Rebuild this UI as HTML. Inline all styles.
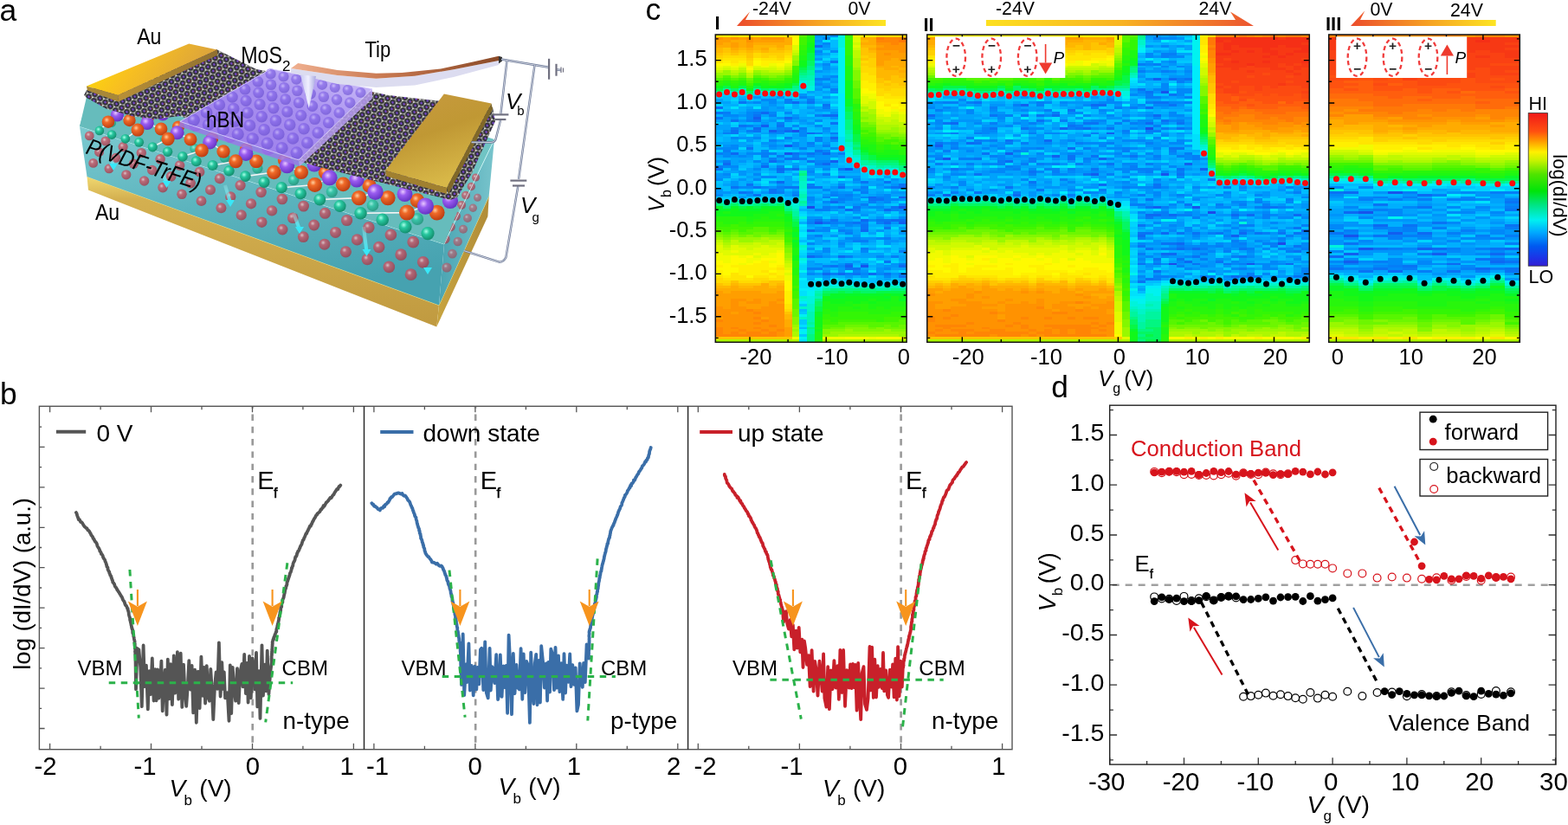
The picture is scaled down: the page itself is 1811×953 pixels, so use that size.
<!DOCTYPE html>
<html><head><meta charset="utf-8"><title>Figure</title>
<style>
html,body{margin:0;padding:0;background:#fff;overflow:hidden}
svg{display:block}
text{font-family:"Liberation Sans",Arial,sans-serif}
</style></head><body>
<svg width="1811" height="953" viewBox="0 0 1811 953">
<rect width="1811" height="953" fill="#fff"/>
<defs>
<radialGradient id="sRed" cx="0.38" cy="0.35" r="0.7"><stop offset="0" stop-color="#f8c8cc"/><stop offset="0.3" stop-color="#d05868"/><stop offset="1" stop-color="#a03848"/></radialGradient>
<radialGradient id="sOr" cx="0.38" cy="0.35" r="0.7"><stop offset="0" stop-color="#ffd0a0"/><stop offset="0.3" stop-color="#f06a28"/><stop offset="1" stop-color="#b83a10"/></radialGradient>
<radialGradient id="sGr" cx="0.38" cy="0.35" r="0.7"><stop offset="0" stop-color="#a8ffe8"/><stop offset="0.35" stop-color="#28c8a0"/><stop offset="1" stop-color="#108868"/></radialGradient>
<radialGradient id="sPu" cx="0.38" cy="0.35" r="0.7"><stop offset="0" stop-color="#e8c8ff"/><stop offset="0.35" stop-color="#9a5cf0"/><stop offset="1" stop-color="#6030c0"/></radialGradient>
<radialGradient id="sPu2" cx="0.38" cy="0.35" r="0.7"><stop offset="0" stop-color="#d8ccff"/><stop offset="0.35" stop-color="#7c5ce8"/><stop offset="1" stop-color="#5a40c8"/></radialGradient>
<linearGradient id="goldF" x1="0" y1="0" x2="0" y2="1"><stop offset="0" stop-color="#f0d870"/><stop offset="0.15" stop-color="#d4b050"/><stop offset="1" stop-color="#c09a40"/></linearGradient>
<linearGradient id="goldR" x1="0" y1="0" x2="1" y2="0"><stop offset="0" stop-color="#c8a440"/><stop offset="1" stop-color="#b08c38"/></linearGradient>
<linearGradient id="tealF" x1="0" y1="0" x2="0.3" y2="1"><stop offset="0" stop-color="#7ccad0"/><stop offset="0.5" stop-color="#5cb4be"/><stop offset="1" stop-color="#46a2b0"/></linearGradient>
<linearGradient id="tealR" x1="0" y1="0" x2="1" y2="0"><stop offset="0" stop-color="#4aa4b2"/><stop offset="1" stop-color="#78c4cc"/></linearGradient>
<linearGradient id="hbnG" x1="0" y1="1" x2="1" y2="0"><stop offset="0" stop-color="#9878e8"/><stop offset="0.6" stop-color="#a890f0"/><stop offset="1" stop-color="#d0c4f8"/></linearGradient>
<linearGradient id="auL" x1="0" y1="0" x2="1" y2="0.3"><stop offset="0" stop-color="#ffe200"/><stop offset="0.45" stop-color="#f8c020"/><stop offset="1" stop-color="#d8a040"/></linearGradient>
<linearGradient id="auLs" x1="0" y1="0" x2="1" y2="0"><stop offset="0" stop-color="#b89038"/><stop offset="1" stop-color="#907030"/></linearGradient>
<linearGradient id="auR" x1="0" y1="0" x2="0.4" y2="1"><stop offset="0" stop-color="#c89a40"/><stop offset="0.5" stop-color="#c09834"/><stop offset="1" stop-color="#d8b848"/></linearGradient>
<linearGradient id="cant" x1="0" y1="0" x2="1" y2="0"><stop offset="0" stop-color="#f0b090"/><stop offset="0.45" stop-color="#c87850"/><stop offset="1" stop-color="#8a4a28"/></linearGradient>
<linearGradient id="cone" x1="0" y1="0" x2="1" y2="0"><stop offset="0" stop-color="#c8c8f0"/><stop offset="0.5" stop-color="#f0f0ff"/><stop offset="1" stop-color="#a8a8e0"/></linearGradient>
<linearGradient id="cyA" x1="0" y1="0" x2="0" y2="1"><stop offset="0" stop-color="#c0ffff" stop-opacity="0.2"/><stop offset="1" stop-color="#30e8f8"/></linearGradient>
<pattern id="mos2" width="8" height="13.8" patternUnits="userSpaceOnUse" patternTransform="rotate(-22) scale(0.95)">
<rect width="8" height="13.8" fill="#303036"/>
<path d="M0 2.3L4 0L8 2.3M0 2.3V6.9L4 9.2L8 6.9V2.3M4 9.2V13.8M0 16.1" stroke="#9a9a94" stroke-width="1.2" fill="none"/>
<circle cx="4" cy="4.6" r="1.3" fill="#7a48d8"/><circle cx="0" cy="11.5" r="1.3" fill="#7a48d8"/><circle cx="8" cy="11.5" r="1.3" fill="#7a48d8"/>
<circle cx="4" cy="0" r="1" fill="#f0f0e8"/><circle cx="0" cy="6.9" r="1" fill="#f0f0e8"/><circle cx="8" cy="6.9" r="1" fill="#f0f0e8"/><circle cx="4" cy="13.8" r="1" fill="#f0f0e8"/>
<circle cx="0" cy="2.3" r="0.8" fill="#d8d8d0"/><circle cx="8" cy="2.3" r="0.8" fill="#d8d8d0"/><circle cx="4" cy="9.2" r="0.8" fill="#d8d8d0"/>
<circle cx="2" cy="12.5" r="0.6" fill="#c84020"/>
</pattern>
</defs>
<polygon points="100.5,204.0 507.0,352.6 504.3,377.5 102.0,219.6" fill="url(#goldF)"/>
<polygon points="507.0,352.6 564.7,226.6 563.4,250.0 504.3,377.5" fill="url(#goldR)"/>
<path d="M100.5 204L507 352.6L564.7 226.6" stroke="#f0e080" stroke-width="1" fill="none"/>
<polygon points="92.0,146.0 513.0,282.0 507.0,352.6 100.5,204.0" fill="url(#tealF)"/>
<polygon points="513.0,282.0 571.0,161.0 564.7,226.6 507.0,352.6" fill="url(#tealR)"/>
<polygon points="92.0,146.0 513.0,282.0 571.0,161.0 380.0,100.0 150.0,95.0 100.0,118.0" fill="#70c4c4"/>
<g fill="url(#sRed)" opacity="0.8"><circle cx="103.3" cy="156.9" r="5.4"/><circle cx="121.9" cy="163.0" r="5.5"/><circle cx="142.1" cy="169.6" r="5.6"/><circle cx="163.3" cy="176.6" r="5.7"/><circle cx="185.1" cy="183.8" r="5.8"/><circle cx="207.6" cy="191.1" r="5.8"/><circle cx="230.5" cy="198.7" r="5.9"/><circle cx="253.8" cy="206.3" r="6.0"/><circle cx="277.6" cy="214.1" r="6.1"/><circle cx="301.6" cy="222.0" r="6.2"/><circle cx="325.9" cy="230.0" r="6.3"/><circle cx="350.6" cy="238.1" r="6.4"/><circle cx="375.4" cy="246.3" r="6.5"/><circle cx="400.6" cy="254.5" r="6.6"/><circle cx="425.9" cy="262.8" r="6.7"/><circle cx="451.4" cy="271.2" r="6.8"/><circle cx="477.2" cy="279.7" r="6.9"/><circle cx="114.5" cy="175.7" r="5.5"/><circle cx="133.8" cy="182.3" r="5.5"/><circle cx="154.3" cy="189.2" r="5.6"/><circle cx="175.7" cy="196.5" r="5.7"/><circle cx="197.6" cy="203.9" r="5.8"/><circle cx="220.1" cy="211.6" r="5.9"/><circle cx="243.0" cy="219.3" r="6.0"/><circle cx="266.3" cy="227.3" r="6.1"/><circle cx="290.0" cy="235.3" r="6.1"/><circle cx="314.0" cy="243.4" r="6.2"/><circle cx="338.2" cy="251.7" r="6.3"/><circle cx="362.7" cy="260.0" r="6.4"/><circle cx="387.5" cy="268.4" r="6.5"/><circle cx="412.5" cy="276.9" r="6.6"/><circle cx="437.7" cy="285.5" r="6.7"/><circle cx="463.1" cy="294.1" r="6.8"/><circle cx="488.7" cy="302.8" r="6.9"/><circle cx="107.7" cy="188.4" r="5.4"/><circle cx="126.0" cy="194.8" r="5.5"/><circle cx="145.8" cy="201.8" r="5.6"/><circle cx="166.6" cy="209.0" r="5.7"/><circle cx="188.0" cy="216.6" r="5.8"/><circle cx="210.0" cy="224.3" r="5.8"/><circle cx="232.5" cy="232.2" r="5.9"/><circle cx="255.4" cy="240.3" r="6.0"/><circle cx="278.7" cy="248.4" r="6.1"/><circle cx="302.3" cy="256.7" r="6.2"/><circle cx="326.2" cy="265.1" r="6.3"/><circle cx="350.3" cy="273.6" r="6.4"/><circle cx="374.8" cy="282.2" r="6.5"/><circle cx="399.4" cy="290.8" r="6.6"/><circle cx="424.3" cy="299.6" r="6.7"/><circle cx="449.3" cy="308.4" r="6.8"/><circle cx="474.6" cy="317.2" r="6.9"/></g>
<g fill="url(#sRed)"><circle cx="514.0" cy="276.0" r="5.6" opacity="0.75"/><circle cx="520.4" cy="262.0" r="5.4" opacity="0.75"/><circle cx="526.7" cy="249.5" r="5.2" opacity="0.75"/><circle cx="533.0" cy="236.9" r="5.0" opacity="0.75"/><circle cx="538.0" cy="225.6" r="4.9" opacity="0.75"/><circle cx="544.3" cy="215.5" r="4.7" opacity="0.75"/><circle cx="549.5" cy="205.0" r="4.5" opacity="0.75"/><circle cx="516.0" cy="309.0" r="5.6" opacity="0.60"/><circle cx="522.4" cy="293.2" r="5.4" opacity="0.60"/><circle cx="528.7" cy="279.0" r="5.2" opacity="0.60"/><circle cx="535.0" cy="264.7" r="5.0" opacity="0.60"/><circle cx="540.0" cy="252.0" r="4.9" opacity="0.60"/><circle cx="546.3" cy="240.2" r="4.7" opacity="0.60"/><circle cx="551.5" cy="228.2" r="4.5" opacity="0.60"/></g>
<path d="M128.5 183.0L131.0 192.0" stroke="url(#cyA)" stroke-width="4"/>
<path d="M126.0 189.0L136.0 189.0L131.0 197.0Z" fill="#38e8f8"/>
<path d="M188.0 200.0L192.5 212.0" stroke="url(#cyA)" stroke-width="4"/>
<path d="M187.5 209.0L197.5 209.0L192.5 217.0Z" fill="#38e8f8"/>
<path d="M260.0 214.0L266.0 234.0" stroke="url(#cyA)" stroke-width="4"/>
<path d="M261.0 231.0L271.0 231.0L266.0 239.0Z" fill="#38e8f8"/>
<path d="M339.0 246.0L346.0 265.0" stroke="url(#cyA)" stroke-width="4"/>
<path d="M341.0 262.0L351.0 262.0L346.0 270.0Z" fill="#38e8f8"/>
<path d="M420.0 262.0L423.5 291.0" stroke="url(#cyA)" stroke-width="4"/>
<path d="M418.5 288.0L428.5 288.0L423.5 296.0Z" fill="#38e8f8"/>
<path d="M494.0 283.0L494.0 312.0" stroke="url(#cyA)" stroke-width="4"/>
<path d="M489.0 309.0L499.0 309.0L494.0 317.0Z" fill="#38e8f8"/>
<path d="M92 146L513 282L571 161" stroke="#e0ffff" stroke-width="0.9" fill="none" opacity="0.8"/>
<polygon points="92.0,146.0 513.0,282.0 530.0,240.0 520.0,228.0 363.0,188.0 208.0,136.0 180.0,133.0 123.0,122.0 100.0,112.0" fill="#66bcbc"/>
<g fill="url(#sGr)" opacity="0.7"><circle cx="128.9" cy="141.9" r="5.2"/><circle cx="158.8" cy="151.3" r="5.4"/><circle cx="190.3" cy="160.8" r="5.5"/><circle cx="224.9" cy="171.8" r="5.7"/><circle cx="259.6" cy="182.0" r="5.9"/><circle cx="297.4" cy="194.6" r="6.1"/><circle cx="339.2" cy="207.7" r="6.3"/><circle cx="383.3" cy="221.5" r="6.6"/><circle cx="430.5" cy="237.3" r="6.8"/><circle cx="482.1" cy="253.0" r="7.1"/></g>
<g fill="url(#sOr)"><circle cx="137.0" cy="126.7" r="6.8"/><circle cx="171.0" cy="136.1" r="6.9"/><circle cx="206.0" cy="146.5" r="7.1"/><circle cx="245.0" cy="159.7" r="7.3"/><circle cx="284.3" cy="172.3" r="7.4"/><circle cx="328.4" cy="185.0" r="7.6"/><circle cx="375.6" cy="199.5" r="7.8"/><circle cx="426.6" cy="214.6" r="8.1"/><circle cx="482.0" cy="231.6" r="8.3"/></g>
<g fill="url(#sPu)"><circle cx="150.0" cy="122.0" r="7.4"/><circle cx="188.0" cy="132.0" r="7.6"/><circle cx="226.0" cy="144.0" r="7.8"/><circle cx="266.0" cy="157.0" r="7.9"/><circle cx="310.0" cy="171.0" r="8.1"/><circle cx="363.0" cy="190.2" r="8.4"/><circle cx="412.0" cy="207.9" r="8.6"/><circle cx="467.5" cy="224.2" r="8.9"/><circle cx="520.0" cy="232.0" r="9.1"/></g>
<path d="M125.0 140.7L135.4 132.8M159.0 150.1L170.0 142.2M194.0 160.5L204.6 153.3M233.0 173.7L242.4 164.3M272.3 186.3L284.0 177.5M316.4 199.0L331.5 191.5M363.6 213.5L380.6 205.3M414.6 228.6L433.5 221.7M470.0 245.6L491.4 238.1M149.5 139.0L135.4 132.8M186.0 149.0L170.0 142.2M220.0 161.0L204.6 153.3M258.0 175.0L242.4 164.3M296.0 186.3L284.0 177.5M347.9 199.0L331.5 191.5M396.3 212.9L380.6 205.3M448.0 228.6L433.5 221.7M504.7 245.6L491.4 238.1M125.0 140.7L114.9 150.9M159.0 150.1L144.8 160.3M194.0 160.5L176.3 169.8M233.0 173.7L210.9 180.8M272.3 186.3L245.6 191.0M316.4 199.0L283.4 203.6M363.6 213.5L325.2 216.7M414.6 228.6L369.3 230.5M470.0 245.6L416.5 246.3" stroke="#f4f4f4" stroke-width="1.6"/>
<g fill="url(#sGr)"><circle cx="114.9" cy="150.9" r="5.3"/><circle cx="129.1" cy="155.6" r="5.3"/><circle cx="144.8" cy="160.3" r="5.4"/><circle cx="160.6" cy="164.3" r="5.5"/><circle cx="176.3" cy="169.8" r="5.6"/><circle cx="193.6" cy="175.3" r="5.7"/><circle cx="210.9" cy="180.8" r="5.9"/><circle cx="226.7" cy="186.3" r="6.0"/><circle cx="245.6" cy="191.0" r="6.1"/><circle cx="264.5" cy="197.3" r="6.2"/><circle cx="283.4" cy="203.6" r="6.3"/><circle cx="305.0" cy="210.4" r="6.5"/><circle cx="325.2" cy="216.7" r="6.6"/><circle cx="347.2" cy="223.6" r="6.7"/><circle cx="369.3" cy="230.5" r="6.9"/><circle cx="392.6" cy="238.1" r="7.0"/><circle cx="416.5" cy="246.3" r="7.2"/><circle cx="441.7" cy="253.8" r="7.3"/><circle cx="468.1" cy="262.0" r="7.5"/><circle cx="494.0" cy="269.6" r="7.6"/></g>
<g fill="url(#sOr)"><circle cx="149.5" cy="139.0" r="7.2"/><circle cx="186.0" cy="149.0" r="7.4"/><circle cx="220.0" cy="161.0" r="7.5"/><circle cx="258.0" cy="175.0" r="7.7"/><circle cx="296.0" cy="186.3" r="7.9"/><circle cx="347.9" cy="199.0" r="8.1"/><circle cx="396.3" cy="212.9" r="8.4"/><circle cx="448.0" cy="228.6" r="8.6"/><circle cx="504.7" cy="245.6" r="8.9"/></g>
<g fill="url(#sPu)"><circle cx="135.4" cy="132.8" r="7.6"/><circle cx="170.0" cy="142.2" r="7.8"/><circle cx="204.6" cy="153.3" r="8.0"/><circle cx="242.4" cy="164.3" r="8.2"/><circle cx="284.0" cy="177.5" r="8.4"/><circle cx="331.5" cy="191.5" r="8.7"/><circle cx="380.6" cy="205.3" r="9.0"/><circle cx="433.5" cy="221.7" r="9.2"/><circle cx="491.4" cy="238.1" r="9.6"/></g>
<g fill="url(#sOr)"><circle cx="125.0" cy="140.7" r="7.3"/><circle cx="159.0" cy="150.1" r="7.5"/><circle cx="194.0" cy="160.5" r="7.7"/><circle cx="233.0" cy="173.7" r="7.8"/><circle cx="272.3" cy="186.3" r="8.0"/><circle cx="316.4" cy="199.0" r="8.2"/><circle cx="363.6" cy="213.5" r="8.5"/><circle cx="414.6" cy="228.6" r="8.7"/><circle cx="470.0" cy="245.6" r="9.0"/></g>
<polygon points="97.0,110.0 100.0,104.0 250.0,57.0 296.0,80.0 340.0,88.0 449.0,110.0 569.0,124.0 572.0,140.0 545.0,200.0 528.0,228.0 520.0,231.0 363.0,191.5 345.0,186.0 208.0,134.0 180.0,137.5 154.0,134.4 123.0,125.7 100.0,113.0" fill="url(#mos2)"/>
<polygon points="207.8,140.4 345.0,185.0 346.0,192.0 207.0,146.0" fill="#9a78e8" opacity="0.85"/>
<polygon points="345.0,185.0 430.0,102.7 430.0,113.7 346.0,192.0" fill="#b8a0f0" opacity="0.85"/>
<polygon points="207.8,140.4 312.7,79.5 430.0,102.7 345.0,185.0" fill="url(#hbnG)"/>
<g fill="url(#sPu2)" opacity="0.85"><circle cx="312.6" cy="85.4" r="6.1"/><circle cx="327.5" cy="88.5" r="6.1"/><circle cx="342.3" cy="91.6" r="6.1"/><circle cx="357.1" cy="94.7" r="6.1"/><circle cx="372.0" cy="97.8" r="6.1"/><circle cx="386.8" cy="100.9" r="6.1"/><circle cx="401.7" cy="103.9" r="6.1"/><circle cx="416.5" cy="107.0" r="6.1"/><circle cx="297.8" cy="94.3" r="6.3"/><circle cx="313.0" cy="97.8" r="6.3"/><circle cx="328.2" cy="101.2" r="6.3"/><circle cx="343.4" cy="104.7" r="6.3"/><circle cx="358.6" cy="108.2" r="6.3"/><circle cx="373.8" cy="111.7" r="6.3"/><circle cx="389.0" cy="115.1" r="6.3"/><circle cx="404.2" cy="118.6" r="6.3"/><circle cx="283.0" cy="103.2" r="6.4"/><circle cx="298.6" cy="107.0" r="6.4"/><circle cx="314.1" cy="110.9" r="6.4"/><circle cx="329.7" cy="114.7" r="6.4"/><circle cx="345.2" cy="118.6" r="6.4"/><circle cx="360.8" cy="122.5" r="6.4"/><circle cx="376.3" cy="126.3" r="6.4"/><circle cx="391.9" cy="130.2" r="6.4"/><circle cx="268.2" cy="112.1" r="6.6"/><circle cx="284.1" cy="116.3" r="6.6"/><circle cx="300.0" cy="120.5" r="6.6"/><circle cx="315.9" cy="124.8" r="6.6"/><circle cx="331.8" cy="129.0" r="6.6"/><circle cx="347.7" cy="133.3" r="6.6"/><circle cx="363.6" cy="137.5" r="6.6"/><circle cx="379.5" cy="141.7" r="6.6"/><circle cx="253.4" cy="121.0" r="6.8"/><circle cx="269.7" cy="125.6" r="6.8"/><circle cx="285.9" cy="130.2" r="6.8"/><circle cx="302.2" cy="134.8" r="6.8"/><circle cx="318.4" cy="139.4" r="6.8"/><circle cx="334.7" cy="144.1" r="6.8"/><circle cx="351.0" cy="148.7" r="6.8"/><circle cx="367.2" cy="153.3" r="6.8"/><circle cx="238.6" cy="129.9" r="6.9"/><circle cx="255.2" cy="134.9" r="6.9"/><circle cx="271.8" cy="139.9" r="6.9"/><circle cx="288.4" cy="144.9" r="6.9"/><circle cx="305.1" cy="149.9" r="6.9"/><circle cx="321.7" cy="154.9" r="6.9"/><circle cx="338.3" cy="159.9" r="6.9"/><circle cx="354.9" cy="164.9" r="6.9"/><circle cx="223.8" cy="138.7" r="7.1"/><circle cx="240.8" cy="144.1" r="7.1"/><circle cx="257.7" cy="149.5" r="7.1"/><circle cx="274.7" cy="154.9" r="7.1"/><circle cx="291.7" cy="160.3" r="7.1"/><circle cx="308.6" cy="165.7" r="7.1"/><circle cx="325.6" cy="171.0" r="7.1"/><circle cx="342.6" cy="176.4" r="7.1"/></g>
<polygon points="207.8,140.4 312.7,79.5 430.0,102.7 345.0,185.0" fill="url(#hbnG)" opacity="0.35"/>
<path d="M207.8 140.4L312.7 79.5L430 102.7L345 185Z" stroke="#e0d8ff" stroke-width="1" fill="none" opacity="0.8"/>
<polygon points="99.9,99.6 218.2,50.4 251.0,57.4 136.2,110.1" fill="url(#auL)"/>
<polygon points="99.9,99.6 136.2,110.1 136.7,117.5 101.0,104.6" fill="#a88838"/>
<polygon points="136.2,110.1 251.0,57.4 251.5,63.4 136.7,117.5" fill="url(#auLs)"/>
<polygon points="512.8,108.6 567.5,119.5 516.0,217.0 445.2,197.0" fill="url(#auR)"/>
<polygon points="445.2,197.0 516.0,217.0 516.0,224.0 446.0,203.5" fill="#a08030"/>
<polygon points="567.5,119.5 569.0,126.0 518.0,224.0 516.0,217.0" fill="#806828"/>
<polygon points="336.0,78.9 389.6,87.1 434.4,90.8 479.1,87.8 523.8,80.3 576.0,69.9 576.0,75.0 523.8,89.0 479.1,98.5 434.4,101.0 389.6,97.0 336.0,84.0" fill="#dcdcf0"/>
<polygon points="344.2,72.9 389.6,81.1 434.4,84.8 464.2,84.1 508.9,79.6 546.2,71.4 576.0,64.7 576.0,69.9 523.8,80.3 479.1,87.8 434.4,90.8 389.6,87.1 336.0,78.9" fill="url(#cant)"/>
<path d="M576 64.7L580 66L580 70.5L576 73.6Z" fill="#333"/>
<polygon points="347.1,86.5 365.0,88.0 356.8,125.1" fill="url(#cone)"/>
<path d="M579 68.5L634 77.8" stroke="#6c7a98" stroke-width="2.4" fill="none" stroke-linejoin="round"/>
<path d="M579 68.5L634 77.8" stroke="#e8e8f0" stroke-width="0.8" fill="none" stroke-linejoin="round"/>
<path d="M643 80.5L648 81" stroke="#6c7a98" stroke-width="2.4" fill="none" stroke-linejoin="round"/>
<path d="M643 80.5L648 81" stroke="#e8e8f0" stroke-width="0.8" fill="none" stroke-linejoin="round"/>
<path d="M585.5 70L578.4 131.5M578 139L572.5 161Q571 164.5 567 164.5L544.6 164.3" stroke="#6c7a98" stroke-width="2.4" fill="none" stroke-linejoin="round"/>
<path d="M585.5 70L578.4 131.5M578 139L572.5 161Q571 164.5 567 164.5L544.6 164.3" stroke="#e8e8f0" stroke-width="0.8" fill="none" stroke-linejoin="round"/>
<path d="M617.5 75.3L599 207M598.3 215L584.4 297Q582 302.7 576.5 302.7L535.8 289.6" stroke="#6c7a98" stroke-width="2.4" fill="none" stroke-linejoin="round"/>
<path d="M617.5 75.3L599 207M598.3 215L584.4 297Q582 302.7 576.5 302.7L535.8 289.6" stroke="#e8e8f0" stroke-width="0.8" fill="none" stroke-linejoin="round"/>
<line x1="634.1" y1="67.8" x2="634.1" y2="91.7" stroke="#707080" stroke-width="2.20"/>
<line x1="642.5" y1="73.8" x2="642.5" y2="87.7" stroke="#707080" stroke-width="2.20"/>
<line x1="568.5" y1="132.4" x2="587.4" y2="132.4" stroke="#707080" stroke-width="2.20"/>
<line x1="571.5" y1="138.0" x2="584.4" y2="138.0" stroke="#707080" stroke-width="2.20"/>
<line x1="589.4" y1="208.6" x2="608.3" y2="208.6" stroke="#707080" stroke-width="2.20"/>
<line x1="592.0" y1="214.5" x2="606.0" y2="214.5" stroke="#707080" stroke-width="2.20"/>
<path d="M648 77.5v6.5M650.5 78.5v5" stroke="#707080" stroke-width="1.2"/>
<text x="158.2" y="51.1" font-size="26" textLength="28.3" lengthAdjust="spacingAndGlyphs">Au</text>
<text x="109.9" y="254.2" font-size="26" textLength="28.3" lengthAdjust="spacingAndGlyphs">Au</text>
<text x="278.3" y="72.6" font-size="28" textLength="47.7" lengthAdjust="spacingAndGlyphs">MoS</text><text x="326" y="81.5" font-size="17">2</text>
<text x="421.4" y="66" font-size="26" textLength="29.8" lengthAdjust="spacingAndGlyphs">Tip</text>
<text x="238" y="146.6" font-size="26" textLength="44" lengthAdjust="spacingAndGlyphs">hBN</text>
<text transform="translate(98 177) rotate(18)" font-size="26.5" font-style="italic" textLength="138" lengthAdjust="spacingAndGlyphs">P(VDF-TrFE)</text>
<text x="584" y="125.5" font-size="26" font-style="italic">V</text><text x="597.3" y="133.4" font-size="15">b</text>
<text x="601" y="246.3" font-size="26" font-style="italic">V</text><text x="614.5" y="255.5" font-size="15">g</text>
<g transform="translate(826.30 40.00) scale(8.8280 2.9608)" shape-rendering="crispEdges">
<path fill="#1d49ea" d="M12 67h1v1h-1"/>
<path fill="#1753ed" d="M9 43h1v1h-1M9 46h1v1h-1M10 37h1v1h-1M13 73h1v1h-1M17 52h1v1h-1M19 90h1v1h-1M24 67h1v1h-1"/>
<path fill="#125ef0" d="M5 32h1v1h-1M6 35h1v1h-1M7 37h1v1h-1M15 49h1v1h-1M17 90h1v1h-1M24 63h1v1h-1M24 73h1v1h-1"/>
<path fill="#0d69f3" d="M0 28h1v1h-1M0 52h1v1h-1M1 50h1v1h-1M2 46h1v1h-1M5 36h1v1h-1M6 30h1v1h-1M6 51h1v1h-1M7 49h1v1h-1M8 52h1v1h-1M8 57h1v1h-1M9 32h1v1h-1M9 37h1v1h-1M10 26h1v1h-1M10 52h1v1h-1M12 38h1v1h-1M12 76h1v1h-1M12 86h1v1h-1M13 4h1v1h-1M14 31h1v1h-1M14 46h1v1h-1M14 50h1v1h-1M14 93h1v1h-1M15 31h1v1h-1M15 40h1v1h-1M15 65h1v1h-1M16 55h1v1h-1M16 59h1v1h-1M16 86h1v1h-1M16 93h1v1h-1M17 68h1v1h-1M19 72h1v1h-1M19 76h1v1h-1M20 63h1v1h-1M20 93h1v1h-1M22 68h1v1h-1M22 73h1v1h-1M23 72h1v1h-1M24 59h1v1h-1M24 72h1v1h-1M24 90h1v1h-1"/>
<path fill="#0973f5" d="M0 30h1v1h-1M0 32h1v1h-1M2 33h1v1h-1M2 37h1v2h-1M2 59h1v1h-1M3 26h1v1h-1M3 35h1v1h-1M3 61h1v1h-1M4 44h1v1h-1M4 58h1v1h-1M5 31h1v1h-1M5 33h1v1h-1M5 37h1v1h-1M5 59h1v1h-1M5 62h1v1h-1M7 60h1v2h-1M8 35h1v1h-1M8 53h1v1h-1M9 48h1v1h-1M9 59h1v1h-1M10 46h1v1h-1M10 48h1v1h-1M10 59h1v1h-1M12 26h1v1h-1M12 46h1v1h-1M12 49h1v1h-1M12 59h1v1h-1M13 45h1v1h-1M13 59h1v1h-1M13 72h1v1h-1M14 27h1v1h-1M14 73h1v1h-1M15 10h1v1h-1M15 34h1v1h-1M15 72h1v1h-1M15 90h1v1h-1M16 52h1v1h-1M16 67h1v1h-1M17 89h1v1h-1M17 91h1v1h-1M18 67h1v1h-1M18 73h1v1h-1M18 91h1v1h-1M18 93h1v1h-1M19 57h1v1h-1M19 74h1v2h-1M20 64h1v1h-1M21 64h1v1h-1M21 72h1v1h-1M22 57h1v1h-1M22 72h1v1h-1M22 75h1v1h-1M22 88h1v1h-1M22 93h1v1h-1M23 59h1v1h-1M23 67h1v1h-1M24 58h1v1h-1M24 94h1v1h-1"/>
<path fill="#057ef7" d="M0 46h1v1h-1M0 51h1v1h-1M1 30h1v1h-1M1 38h1v1h-1M1 45h1v1h-1M1 49h1v1h-1M2 36h1v1h-1M4 33h1v1h-1M4 35h1v1h-1M4 37h1v1h-1M4 61h1v1h-1M5 30h1v1h-1M6 46h1v2h-1M7 31h1v1h-1M7 41h1v1h-1M7 46h1v1h-1M7 48h1v1h-1M8 34h1v1h-1M8 37h1v1h-1M8 47h1v1h-1M8 51h1v1h-1M8 59h1v1h-1M8 61h1v1h-1M9 25h1v2h-1M9 36h1v1h-1M9 40h1v1h-1M9 52h1v1h-1M10 47h1v1h-1M10 62h1v1h-1M11 24h1v1h-1M11 36h1v1h-1M11 44h1v1h-1M11 48h1v1h-1M12 25h1v1h-1M12 42h1v1h-1M12 58h1v1h-1M12 73h1v1h-1M12 91h1v1h-1M13 17h1v1h-1M13 31h1v1h-1M13 38h1v1h-1M13 40h1v2h-1M13 50h1v1h-1M13 68h1v1h-1M13 78h1v1h-1M13 86h1v1h-1M13 91h1v1h-1M14 17h1v1h-1M14 28h1v1h-1M14 43h1v1h-1M14 54h1v1h-1M14 63h1v1h-1M14 67h1v2h-1M14 90h1v1h-1M15 21h1v1h-1M15 38h1v1h-1M15 62h1v1h-1M15 73h1v1h-1M15 93h1v1h-1M16 46h1v1h-1M16 64h1v1h-1M16 76h1v1h-1M17 62h1v1h-1M17 73h1v1h-1M17 77h1v1h-1M17 86h1v1h-1M17 93h1v1h-1M18 60h1v1h-1M18 68h1v1h-1M18 80h1v1h-1M19 59h1v1h-1M19 61h1v1h-1M19 66h1v1h-1M19 73h1v1h-1M19 80h1v1h-1M19 83h1v1h-1M20 65h1v1h-1M21 63h1v1h-1M21 73h1v1h-1M22 79h1v1h-1M23 68h1v1h-1M23 86h1v1h-1M24 84h1v1h-1M24 89h1v1h-1M24 93h1v1h-1"/>
<path fill="#0188f9" d="M0 44h1v1h-1M0 56h1v1h-1M0 62h1v1h-1M1 31h1v1h-1M1 44h1v1h-1M1 46h1v2h-1M1 51h1v1h-1M1 54h1v1h-1M2 31h1v1h-1M2 40h1v1h-1M2 43h1v2h-1M2 51h1v1h-1M3 47h1v1h-1M3 59h1v1h-1M4 30h1v3h-1M4 46h1v1h-1M4 59h1v1h-1M5 26h1v1h-1M5 40h1v1h-1M5 46h1v1h-1M5 49h1v1h-1M5 52h1v1h-1M5 54h1v1h-1M5 56h1v1h-1M6 25h1v1h-1M6 45h1v1h-1M6 50h1v1h-1M6 55h1v1h-1M6 59h1v1h-1M7 25h1v2h-1M7 30h1v1h-1M7 38h1v1h-1M7 43h1v1h-1M7 55h1v1h-1M8 36h1v1h-1M8 38h1v1h-1M8 49h1v1h-1M8 60h1v1h-1M9 30h1v1h-1M9 33h1v1h-1M10 32h1v1h-1M10 35h1v1h-1M10 42h1v2h-1M10 61h1v1h-1M11 37h1v3h-1M11 46h1v1h-1M12 43h1v1h-1M12 47h1v1h-1M12 53h1v1h-1M12 63h1v2h-1M12 72h1v1h-1M12 81h1v1h-1M12 93h1v1h-1M13 6h1v1h-1M13 19h1v1h-1M13 33h1v1h-1M13 35h1v1h-1M13 46h1v1h-1M13 49h1v1h-1M13 76h1v1h-1M14 1h1v1h-1M14 3h1v1h-1M14 11h1v1h-1M14 20h1v1h-1M14 36h1v1h-1M14 45h1v1h-1M14 49h1v1h-1M14 52h1v1h-1M14 60h1v1h-1M14 65h1v1h-1M14 75h1v2h-1M14 83h1v2h-1M15 0h1v1h-1M15 6h1v1h-1M15 16h1v1h-1M15 22h1v1h-1M15 41h1v1h-1M15 44h1v1h-1M15 61h1v1h-1M15 64h1v1h-1M15 67h1v1h-1M16 58h1v1h-1M16 62h1v2h-1M16 65h1v1h-1M16 73h1v1h-1M16 81h1v1h-1M16 90h1v1h-1M17 63h1v2h-1M17 74h1v1h-1M17 76h1v1h-1M17 79h1v1h-1M18 56h1v1h-1M18 71h1v1h-1M18 79h1v1h-1M18 92h1v1h-1M19 60h1v1h-1M19 63h1v1h-1M19 84h1v1h-1M19 89h1v1h-1M19 93h1v1h-1M20 67h1v1h-1M20 72h1v1h-1M21 67h1v1h-1M21 79h1v1h-1M21 86h1v1h-1M21 93h1v1h-1M22 59h1v1h-1M22 62h1v4h-1M22 91h1v1h-1M22 94h1v1h-1M23 64h1v1h-1M24 66h1v1h-1M24 68h1v1h-1M24 71h1v1h-1"/>
<path fill="#0095fb" d="M0 49h1v1h-1M0 54h1v2h-1M0 60h1v2h-1M1 37h1v1h-1M1 43h1v1h-1M1 55h1v1h-1M1 61h1v1h-1M2 32h1v1h-1M2 47h1v1h-1M2 52h1v1h-1M2 57h1v2h-1M3 31h1v1h-1M3 33h1v1h-1M3 36h1v1h-1M3 40h1v1h-1M3 49h1v1h-1M3 53h1v2h-1M3 56h1v1h-1M3 63h1v1h-1M4 26h1v1h-1M4 29h1v1h-1M4 40h1v2h-1M4 43h1v1h-1M4 47h1v1h-1M4 62h1v1h-1M5 24h1v1h-1M5 29h1v1h-1M5 35h1v1h-1M6 28h1v2h-1M6 34h1v1h-1M6 42h1v1h-1M6 61h1v1h-1M7 27h1v1h-1M7 33h1v1h-1M7 42h1v1h-1M7 44h1v1h-1M7 52h1v1h-1M7 57h1v1h-1M7 59h1v1h-1M8 24h1v1h-1M8 28h1v1h-1M8 32h1v1h-1M8 41h1v1h-1M8 43h1v1h-1M8 58h1v1h-1M10 31h1v1h-1M10 51h1v1h-1M11 23h1v1h-1M11 26h1v1h-1M11 33h1v1h-1M12 24h1v1h-1M12 28h1v1h-1M12 34h1v1h-1M12 52h1v1h-1M12 54h1v1h-1M12 56h1v1h-1M12 65h1v1h-1M12 71h1v1h-1M12 78h1v2h-1M12 83h1v1h-1M12 85h1v1h-1M13 0h1v1h-1M13 2h1v1h-1M13 7h1v1h-1M13 9h1v1h-1M13 14h1v1h-1M13 18h1v1h-1M13 21h1v1h-1M13 29h1v1h-1M13 47h1v2h-1M13 51h1v1h-1M13 71h1v1h-1M13 75h1v1h-1M13 85h1v1h-1M13 89h1v1h-1M13 93h1v1h-1M14 4h1v1h-1M14 12h1v2h-1M14 16h1v1h-1M14 19h1v1h-1M14 24h1v1h-1M14 29h1v1h-1M14 37h1v1h-1M14 42h1v1h-1M14 47h1v2h-1M14 51h1v1h-1M14 62h1v1h-1M14 72h1v1h-1M14 80h1v1h-1M14 86h1v1h-1M14 92h1v1h-1M14 94h1v1h-1M15 18h1v1h-1M15 30h1v1h-1M15 32h1v1h-1M15 46h1v2h-1M15 59h1v1h-1M15 68h1v1h-1M15 74h1v1h-1M15 78h1v1h-1M16 61h1v1h-1M16 75h1v1h-1M16 80h1v1h-1M16 82h1v1h-1M16 89h1v1h-1M16 91h1v2h-1M17 55h1v1h-1M17 61h1v1h-1M17 80h1v1h-1M17 94h1v1h-1M18 55h1v1h-1M18 57h1v1h-1M18 62h1v1h-1M18 64h1v1h-1M18 66h1v1h-1M18 69h1v1h-1M18 74h1v1h-1M18 78h1v1h-1M19 67h1v1h-1M19 70h1v1h-1M19 79h1v1h-1M19 92h1v1h-1M19 94h1v1h-1M20 79h1v1h-1M21 56h1v1h-1M21 58h1v1h-1M21 62h1v1h-1M21 65h1v1h-1M21 68h1v1h-1M21 71h1v1h-1M21 76h1v1h-1M21 91h1v2h-1M22 74h1v1h-1M22 80h1v2h-1M22 90h1v1h-1M23 56h1v1h-1M23 58h1v1h-1M23 61h1v1h-1M23 73h1v1h-1M23 80h1v1h-1M23 89h1v2h-1M23 93h1v1h-1M24 61h1v1h-1M24 64h1v1h-1M24 69h1v1h-1M24 75h1v1h-1M24 77h1v1h-1M24 79h1v1h-1"/>
<path fill="#00a2fc" d="M0 25h1v2h-1M0 33h1v1h-1M0 35h1v2h-1M0 38h1v1h-1M0 42h1v1h-1M0 47h1v1h-1M1 26h1v1h-1M1 32h1v2h-1M1 35h1v2h-1M1 42h1v1h-1M1 53h1v1h-1M1 58h1v1h-1M2 41h1v2h-1M2 48h1v3h-1M2 53h1v1h-1M2 60h1v2h-1M3 25h1v1h-1M3 30h1v1h-1M3 37h1v1h-1M3 42h1v2h-1M3 46h1v1h-1M3 48h1v1h-1M4 28h1v1h-1M4 38h1v1h-1M4 45h1v1h-1M4 48h1v1h-1M4 52h1v2h-1M4 55h1v1h-1M4 57h1v1h-1M5 39h1v1h-1M5 51h1v1h-1M5 53h1v1h-1M5 55h1v1h-1M6 26h1v2h-1M6 31h1v1h-1M6 33h1v1h-1M6 36h1v1h-1M6 38h1v1h-1M6 43h1v1h-1M6 48h1v2h-1M7 28h1v2h-1M7 32h1v1h-1M7 36h1v1h-1M7 39h1v1h-1M8 26h1v1h-1M8 29h1v1h-1M8 44h1v1h-1M8 48h1v1h-1M9 41h1v1h-1M9 55h1v4h-1M9 61h1v2h-1M10 33h1v1h-1M10 39h1v2h-1M10 44h1v1h-1M10 50h1v1h-1M10 54h1v1h-1M10 57h1v1h-1M10 60h1v1h-1M11 32h1v1h-1M11 34h1v1h-1M11 40h1v4h-1M12 22h1v1h-1M12 30h1v1h-1M12 32h1v1h-1M12 51h1v1h-1M12 61h1v1h-1M12 66h1v1h-1M12 68h1v1h-1M12 74h1v1h-1M12 88h1v3h-1M12 92h1v1h-1M13 1h1v1h-1M13 3h1v1h-1M13 11h1v1h-1M13 20h1v1h-1M13 26h1v1h-1M13 28h1v1h-1M13 43h1v2h-1M13 54h1v2h-1M13 61h1v1h-1M13 64h1v1h-1M13 79h1v3h-1M13 84h1v1h-1M13 90h1v1h-1M14 0h1v1h-1M14 5h1v1h-1M14 7h1v1h-1M14 14h1v1h-1M14 22h1v1h-1M14 26h1v1h-1M14 38h1v1h-1M14 40h1v2h-1M14 55h1v1h-1M14 66h1v1h-1M14 85h1v1h-1M14 91h1v1h-1M14 95h1v1h-1M15 13h1v1h-1M15 17h1v1h-1M15 20h1v1h-1M15 29h1v1h-1M15 39h1v1h-1M15 50h1v2h-1M15 60h1v1h-1M15 71h1v1h-1M15 75h1v1h-1M15 86h1v1h-1M15 88h1v1h-1M16 47h1v1h-1M16 53h1v1h-1M16 57h1v1h-1M16 68h1v2h-1M16 72h1v1h-1M16 77h1v1h-1M17 53h1v1h-1M17 59h1v1h-1M17 65h1v2h-1M17 71h1v2h-1M17 75h1v1h-1M17 83h1v1h-1M18 52h1v2h-1M18 59h1v1h-1M18 63h1v1h-1M18 65h1v1h-1M18 76h1v2h-1M18 86h1v1h-1M18 88h1v1h-1M19 58h1v1h-1M19 65h1v1h-1M19 69h1v1h-1M19 81h1v1h-1M19 85h1v2h-1M19 91h1v1h-1M20 57h1v2h-1M20 62h1v1h-1M20 69h1v1h-1M20 77h1v1h-1M20 80h1v1h-1M20 83h1v1h-1M20 85h1v2h-1M21 57h1v1h-1M21 59h1v1h-1M21 61h1v1h-1M21 66h1v1h-1M21 85h1v1h-1M21 89h1v2h-1M22 55h1v1h-1M22 67h1v1h-1M22 69h1v1h-1M22 78h1v1h-1M22 83h1v1h-1M22 86h1v1h-1M22 95h1v1h-1M23 57h1v1h-1M23 62h1v1h-1M23 79h1v1h-1M23 91h1v1h-1M23 94h1v1h-1M24 62h1v1h-1M24 76h1v1h-1M24 80h1v1h-1M24 83h1v1h-1M24 86h1v2h-1M24 91h1v1h-1"/>
<path fill="#00affe" d="M0 31h1v1h-1M0 37h1v1h-1M0 39h1v1h-1M0 48h1v1h-1M1 27h1v1h-1M1 29h1v1h-1M1 34h1v1h-1M1 40h1v2h-1M1 48h1v1h-1M1 57h1v1h-1M1 62h1v1h-1M2 27h1v1h-1M2 29h1v2h-1M2 45h1v1h-1M2 56h1v1h-1M3 24h1v1h-1M3 28h1v2h-1M3 32h1v1h-1M3 34h1v1h-1M3 39h1v1h-1M3 45h1v1h-1M3 50h1v1h-1M3 57h1v2h-1M3 62h1v1h-1M4 36h1v1h-1M4 42h1v1h-1M4 49h1v1h-1M4 54h1v1h-1M4 56h1v1h-1M4 60h1v1h-1M5 34h1v1h-1M5 38h1v1h-1M5 41h1v1h-1M5 50h1v1h-1M5 58h1v1h-1M5 61h1v1h-1M6 37h1v1h-1M6 52h1v1h-1M6 60h1v1h-1M7 24h1v1h-1M7 34h1v2h-1M7 40h1v1h-1M7 51h1v1h-1M7 53h1v1h-1M8 27h1v1h-1M8 42h1v1h-1M8 46h1v1h-1M8 50h1v1h-1M8 55h1v1h-1M9 29h1v1h-1M9 31h1v1h-1M9 47h1v1h-1M9 49h1v2h-1M9 53h1v1h-1M10 25h1v1h-1M10 27h1v2h-1M10 38h1v1h-1M11 25h1v1h-1M11 29h1v3h-1M11 45h1v1h-1M11 47h1v1h-1M11 49h1v2h-1M11 52h1v1h-1M11 68h1v1h-1M11 73h1v1h-1M12 27h1v1h-1M12 29h1v1h-1M12 33h1v1h-1M12 35h1v1h-1M12 44h1v1h-1M12 60h1v1h-1M12 62h1v1h-1M12 69h1v1h-1M12 75h1v1h-1M12 94h1v2h-1M13 5h1v1h-1M13 8h1v1h-1M13 12h1v1h-1M13 15h1v2h-1M13 22h1v2h-1M13 25h1v1h-1M13 30h1v1h-1M13 32h1v1h-1M13 36h1v1h-1M13 60h1v1h-1M13 63h1v1h-1M13 66h1v2h-1M13 69h1v1h-1M13 74h1v1h-1M13 94h1v1h-1M14 10h1v1h-1M14 15h1v1h-1M14 18h1v1h-1M14 32h1v1h-1M14 44h1v1h-1M14 57h1v1h-1M14 59h1v1h-1M14 61h1v1h-1M14 77h1v2h-1M14 81h1v1h-1M14 89h1v1h-1M15 5h1v1h-1M15 9h1v1h-1M15 12h1v1h-1M15 14h1v1h-1M15 19h1v1h-1M15 24h1v1h-1M15 35h1v2h-1M15 55h1v1h-1M15 58h1v1h-1M15 70h1v1h-1M15 89h1v1h-1M15 91h1v1h-1M15 94h1v1h-1M16 48h1v2h-1M16 51h1v1h-1M16 54h1v1h-1M16 60h1v1h-1M16 66h1v1h-1M16 71h1v1h-1M16 74h1v1h-1M16 79h1v1h-1M16 83h1v1h-1M16 85h1v1h-1M16 87h1v2h-1M16 94h1v1h-1M17 54h1v1h-1M17 57h1v1h-1M17 70h1v1h-1M17 81h1v1h-1M17 85h1v1h-1M17 88h1v1h-1M17 95h1v1h-1M18 54h1v1h-1M18 72h1v1h-1M18 75h1v1h-1M18 85h1v1h-1M18 89h1v1h-1M18 94h1v1h-1M19 62h1v1h-1M19 68h1v1h-1M20 56h1v1h-1M20 60h1v2h-1M20 71h1v1h-1M20 74h1v1h-1M20 76h1v1h-1M20 81h1v1h-1M20 90h1v1h-1M21 60h1v1h-1M21 70h1v1h-1M21 74h1v1h-1M21 83h1v1h-1M21 87h1v1h-1M21 94h1v2h-1M22 58h1v1h-1M22 61h1v1h-1M22 76h1v2h-1M22 84h1v1h-1M22 87h1v1h-1M22 92h1v1h-1M23 60h1v1h-1M23 65h1v1h-1M23 71h1v1h-1M23 74h1v1h-1M23 81h1v1h-1M23 85h1v1h-1M24 56h1v2h-1M24 70h1v1h-1M24 85h1v1h-1M24 88h1v1h-1M24 95h1v1h-1"/>
<path fill="#00bcff" d="M0 40h1v2h-1M0 50h1v1h-1M0 53h1v1h-1M0 58h1v2h-1M1 24h1v2h-1M1 28h1v1h-1M1 39h1v1h-1M1 52h1v1h-1M1 59h1v2h-1M2 26h1v1h-1M2 62h1v1h-1M3 38h1v1h-1M3 51h1v1h-1M3 55h1v1h-1M3 60h1v1h-1M4 27h1v1h-1M4 34h1v1h-1M4 50h1v2h-1M4 63h1v1h-1M5 25h1v1h-1M5 27h1v1h-1M5 43h1v3h-1M6 24h1v1h-1M6 32h1v1h-1M6 40h1v1h-1M6 44h1v1h-1M6 53h1v1h-1M6 62h1v1h-1M7 47h1v1h-1M7 54h1v1h-1M7 58h1v1h-1M7 62h1v2h-1M8 25h1v1h-1M8 39h1v1h-1M8 54h1v1h-1M8 56h1v1h-1M8 62h1v1h-1M9 34h1v2h-1M9 38h1v2h-1M9 42h1v1h-1M9 44h1v1h-1M9 60h1v1h-1M9 63h1v2h-1M10 36h1v1h-1M10 41h1v1h-1M10 58h1v1h-1M10 63h1v1h-1M11 28h1v1h-1M11 35h1v1h-1M11 80h1v1h-1M11 107h1v1h-1M11 114h1v1h-1M12 23h1v1h-1M12 36h1v2h-1M12 40h1v2h-1M12 45h1v1h-1M12 48h1v1h-1M12 55h1v1h-1M12 70h1v1h-1M12 77h1v1h-1M12 82h1v1h-1M12 84h1v1h-1M12 87h1v1h-1M13 37h1v1h-1M13 42h1v1h-1M13 52h1v1h-1M13 56h1v3h-1M13 62h1v1h-1M13 65h1v1h-1M13 77h1v1h-1M13 87h1v2h-1M14 8h1v1h-1M14 21h1v1h-1M14 23h1v1h-1M14 25h1v1h-1M14 30h1v1h-1M14 33h1v3h-1M14 39h1v1h-1M14 53h1v1h-1M14 58h1v1h-1M14 64h1v1h-1M14 69h1v2h-1M14 74h1v1h-1M14 82h1v1h-1M14 87h1v2h-1M15 2h1v3h-1M15 15h1v1h-1M15 26h1v1h-1M15 28h1v1h-1M15 33h1v1h-1M15 37h1v1h-1M15 42h1v2h-1M15 66h1v1h-1M15 77h1v1h-1M15 80h1v2h-1M15 83h1v2h-1M16 45h1v1h-1M16 50h1v1h-1M16 70h1v1h-1M17 50h1v2h-1M17 60h1v1h-1M17 78h1v1h-1M17 82h1v1h-1M17 87h1v1h-1M18 58h1v1h-1M18 61h1v1h-1M18 84h1v1h-1M18 90h1v1h-1M19 56h1v1h-1M19 87h1v2h-1M20 66h1v1h-1M20 68h1v1h-1M20 70h1v1h-1M20 73h1v1h-1M20 75h1v1h-1M20 82h1v1h-1M20 88h1v1h-1M20 91h1v1h-1M20 95h1v2h-1M21 69h1v1h-1M22 66h1v1h-1M22 71h1v1h-1M23 76h1v1h-1M23 78h1v1h-1M23 82h1v2h-1M23 92h1v1h-1M23 95h1v1h-1M24 74h1v1h-1M24 78h1v1h-1M24 81h1v2h-1M24 96h1v1h-1"/>
<path fill="#00c8fe" d="M0 24h1v1h-1M0 34h1v1h-1M0 45h1v1h-1M0 57h1v1h-1M0 63h1v1h-1M1 23h1v1h-1M1 56h1v1h-1M1 63h1v1h-1M2 24h1v1h-1M2 35h1v1h-1M2 55h1v1h-1M3 52h1v1h-1M4 25h1v1h-1M5 23h1v1h-1M5 42h1v1h-1M5 47h1v2h-1M5 57h1v1h-1M6 39h1v1h-1M6 41h1v1h-1M7 50h1v1h-1M8 30h1v2h-1M8 33h1v1h-1M8 45h1v1h-1M9 24h1v1h-1M9 28h1v1h-1M9 45h1v1h-1M9 54h1v1h-1M10 29h1v2h-1M10 34h1v1h-1M10 45h1v1h-1M10 53h1v1h-1M10 56h1v1h-1M11 27h1v1h-1M11 51h1v1h-1M11 67h1v1h-1M11 86h1v1h-1M11 93h1v2h-1M11 105h1v1h-1M11 108h1v1h-1M11 111h1v2h-1M11 117h1v1h-1M12 31h1v1h-1M12 39h1v1h-1M12 50h1v1h-1M12 80h1v1h-1M13 13h1v1h-1M13 24h1v1h-1M13 70h1v1h-1M13 82h1v1h-1M13 92h1v1h-1M13 96h1v1h-1M14 6h1v1h-1M14 56h1v1h-1M14 71h1v1h-1M14 79h1v1h-1M14 96h1v1h-1M15 7h1v1h-1M15 11h1v1h-1M15 25h1v1h-1M15 52h1v1h-1M15 57h1v1h-1M15 63h1v1h-1M15 82h1v1h-1M15 85h1v1h-1M15 92h1v1h-1M16 44h1v1h-1M16 78h1v1h-1M16 84h1v1h-1M16 95h1v2h-1M17 58h1v1h-1M17 69h1v1h-1M18 70h1v1h-1M18 81h1v1h-1M18 87h1v1h-1M18 96h1v1h-1M19 54h1v2h-1M19 64h1v1h-1M19 77h1v1h-1M19 82h1v1h-1M19 95h1v2h-1M20 78h1v1h-1M20 89h1v1h-1M21 75h1v1h-1M21 80h1v2h-1M21 84h1v1h-1M22 54h1v1h-1M22 56h1v1h-1M22 85h1v1h-1M22 89h1v1h-1M23 63h1v1h-1M23 66h1v1h-1M23 69h1v2h-1M23 77h1v1h-1M23 84h1v1h-1M23 87h1v1h-1"/>
<path fill="#00d4fd" d="M0 27h1v1h-1M0 29h1v1h-1M0 43h1v1h-1M1 64h1v1h-1M2 25h1v1h-1M2 34h1v1h-1M2 39h1v1h-1M2 54h1v1h-1M2 63h1v1h-1M3 23h1v1h-1M3 27h1v1h-1M3 41h1v1h-1M3 44h1v1h-1M3 64h1v1h-1M4 39h1v1h-1M4 64h1v1h-1M5 60h1v1h-1M5 63h1v1h-1M6 23h1v1h-1M6 54h1v1h-1M6 56h1v1h-1M6 58h1v1h-1M6 63h1v1h-1M7 23h1v1h-1M7 45h1v1h-1M7 56h1v1h-1M8 23h1v1h-1M8 63h1v1h-1M9 23h1v1h-1M9 27h1v1h-1M10 24h1v1h-1M10 49h1v1h-1M10 55h1v1h-1M11 20h1v3h-1M11 69h1v1h-1M11 72h1v1h-1M11 76h1v1h-1M11 79h1v1h-1M11 85h1v1h-1M11 90h1v2h-1M12 96h1v1h-1M13 10h1v1h-1M13 27h1v1h-1M13 34h1v1h-1M13 39h1v1h-1M13 53h1v1h-1M13 83h1v1h-1M14 9h1v1h-1M15 8h1v1h-1M15 45h1v1h-1M15 48h1v1h-1M15 56h1v1h-1M15 69h1v1h-1M15 79h1v1h-1M15 87h1v1h-1M15 96h1v1h-1M17 56h1v1h-1M17 67h1v1h-1M17 96h1v1h-1M18 82h1v2h-1M18 95h1v1h-1M19 71h1v1h-1M19 78h1v1h-1M20 84h1v1h-1M20 94h1v1h-1M21 54h1v2h-1M21 96h1v1h-1M22 96h1v1h-1M23 75h1v1h-1M23 88h1v1h-1M23 96h1v1h-1M24 60h1v1h-1M24 65h1v1h-1M24 92h1v1h-1"/>
<path fill="#00e0fc" d="M0 23h1v1h-1M2 23h1v1h-1M2 28h1v1h-1M5 22h1v1h-1M5 28h1v1h-1M6 57h1v1h-1M7 64h1v1h-1M8 40h1v1h-1M9 51h1v1h-1M10 23h1v1h-1M10 64h1v1h-1M11 70h1v1h-1M11 75h1v1h-1M11 81h1v1h-1M11 84h1v1h-1M11 89h1v1h-1M11 96h1v3h-1M11 100h1v2h-1M11 113h1v1h-1M11 119h1v1h-1M12 57h1v1h-1M12 98h1v1h-1M14 2h1v1h-1M15 1h1v1h-1M15 27h1v1h-1M15 53h1v2h-1M15 76h1v1h-1M16 40h1v4h-1M17 49h1v1h-1M17 84h1v1h-1M17 92h1v1h-1M18 51h1v1h-1M19 52h1v2h-1M20 54h1v2h-1M20 59h1v1h-1M20 87h1v1h-1M20 92h1v1h-1M21 77h1v2h-1M21 82h1v1h-1M21 88h1v1h-1M22 60h1v1h-1M22 70h1v1h-1M22 82h1v1h-1M23 54h1v1h-1M24 55h1v1h-1"/>
<path fill="#00ecfb" d="M0 64h1v1h-1M1 22h1v1h-1M1 65h1v1h-1M2 64h1v1h-1M3 22h1v1h-1M4 24h1v1h-1M5 64h1v1h-1M6 64h1v1h-1M9 65h1v1h-1M10 65h1v1h-1M11 19h1v1h-1M11 74h1v1h-1M11 77h1v2h-1M11 95h1v1h-1M11 99h1v1h-1M11 104h1v1h-1M11 115h1v1h-1M12 97h1v1h-1M12 99h1v1h-1M13 95h1v1h-1M13 97h1v1h-1M14 97h1v1h-1M15 23h1v1h-1M15 95h1v1h-1M15 97h1v1h-1M16 23h1v17h-1M16 56h1v1h-1M17 48h1v1h-1M18 50h1v1h-1M18 97h1v1h-1M19 97h1v1h-1M20 53h1v1h-1M20 97h1v1h-1M21 53h1v1h-1M21 97h1v1h-1M22 53h1v1h-1M22 97h1v1h-1M23 53h1v1h-1M23 55h1v1h-1M23 97h1v1h-1M24 54h1v1h-1"/>
<path fill="#00f2f0" d="M4 65h1v1h-1M8 64h1v1h-1M11 88h1v1h-1M11 92h1v1h-1M11 109h1v1h-1M11 116h1v1h-1M11 118h1v1h-1M12 100h1v2h-1M13 98h1v1h-1M16 5h1v18h-1M16 97h1v1h-1M17 46h1v2h-1M17 97h1v1h-1M24 97h1v1h-1"/>
<path fill="#00f3dc" d="M3 65h1v1h-1M6 22h1v1h-1M8 22h1v1h-1M9 22h1v1h-1M10 22h1v1h-1M10 66h1v1h-1M11 18h1v1h-1M11 60h1v1h-1M11 71h1v1h-1M11 83h1v1h-1M11 87h1v1h-1M11 103h1v1h-1M12 20h1v2h-1M12 102h1v3h-1M13 99h1v1h-1M16 0h1v5h-1M17 44h1v2h-1M18 48h1v2h-1M19 51h1v1h-1M22 52h1v1h-1M23 52h1v1h-1"/>
<path fill="#00f4c8" d="M5 65h1v1h-1M7 22h1v1h-1M7 65h1v1h-1M9 66h1v1h-1M10 67h1v1h-1M11 57h1v3h-1M11 61h1v1h-1M11 64h1v1h-1M11 82h1v1h-1M11 102h1v1h-1M11 106h1v1h-1M11 110h1v1h-1M12 18h1v2h-1M12 105h1v3h-1M14 98h1v1h-1M15 98h1v1h-1M16 98h1v1h-1M17 42h1v2h-1M18 47h1v1h-1M18 98h1v1h-1M20 51h1v2h-1M20 98h1v1h-1M21 52h1v1h-1M21 98h1v1h-1M24 53h1v1h-1M24 98h1v1h-1"/>
<path fill="#00f4b3" d="M0 65h1v1h-1M2 22h1v1h-1M3 21h1v1h-1M6 65h1v1h-1M8 65h1v1h-1M10 68h1v1h-1M11 17h1v1h-1M11 55h1v2h-1M11 62h1v2h-1M11 66h1v1h-1M12 16h1v2h-1M12 108h1v4h-1M12 113h1v1h-1M13 100h1v1h-1M13 102h1v1h-1M17 39h1v2h-1M17 98h1v1h-1M19 98h1v1h-1M22 51h1v1h-1M22 98h1v1h-1M23 98h1v1h-1"/>
<path fill="#00f59e" d="M0 22h1v1h-1M1 21h1v1h-1M1 66h1v1h-1M2 65h1v1h-1M3 66h1v1h-1M4 23h1v1h-1M4 66h1v1h-1M5 21h1v1h-1M9 67h1v1h-1M10 21h1v1h-1M10 69h1v2h-1M11 16h1v1h-1M11 53h1v1h-1M11 65h1v1h-1M12 14h1v2h-1M12 112h1v1h-1M12 115h1v2h-1M13 101h1v1h-1M14 99h1v1h-1M17 37h1v2h-1M17 41h1v1h-1M18 45h1v2h-1M19 49h1v2h-1M20 50h1v1h-1M21 51h1v1h-1M21 99h1v1h-1M22 99h1v1h-1M23 51h1v1h-1"/>
<path fill="#02f681" d="M0 66h1v1h-1M5 66h1v1h-1M7 21h1v1h-1M7 66h1v1h-1M9 21h1v1h-1M9 68h1v1h-1M10 20h1v1h-1M10 71h1v1h-1M11 15h1v1h-1M11 54h1v1h-1M12 12h1v2h-1M12 114h1v1h-1M12 117h1v3h-1M13 103h1v1h-1M15 99h1v1h-1M16 99h1v1h-1M17 33h1v4h-1M17 99h1v1h-1M18 43h1v1h-1M18 99h1v1h-1M19 99h1v1h-1M20 49h1v1h-1M20 99h1v1h-1M21 50h1v1h-1M22 50h1v1h-1M23 50h1v1h-1M23 99h1v1h-1M24 51h1v2h-1M24 99h1v1h-1"/>
<path fill="#05f663" d="M1 67h1v1h-1M2 21h1v1h-1M2 66h1v1h-1M4 22h1v1h-1M6 21h1v1h-1M6 66h1v1h-1M8 21h1v1h-1M8 66h1v1h-1M10 72h1v1h-1M11 14h1v1h-1M12 10h1v2h-1M13 104h1v2h-1M14 100h1v1h-1M15 100h1v1h-1M17 30h1v3h-1M17 100h1v1h-1M18 42h1v1h-1M18 44h1v1h-1M19 47h1v2h-1M19 100h1v1h-1M20 100h1v1h-1M21 49h1v1h-1M22 49h1v1h-1M23 49h1v1h-1"/>
<path fill="#07f746" d="M0 21h1v1h-1M1 20h1v1h-1M3 20h1v1h-1M3 67h1v1h-1M5 20h1v1h-1M5 67h1v1h-1M9 69h1v1h-1M10 19h1v1h-1M10 73h1v2h-1M11 13h1v1h-1M12 7h1v3h-1M13 106h1v2h-1M14 101h1v1h-1M16 100h1v1h-1M17 28h1v2h-1M18 39h1v3h-1M18 100h1v1h-1M19 46h1v1h-1M20 47h1v2h-1M21 100h1v1h-1M22 100h1v1h-1M23 100h1v1h-1M24 50h1v1h-1M24 100h1v1h-1"/>
<path fill="#09f828" d="M0 67h1v2h-1M1 68h1v1h-1M2 67h1v1h-1M3 68h1v1h-1M4 67h1v2h-1M5 68h1v1h-1M6 67h1v1h-1M7 67h1v1h-1M8 67h1v1h-1M9 20h1v1h-1M9 70h1v1h-1M10 75h1v1h-1M10 77h1v2h-1M10 80h1v1h-1M11 12h1v1h-1M12 5h1v2h-1M13 108h1v2h-1M15 101h1v2h-1M16 101h1v2h-1M17 25h1v3h-1M17 101h1v1h-1M18 37h1v2h-1M18 101h1v1h-1M19 45h1v1h-1M19 101h1v1h-1M20 101h1v1h-1M21 48h1v1h-1M21 101h1v1h-1M22 48h1v1h-1M22 102h1v1h-1M23 48h1v1h-1M23 101h1v1h-1M24 49h1v1h-1M24 101h1v1h-1M24 103h1v1h-1"/>
<path fill="#11f81a" d="M0 20h1v1h-1M0 69h1v2h-1M1 70h1v1h-1M2 68h1v3h-1M3 69h1v2h-1M4 21h1v1h-1M4 69h1v2h-1M5 19h1v1h-1M5 69h1v1h-1M6 20h1v1h-1M6 68h1v2h-1M7 20h1v1h-1M7 68h1v1h-1M8 20h1v1h-1M8 68h1v1h-1M9 19h1v1h-1M9 71h1v2h-1M10 18h1v1h-1M10 76h1v1h-1M10 81h1v2h-1M10 86h1v2h-1M11 10h1v2h-1M12 3h1v2h-1M13 110h1v4h-1M13 115h1v1h-1M14 102h1v2h-1M15 103h1v2h-1M16 103h1v2h-1M17 18h1v7h-1M17 102h1v2h-1M18 35h1v2h-1M18 102h1v3h-1M19 44h1v1h-1M19 102h1v2h-1M20 46h1v1h-1M20 102h1v1h-1M20 104h1v1h-1M21 47h1v1h-1M21 102h1v2h-1M22 47h1v1h-1M22 101h1v1h-1M22 103h1v1h-1M23 47h1v1h-1M24 47h1v2h-1M24 102h1v1h-1"/>
<path fill="#1df713" d="M1 19h1v1h-1M1 69h1v1h-1M2 20h1v1h-1M3 19h1v1h-1M4 71h1v2h-1M5 70h1v2h-1M6 19h1v1h-1M6 70h1v1h-1M7 69h1v3h-1M8 19h1v1h-1M8 69h1v1h-1M8 71h1v1h-1M9 73h1v2h-1M10 16h1v2h-1M10 79h1v1h-1M10 83h1v3h-1M10 91h1v1h-1M11 8h1v2h-1M12 1h1v2h-1M13 114h1v1h-1M13 116h1v3h-1M14 104h1v3h-1M15 105h1v3h-1M16 105h1v1h-1M17 12h1v6h-1M17 104h1v2h-1M18 33h1v2h-1M18 106h1v1h-1M19 43h1v1h-1M19 104h1v1h-1M20 43h1v3h-1M20 103h1v1h-1M20 105h1v2h-1M21 46h1v1h-1M21 104h1v2h-1M22 45h1v2h-1M22 104h1v3h-1M23 45h1v2h-1M23 102h1v4h-1M24 104h1v2h-1"/>
<path fill="#28f60c" d="M0 19h1v1h-1M0 71h1v2h-1M1 18h1v1h-1M1 71h1v3h-1M2 19h1v1h-1M2 71h1v3h-1M3 18h1v1h-1M3 71h1v2h-1M4 20h1v1h-1M4 73h1v1h-1M5 72h1v1h-1M6 18h1v1h-1M6 71h1v2h-1M7 19h1v1h-1M7 72h1v1h-1M8 70h1v1h-1M8 72h1v1h-1M9 18h1v1h-1M9 75h1v1h-1M9 77h1v1h-1M10 15h1v1h-1M10 88h1v3h-1M10 92h1v2h-1M11 6h1v2h-1M12 0h1v1h-1M13 119h1v1h-1M14 107h1v2h-1M15 108h1v2h-1M16 106h1v2h-1M17 8h1v4h-1M17 106h1v2h-1M18 27h1v2h-1M18 30h1v3h-1M18 105h1v1h-1M18 107h1v1h-1M19 41h1v2h-1M19 105h1v3h-1M20 42h1v1h-1M20 107h1v2h-1M21 45h1v1h-1M21 106h1v3h-1M22 43h1v2h-1M22 107h1v2h-1M23 106h1v2h-1M24 45h1v2h-1M24 106h1v2h-1"/>
<path fill="#33f605" d="M0 18h1v1h-1M0 73h1v2h-1M1 74h1v1h-1M2 18h1v1h-1M3 73h1v2h-1M4 74h1v1h-1M5 17h1v2h-1M5 73h1v2h-1M6 73h1v2h-1M7 18h1v1h-1M7 73h1v2h-1M8 18h1v1h-1M8 73h1v2h-1M9 17h1v1h-1M9 76h1v1h-1M9 78h1v1h-1M10 14h1v1h-1M10 94h1v4h-1M10 99h1v1h-1M11 4h1v2h-1M14 109h1v2h-1M15 110h1v2h-1M16 108h1v3h-1M17 0h1v1h-1M17 2h1v6h-1M17 108h1v3h-1M18 29h1v1h-1M18 108h1v3h-1M19 40h1v1h-1M19 108h1v3h-1M20 40h1v2h-1M20 109h1v2h-1M21 43h1v2h-1M21 109h1v3h-1M22 109h1v1h-1M23 43h1v2h-1M23 108h1v2h-1M24 44h1v1h-1M24 108h1v2h-1"/>
<path fill="#41f500" d="M0 75h1v1h-1M1 17h1v1h-1M1 75h1v2h-1M2 74h1v2h-1M3 17h1v1h-1M3 75h1v2h-1M4 19h1v1h-1M4 75h1v1h-1M6 17h1v1h-1M7 75h1v2h-1M8 75h1v1h-1M9 79h1v2h-1M10 12h1v2h-1M10 98h1v1h-1M10 100h1v3h-1M11 1h1v3h-1M14 111h1v2h-1M15 112h1v1h-1M16 111h1v1h-1M17 1h1v1h-1M17 111h1v1h-1M18 25h1v2h-1M18 111h1v1h-1M19 37h1v1h-1M19 39h1v1h-1M19 111h1v1h-1M20 38h1v2h-1M20 111h1v1h-1M21 42h1v1h-1M22 41h1v2h-1M22 110h1v2h-1M23 41h1v1h-1M23 110h1v2h-1M24 42h1v2h-1M24 110h1v1h-1"/>
<path fill="#57f600" d="M0 17h1v1h-1M0 76h1v1h-1M1 16h1v1h-1M1 77h1v1h-1M2 17h1v1h-1M2 76h1v1h-1M3 77h1v1h-1M4 18h1v1h-1M4 76h1v2h-1M5 16h1v1h-1M5 75h1v2h-1M6 75h1v2h-1M7 17h1v1h-1M7 77h1v1h-1M8 17h1v1h-1M8 76h1v1h-1M9 16h1v1h-1M9 81h1v1h-1M10 103h1v4h-1M11 0h1v1h-1M14 113h1v2h-1M15 113h1v1h-1M16 112h1v2h-1M17 112h1v1h-1M18 21h1v4h-1M18 112h1v1h-1M19 36h1v1h-1M19 38h1v1h-1M19 112h1v1h-1M20 36h1v2h-1M20 112h1v2h-1M21 40h1v2h-1M21 112h1v2h-1M22 112h1v1h-1M23 40h1v1h-1M23 42h1v1h-1M23 112h1v2h-1M24 41h1v1h-1M24 111h1v2h-1"/>
<path fill="#6df600" d="M0 77h1v1h-1M1 78h1v1h-1M2 77h1v1h-1M3 16h1v1h-1M3 78h1v1h-1M4 17h1v1h-1M5 77h1v2h-1M6 16h1v1h-1M6 77h1v1h-1M8 16h1v1h-1M8 77h1v1h-1M9 82h1v1h-1M10 107h1v3h-1M15 114h1v1h-1M16 114h1v1h-1M17 113h1v1h-1M18 18h1v3h-1M18 113h1v1h-1M19 34h1v2h-1M19 113h1v1h-1M20 35h1v1h-1M20 114h1v1h-1M21 39h1v1h-1M22 39h1v2h-1M22 113h1v2h-1M23 114h1v1h-1M24 40h1v1h-1M24 113h1v2h-1"/>
<path fill="#83f700" d="M0 16h1v1h-1M0 78h1v1h-1M1 79h1v1h-1M2 16h1v1h-1M2 78h1v1h-1M3 15h1v1h-1M4 78h1v1h-1M5 15h1v1h-1M6 78h1v1h-1M7 16h1v1h-1M7 78h1v1h-1M8 78h1v1h-1M9 15h1v1h-1M9 83h1v2h-1M10 10h1v2h-1M10 110h1v3h-1M14 115h1v2h-1M15 115h1v1h-1M16 115h1v1h-1M17 114h1v1h-1M18 14h1v4h-1M18 114h1v2h-1M19 32h1v1h-1M19 114h1v2h-1M20 34h1v1h-1M20 115h1v1h-1M21 38h1v1h-1M21 114h1v2h-1M22 38h1v1h-1M23 38h1v2h-1M23 115h1v1h-1M24 39h1v1h-1M24 115h1v1h-1"/>
<path fill="#99f800" d="M0 15h1v1h-1M0 79h1v1h-1M1 14h1v2h-1M1 80h1v1h-1M2 79h1v1h-1M3 79h1v2h-1M4 79h1v2h-1M5 14h1v1h-1M5 79h1v1h-1M6 15h1v1h-1M7 15h1v1h-1M7 79h1v1h-1M8 15h1v1h-1M8 79h1v1h-1M9 14h1v1h-1M9 85h1v2h-1M10 8h1v2h-1M10 113h1v1h-1M10 115h1v1h-1M14 117h1v1h-1M15 116h1v2h-1M16 116h1v1h-1M17 115h1v2h-1M18 13h1v1h-1M18 116h1v1h-1M19 30h1v2h-1M19 33h1v1h-1M19 116h1v1h-1M20 31h1v3h-1M20 116h1v1h-1M21 37h1v1h-1M21 116h1v1h-1M22 37h1v1h-1M22 115h1v2h-1M23 36h1v2h-1M23 116h1v1h-1M24 38h1v1h-1M24 116h1v2h-1"/>
<path fill="#adf800" d="M0 119h1v1h-1M1 81h1v1h-1M1 119h1v1h-1M2 15h1v1h-1M2 119h1v1h-1M3 14h1v1h-1M3 119h1v1h-1M4 16h1v1h-1M4 119h1v1h-1M5 80h1v1h-1M5 119h1v1h-1M6 14h1v1h-1M6 79h1v2h-1M6 119h1v1h-1M7 119h1v1h-1M8 119h1v1h-1M9 87h1v1h-1M9 119h1v1h-1M10 114h1v1h-1M10 116h1v2h-1M10 119h1v1h-1M14 119h1v1h-1M15 119h1v1h-1M16 117h1v1h-1M16 119h1v1h-1M17 117h1v1h-1M17 119h1v1h-1M18 9h1v4h-1M18 117h1v1h-1M18 119h1v1h-1M19 28h1v1h-1M19 117h1v1h-1M19 119h1v1h-1M20 29h1v2h-1M20 117h1v1h-1M20 119h1v1h-1M21 35h1v2h-1M21 117h1v1h-1M21 119h1v1h-1M22 35h1v2h-1M22 117h1v1h-1M22 119h1v1h-1M23 35h1v1h-1M23 117h1v1h-1M23 119h1v1h-1M24 36h1v2h-1M24 119h1v1h-1"/>
<path fill="#bef900" d="M0 14h1v1h-1M0 80h1v1h-1M1 82h1v1h-1M2 14h1v1h-1M2 80h1v2h-1M3 13h1v1h-1M3 81h1v1h-1M4 15h1v1h-1M4 81h1v1h-1M6 81h1v1h-1M7 14h1v1h-1M7 80h1v2h-1M8 14h1v1h-1M8 80h1v1h-1M9 13h1v1h-1M9 88h1v1h-1M10 7h1v1h-1M18 6h1v3h-1M19 29h1v1h-1M21 33h1v2h-1M22 34h1v1h-1M23 33h1v2h-1M24 34h1v2h-1"/>
<path fill="#cffa00" d="M0 81h1v1h-1M1 13h1v1h-1M1 83h1v1h-1M3 82h1v1h-1M4 82h1v2h-1M5 13h1v1h-1M5 81h1v2h-1M6 13h1v1h-1M7 13h1v1h-1M7 82h1v1h-1M8 81h1v2h-1M9 12h1v1h-1M9 89h1v2h-1M10 6h1v1h-1M18 3h1v1h-1M18 5h1v1h-1M19 27h1v1h-1M20 26h1v3h-1M21 32h1v1h-1M22 32h1v2h-1M23 31h1v2h-1"/>
<path fill="#e0fb00" d="M0 13h1v1h-1M0 82h1v3h-1M1 12h1v1h-1M1 84h1v2h-1M2 13h1v1h-1M2 82h1v2h-1M2 85h1v1h-1M3 12h1v1h-1M3 83h1v3h-1M4 14h1v1h-1M4 84h1v2h-1M5 12h1v1h-1M5 83h1v2h-1M5 86h1v1h-1M6 82h1v4h-1M7 12h1v1h-1M7 83h1v2h-1M8 13h1v1h-1M8 83h1v1h-1M9 11h1v1h-1M9 91h1v1h-1M9 93h1v1h-1M10 4h1v2h-1M18 1h1v2h-1M18 4h1v1h-1M19 24h1v3h-1M20 25h1v1h-1M21 31h1v1h-1M23 30h1v1h-1M24 31h1v3h-1"/>
<path fill="#f1fb00" d="M0 12h1v1h-1M0 85h1v3h-1M1 86h1v3h-1M2 12h1v1h-1M2 84h1v1h-1M3 11h1v1h-1M3 86h1v1h-1M3 89h1v1h-1M4 87h1v2h-1M5 85h1v1h-1M5 87h1v1h-1M6 12h1v1h-1M6 86h1v1h-1M7 11h1v1h-1M7 85h1v2h-1M7 88h1v1h-1M8 12h1v1h-1M8 84h1v1h-1M9 92h1v1h-1M9 94h1v2h-1M10 118h1v1h-1M14 118h1v1h-1M15 118h1v1h-1M16 118h1v1h-1M19 23h1v1h-1M20 23h1v2h-1M20 118h1v1h-1M21 29h1v2h-1M22 30h1v2h-1M23 29h1v1h-1M24 30h1v1h-1"/>
<path fill="#fffa00" d="M0 11h1v1h-1M0 88h1v2h-1M0 91h1v1h-1M1 11h1v1h-1M1 89h1v5h-1M2 86h1v4h-1M2 91h1v2h-1M3 87h1v2h-1M4 13h1v1h-1M4 86h1v1h-1M4 89h1v1h-1M4 94h1v1h-1M5 10h1v2h-1M5 88h1v1h-1M6 87h1v1h-1M7 87h1v1h-1M7 89h1v2h-1M7 92h1v1h-1M8 11h1v1h-1M8 85h1v5h-1M9 10h1v1h-1M9 96h1v4h-1M10 0h1v4h-1M17 118h1v1h-1M18 0h1v1h-1M18 118h1v1h-1M19 0h1v1h-1M19 21h1v2h-1M19 118h1v1h-1M20 0h1v1h-1M20 22h1v1h-1M21 26h1v3h-1M21 118h1v1h-1M22 28h1v2h-1M22 118h1v1h-1M23 27h1v1h-1M23 118h1v1h-1M24 28h1v1h-1M24 118h1v1h-1"/>
<path fill="#fff000" d="M0 90h1v1h-1M0 92h1v2h-1M1 0h1v1h-1M1 10h1v1h-1M1 94h1v1h-1M2 11h1v1h-1M2 90h1v1h-1M3 0h1v1h-1M3 10h1v1h-1M3 90h1v4h-1M4 12h1v1h-1M4 90h1v4h-1M5 9h1v1h-1M5 89h1v5h-1M6 10h1v2h-1M6 88h1v4h-1M6 93h1v1h-1M7 0h1v1h-1M7 10h1v1h-1M7 91h1v1h-1M7 94h1v1h-1M8 0h1v1h-1M8 10h1v1h-1M8 90h1v1h-1M8 92h1v2h-1M9 0h1v1h-1M9 9h1v1h-1M9 100h1v5h-1M19 18h1v3h-1M20 19h1v3h-1M21 24h1v2h-1M22 25h1v2h-1M23 25h1v2h-1M23 28h1v1h-1M24 25h1v1h-1M24 27h1v1h-1M24 29h1v1h-1"/>
<path fill="#ffe500" d="M0 0h1v1h-1M0 10h1v1h-1M0 94h1v1h-1M1 9h1v1h-1M1 95h1v1h-1M2 0h1v1h-1M2 9h1v2h-1M2 93h1v3h-1M3 9h1v1h-1M3 94h1v2h-1M4 0h1v1h-1M4 95h1v1h-1M5 0h1v1h-1M5 94h1v1h-1M6 0h1v1h-1M6 9h1v1h-1M6 92h1v1h-1M6 94h1v1h-1M7 9h1v1h-1M7 93h1v1h-1M7 95h1v1h-1M8 91h1v1h-1M8 94h1v2h-1M9 8h1v1h-1M9 105h1v2h-1M19 15h1v3h-1M20 16h1v3h-1M22 23h1v2h-1M22 27h1v1h-1M23 24h1v1h-1M24 24h1v1h-1M24 26h1v1h-1"/>
<path fill="#ffda00" d="M0 9h1v1h-1M0 95h1v2h-1M1 8h1v1h-1M1 96h1v1h-1M2 8h1v1h-1M3 8h1v1h-1M3 96h1v1h-1M4 10h1v2h-1M4 96h1v1h-1M5 7h1v2h-1M5 95h1v2h-1M6 95h1v1h-1M7 8h1v1h-1M8 9h1v1h-1M9 7h1v1h-1M9 107h1v1h-1M19 10h1v1h-1M19 12h1v3h-1M20 13h1v3h-1M21 0h1v1h-1M21 21h1v3h-1M22 0h1v1h-1M22 22h1v1h-1M23 0h1v1h-1M23 21h1v3h-1M24 0h1v1h-1M24 21h1v3h-1"/>
<path fill="#ffd000" d="M0 8h1v1h-1M1 7h1v1h-1M1 97h1v1h-1M3 7h1v1h-1M4 9h1v1h-1M6 7h1v2h-1M6 96h1v1h-1M7 7h1v1h-1M8 7h1v2h-1M9 6h1v1h-1M19 8h1v1h-1M19 11h1v1h-1M20 9h1v4h-1M21 19h1v2h-1M22 18h1v1h-1M22 20h1v2h-1M23 19h1v2h-1M24 20h1v1h-1"/>
<path fill="#ffc400" d="M0 7h1v1h-1M0 97h1v1h-1M0 118h1v1h-1M1 5h1v2h-1M1 118h1v1h-1M2 7h1v1h-1M2 96h1v1h-1M2 118h1v1h-1M3 6h1v1h-1M3 97h1v1h-1M3 118h1v1h-1M4 7h1v2h-1M4 97h1v1h-1M4 118h1v1h-1M5 6h1v1h-1M5 97h1v1h-1M5 118h1v1h-1M6 118h1v1h-1M7 5h1v2h-1M7 96h1v2h-1M7 118h1v1h-1M8 6h1v1h-1M8 96h1v1h-1M8 118h1v1h-1M9 4h1v2h-1M9 108h1v1h-1M9 118h1v1h-1M19 5h1v3h-1M19 9h1v1h-1M20 7h1v2h-1M21 17h1v2h-1M22 19h1v1h-1M23 16h1v3h-1M24 17h1v3h-1"/>
<path fill="#ffb700" d="M0 5h1v2h-1M0 98h1v1h-1M1 98h1v1h-1M2 6h1v1h-1M2 97h1v1h-1M3 5h1v1h-1M3 98h1v1h-1M4 6h1v1h-1M4 98h1v1h-1M5 4h1v2h-1M6 4h1v1h-1M6 6h1v1h-1M7 4h1v1h-1M7 98h1v1h-1M8 5h1v1h-1M8 97h1v1h-1M9 109h1v2h-1M19 2h1v1h-1M19 4h1v1h-1M20 4h1v1h-1M20 6h1v1h-1M21 13h1v4h-1M22 14h1v4h-1M23 12h1v1h-1M23 14h1v2h-1M24 13h1v1h-1M24 15h1v2h-1"/>
<path fill="#ffab00" d="M0 4h1v1h-1M0 99h1v1h-1M1 3h1v2h-1M1 99h1v2h-1M2 2h1v1h-1M2 5h1v1h-1M2 98h1v2h-1M3 2h1v3h-1M3 99h1v1h-1M4 5h1v1h-1M4 99h1v1h-1M5 3h1v1h-1M5 98h1v2h-1M6 3h1v1h-1M6 5h1v1h-1M6 97h1v4h-1M7 3h1v1h-1M7 99h1v2h-1M8 3h1v2h-1M8 98h1v2h-1M9 1h1v3h-1M9 111h1v3h-1M19 1h1v1h-1M19 3h1v1h-1M20 1h1v3h-1M20 5h1v1h-1M21 12h1v1h-1M22 10h1v4h-1M23 9h1v3h-1M23 13h1v1h-1M24 10h1v3h-1M24 14h1v1h-1"/>
<path fill="#ff9e00" d="M0 2h1v2h-1M0 100h1v6h-1M0 110h1v1h-1M1 1h1v2h-1M1 101h1v6h-1M2 3h1v2h-1M2 100h1v3h-1M2 108h1v1h-1M3 1h1v1h-1M3 100h1v3h-1M3 104h1v2h-1M4 3h1v2h-1M4 100h1v4h-1M4 105h1v2h-1M5 1h1v2h-1M5 100h1v3h-1M5 105h1v2h-1M6 2h1v1h-1M6 101h1v5h-1M6 110h1v1h-1M7 2h1v1h-1M7 101h1v3h-1M8 2h1v1h-1M8 100h1v3h-1M8 104h1v1h-1M9 114h1v4h-1M21 4h1v1h-1M21 6h1v6h-1M22 6h1v1h-1M22 8h1v2h-1M23 6h1v3h-1M24 7h1v3h-1"/>
<path fill="#ff9201" d="M0 1h1v1h-1M0 106h1v4h-1M0 112h1v2h-1M1 107h1v10h-1M2 1h1v1h-1M2 103h1v5h-1M2 109h1v5h-1M2 115h1v1h-1M3 103h1v1h-1M3 106h1v9h-1M3 116h1v1h-1M4 1h1v2h-1M4 104h1v1h-1M4 108h1v8h-1M5 103h1v2h-1M5 107h1v1h-1M5 109h1v1h-1M5 111h1v1h-1M5 113h1v1h-1M5 115h1v1h-1M6 1h1v1h-1M6 106h1v4h-1M6 112h1v3h-1M6 116h1v1h-1M7 1h1v1h-1M7 104h1v9h-1M7 114h1v2h-1M8 1h1v1h-1M8 103h1v1h-1M8 105h1v10h-1M8 116h1v2h-1M21 3h1v1h-1M21 5h1v1h-1M22 3h1v3h-1M22 7h1v1h-1M23 4h1v2h-1M24 3h1v4h-1"/>
<path fill="#ff8504" d="M0 111h1v1h-1M0 114h1v4h-1M1 117h1v1h-1M2 114h1v1h-1M2 116h1v2h-1M3 115h1v1h-1M3 117h1v1h-1M4 107h1v1h-1M4 116h1v2h-1M5 108h1v1h-1M5 110h1v1h-1M5 112h1v1h-1M5 114h1v1h-1M5 116h1v2h-1M6 111h1v1h-1M6 115h1v1h-1M6 117h1v1h-1M7 113h1v1h-1M7 116h1v2h-1M8 115h1v1h-1M21 2h1v1h-1M22 1h1v2h-1M23 1h1v3h-1M24 1h1v1h-1"/>
<path fill="#ff7807" d="M21 1h1v1h-1M24 2h1v1h-1"/>
</g>
<g fill="#ff0a0a"><circle cx="830.7" cy="109.1" r="3.5"/><circle cx="839.5" cy="106.6" r="3.5"/><circle cx="848.4" cy="109.1" r="3.5"/><circle cx="857.2" cy="106.6" r="3.5"/><circle cx="866.0" cy="112.0" r="3.5"/><circle cx="874.9" cy="106.6" r="3.5"/><circle cx="883.7" cy="108.1" r="3.5"/><circle cx="892.5" cy="108.1" r="3.5"/><circle cx="901.3" cy="108.1" r="3.5"/><circle cx="910.2" cy="108.1" r="3.5"/><circle cx="919.0" cy="109.1" r="3.5"/><circle cx="927.8" cy="99.2" r="3.5"/><circle cx="972.0" cy="171.3" r="3.5"/><circle cx="980.8" cy="185.1" r="3.5"/><circle cx="989.6" cy="191.0" r="3.5"/><circle cx="998.4" cy="195.9" r="3.5"/><circle cx="1007.3" cy="198.9" r="3.5"/><circle cx="1016.1" cy="198.9" r="3.5"/><circle cx="1024.9" cy="198.9" r="3.5"/><circle cx="1033.8" cy="198.9" r="3.5"/><circle cx="1042.6" cy="201.9" r="3.5"/></g>
<g fill="#000"><circle cx="830.7" cy="231.5" r="3.5"/><circle cx="839.5" cy="233.4" r="3.5"/><circle cx="848.4" cy="230.5" r="3.5"/><circle cx="857.2" cy="232.5" r="3.5"/><circle cx="866.0" cy="232.5" r="3.5"/><circle cx="874.9" cy="231.5" r="3.5"/><circle cx="883.7" cy="230.5" r="3.5"/><circle cx="892.5" cy="231.5" r="3.5"/><circle cx="901.3" cy="230.5" r="3.5"/><circle cx="910.2" cy="234.4" r="3.5"/><circle cx="919.0" cy="231.5" r="3.5"/><circle cx="936.6" cy="328.2" r="3.5"/><circle cx="945.5" cy="328.2" r="3.5"/><circle cx="954.3" cy="327.2" r="3.5"/><circle cx="963.1" cy="325.2" r="3.5"/><circle cx="972.0" cy="327.7" r="3.5"/><circle cx="980.8" cy="326.2" r="3.5"/><circle cx="989.6" cy="328.2" r="3.5"/><circle cx="998.4" cy="328.7" r="3.5"/><circle cx="1007.3" cy="330.2" r="3.5"/><circle cx="1016.1" cy="327.2" r="3.5"/><circle cx="1024.9" cy="328.7" r="3.5"/><circle cx="1033.8" cy="326.2" r="3.5"/><circle cx="1042.6" cy="328.2" r="3.5"/></g>
<g transform="translate(1070.80 40.00) scale(9.0050 2.9608)" shape-rendering="crispEdges">
<path fill="#1d49ea" d="M28 36h1v1h-1M31 89h1v1h-1M36 69h1v1h-1M45 81h1v1h-1"/>
<path fill="#1753ed" d="M2 48h1v1h-1M30 22h1v1h-1M30 54h1v1h-1M34 67h1v1h-1M41 89h1v1h-1"/>
<path fill="#125ef0" d="M1 43h1v1h-1M2 62h1v1h-1M10 46h1v1h-1M12 27h1v1h-1M16 47h1v1h-1M17 36h1v1h-1M21 54h1v1h-1M22 48h1v1h-1M23 38h1v1h-1M29 17h1v1h-1M29 67h1v1h-1M33 50h1v1h-1M35 52h1v1h-1M39 78h1v1h-1"/>
<path fill="#0d69f3" d="M0 31h1v1h-1M3 34h1v1h-1M5 42h1v1h-1M10 49h1v1h-1M11 62h1v1h-1M15 41h1v1h-1M16 31h1v1h-1M18 44h1v1h-1M20 36h1v1h-1M21 27h1v1h-1M22 27h1v1h-1M22 58h1v1h-1M27 78h1v1h-1M28 28h1v1h-1M28 34h1v1h-1M28 70h1v1h-1M29 31h1v1h-1M29 70h1v1h-1M30 77h1v1h-1M30 85h1v1h-1M31 17h1v1h-1M31 70h1v1h-1M31 85h1v1h-1M32 81h1v1h-1M32 83h1v1h-1M33 88h1v1h-1M34 83h1v1h-1M39 70h1v1h-1M39 94h1v1h-1M40 77h1v1h-1M41 70h1v1h-1M46 89h1v1h-1M47 70h1v1h-1M48 76h1v1h-1"/>
<path fill="#0973f5" d="M1 42h1v1h-1M2 34h1v1h-1M3 52h1v1h-1M6 26h1v1h-1M6 42h1v1h-1M6 48h1v1h-1M6 54h1v1h-1M6 61h1v1h-1M7 46h1v1h-1M8 31h1v1h-1M8 36h1v1h-1M10 41h1v1h-1M10 59h1v1h-1M12 31h1v1h-1M12 36h1v1h-1M13 53h1v1h-1M13 57h1v1h-1M14 31h1v1h-1M14 33h1v1h-1M14 60h1v1h-1M18 29h1v1h-1M18 35h1v1h-1M18 47h1v2h-1M19 36h1v1h-1M20 34h1v1h-1M20 54h1v1h-1M21 34h1v1h-1M21 47h1v1h-1M21 52h1v1h-1M23 36h1v1h-1M23 50h1v1h-1M26 47h1v1h-1M27 21h1v1h-1M27 74h1v1h-1M27 77h1v1h-1M27 82h1v1h-1M27 89h1v1h-1M27 96h1v1h-1M28 22h1v1h-1M28 64h1v1h-1M28 67h1v1h-1M28 71h1v1h-1M28 77h1v1h-1M28 83h1v1h-1M28 95h1v1h-1M29 26h1v1h-1M29 58h1v2h-1M29 87h1v1h-1M29 89h1v1h-1M29 92h1v1h-1M30 26h1v1h-1M30 33h1v1h-1M30 81h1v1h-1M31 23h1v1h-1M31 27h1v1h-1M31 44h1v1h-1M31 81h1v1h-1M32 34h1v1h-1M32 36h1v1h-1M32 44h1v1h-1M32 52h1v1h-1M32 54h1v1h-1M32 77h1v1h-1M32 87h1v1h-1M33 17h1v1h-1M33 66h1v1h-1M34 77h1v1h-1M34 86h1v1h-1M34 89h1v1h-1M36 56h1v1h-1M37 77h1v1h-1M37 88h1v1h-1M38 59h1v1h-1M38 89h1v1h-1M40 83h1v1h-1M40 86h1v1h-1M41 94h1v1h-1M42 77h1v1h-1M43 67h1v1h-1M44 67h1v1h-1M45 77h1v1h-1M47 75h1v1h-1M47 77h1v1h-1M47 82h1v1h-1M47 84h1v1h-1M47 94h1v1h-1"/>
<path fill="#057ef7" d="M0 52h1v1h-1M0 59h1v1h-1M0 62h1v1h-1M1 29h1v1h-1M1 48h1v1h-1M1 50h1v1h-1M2 26h1v1h-1M2 45h1v1h-1M3 26h1v1h-1M3 38h1v1h-1M3 42h1v1h-1M3 44h1v1h-1M3 59h1v1h-1M3 61h1v1h-1M4 48h1v1h-1M5 26h1v1h-1M5 40h1v1h-1M5 48h1v1h-1M5 50h1v1h-1M6 38h1v1h-1M6 41h1v1h-1M8 28h1v1h-1M8 34h1v1h-1M8 41h1v1h-1M8 47h1v1h-1M9 49h1v2h-1M10 31h1v1h-1M10 42h1v1h-1M10 51h1v1h-1M11 27h1v1h-1M11 45h1v1h-1M11 52h1v1h-1M11 61h1v1h-1M12 42h1v1h-1M12 50h1v1h-1M13 34h1v1h-1M13 38h1v1h-1M13 48h1v2h-1M13 54h1v1h-1M14 26h1v2h-1M14 44h1v1h-1M14 50h1v1h-1M15 29h1v1h-1M15 52h1v1h-1M16 30h1v1h-1M16 50h1v1h-1M16 52h1v2h-1M17 33h1v1h-1M17 56h1v1h-1M18 36h1v1h-1M18 52h1v1h-1M18 62h1v1h-1M19 35h1v1h-1M19 42h1v1h-1M19 50h1v1h-1M20 39h1v1h-1M20 44h1v1h-1M20 48h1v1h-1M20 61h1v1h-1M21 38h1v1h-1M22 60h1v1h-1M23 42h1v1h-1M23 54h1v1h-1M24 28h1v1h-1M24 34h1v1h-1M25 33h1v1h-1M25 37h1v1h-1M25 44h1v2h-1M25 59h1v1h-1M26 28h1v1h-1M26 34h1v1h-1M26 51h1v2h-1M26 66h1v1h-1M27 11h1v1h-1M27 14h1v1h-1M27 52h1v1h-1M27 62h1v1h-1M27 66h1v1h-1M27 79h1v1h-1M27 85h1v1h-1M28 23h1v2h-1M28 26h1v1h-1M28 37h1v1h-1M28 42h1v1h-1M28 50h1v1h-1M28 52h1v2h-1M29 1h1v1h-1M29 11h1v1h-1M29 24h1v1h-1M29 35h1v1h-1M29 37h1v1h-1M29 47h1v1h-1M29 94h1v2h-1M30 7h1v2h-1M30 14h1v1h-1M30 36h1v1h-1M30 67h1v1h-1M30 69h1v2h-1M30 83h1v1h-1M30 94h1v1h-1M31 7h1v1h-1M31 45h1v1h-1M31 83h1v1h-1M32 17h1v2h-1M32 33h1v1h-1M32 47h1v1h-1M32 53h1v1h-1M32 62h1v1h-1M32 70h1v1h-1M32 82h1v1h-1M32 90h1v1h-1M33 24h1v1h-1M33 26h1v1h-1M33 46h1v1h-1M33 70h1v1h-1M33 83h1v1h-1M34 47h1v2h-1M34 71h1v1h-1M35 83h1v1h-1M35 85h1v1h-1M35 87h1v1h-1M35 94h1v1h-1M36 77h1v1h-1M36 94h1v1h-1M37 66h1v1h-1M37 82h1v1h-1M38 84h1v1h-1M39 80h1v1h-1M39 86h1v1h-1M40 66h1v1h-1M40 74h1v1h-1M40 76h1v1h-1M40 81h1v1h-1M40 89h1v1h-1M40 91h1v1h-1M40 94h1v1h-1M41 74h1v1h-1M41 83h1v1h-1M41 93h1v1h-1M42 65h1v1h-1M42 67h1v1h-1M42 94h1v1h-1M43 66h1v1h-1M43 70h1v2h-1M43 77h1v1h-1M43 81h1v1h-1M44 81h1v2h-1M45 67h1v1h-1M45 79h1v1h-1M45 83h1v1h-1M46 59h1v1h-1M46 64h1v1h-1M46 78h1v1h-1M46 84h1v1h-1M47 61h1v1h-1M48 74h1v1h-1M48 83h1v1h-1M48 92h1v1h-1"/>
<path fill="#0188f9" d="M0 28h1v1h-1M0 32h1v1h-1M0 47h1v1h-1M0 53h1v1h-1M1 26h1v1h-1M1 33h1v2h-1M1 36h1v1h-1M1 44h1v1h-1M1 47h1v1h-1M1 61h1v1h-1M2 28h1v1h-1M2 42h1v1h-1M2 55h1v1h-1M3 43h1v1h-1M3 50h1v1h-1M3 54h1v1h-1M4 25h1v1h-1M4 52h1v1h-1M4 54h1v1h-1M4 57h1v2h-1M5 29h1v2h-1M5 45h1v1h-1M5 52h1v1h-1M5 60h1v1h-1M6 34h1v1h-1M7 36h1v3h-1M7 41h1v1h-1M7 44h1v1h-1M7 50h1v1h-1M8 29h1v1h-1M8 37h1v1h-1M8 43h1v1h-1M8 50h1v1h-1M8 53h1v1h-1M8 60h1v1h-1M9 31h1v2h-1M9 44h1v1h-1M9 47h1v2h-1M9 52h1v2h-1M10 35h1v1h-1M10 52h1v1h-1M11 34h1v1h-1M11 47h1v1h-1M11 51h1v1h-1M12 29h1v1h-1M12 44h1v2h-1M12 56h1v1h-1M13 36h1v1h-1M13 44h1v1h-1M13 52h1v1h-1M13 58h1v1h-1M14 36h1v1h-1M14 46h1v1h-1M14 53h1v1h-1M15 26h1v1h-1M15 31h1v1h-1M15 38h1v1h-1M15 42h1v1h-1M15 50h1v1h-1M16 38h1v1h-1M16 54h1v1h-1M16 62h1v1h-1M17 26h1v1h-1M17 54h1v1h-1M18 30h1v1h-1M18 34h1v1h-1M18 41h1v1h-1M18 46h1v1h-1M18 53h1v1h-1M18 57h1v1h-1M18 60h1v1h-1M19 30h1v1h-1M19 46h1v1h-1M20 27h1v1h-1M20 31h1v1h-1M20 42h1v1h-1M20 49h1v1h-1M21 28h1v1h-1M21 33h1v1h-1M21 36h1v1h-1M21 42h1v1h-1M21 53h1v1h-1M21 61h1v1h-1M22 26h1v1h-1M22 29h1v1h-1M22 33h1v1h-1M22 40h1v1h-1M22 42h1v2h-1M22 50h1v1h-1M23 25h1v2h-1M23 31h1v1h-1M23 44h1v1h-1M23 48h1v1h-1M24 26h1v1h-1M24 44h1v1h-1M24 46h1v1h-1M24 52h1v1h-1M24 61h1v1h-1M25 31h1v1h-1M25 38h1v1h-1M25 41h1v1h-1M25 47h1v1h-1M25 50h1v1h-1M25 52h1v2h-1M25 55h1v1h-1M25 57h1v1h-1M26 23h1v1h-1M26 36h1v1h-1M26 41h1v1h-1M26 44h1v1h-1M26 50h1v1h-1M26 59h1v1h-1M26 64h1v1h-1M27 22h1v1h-1M27 27h1v1h-1M27 33h1v2h-1M27 41h1v1h-1M27 53h1v1h-1M27 59h1v1h-1M27 69h1v1h-1M27 81h1v1h-1M27 87h1v1h-1M27 94h1v1h-1M28 7h1v2h-1M28 11h1v1h-1M28 17h1v1h-1M28 31h1v1h-1M28 33h1v1h-1M28 38h1v1h-1M28 46h1v1h-1M28 59h1v1h-1M28 86h1v1h-1M29 21h1v1h-1M29 27h1v1h-1M29 32h1v1h-1M29 40h1v1h-1M29 44h1v1h-1M29 48h1v1h-1M29 52h1v1h-1M29 56h1v1h-1M29 61h1v2h-1M29 69h1v1h-1M29 73h1v1h-1M29 88h1v1h-1M30 1h1v1h-1M30 4h1v1h-1M30 12h1v1h-1M30 19h1v3h-1M30 27h1v1h-1M30 34h1v1h-1M30 39h1v1h-1M30 53h1v1h-1M30 59h1v1h-1M30 71h1v1h-1M30 86h1v1h-1M30 89h1v1h-1M31 1h1v1h-1M31 8h1v1h-1M31 10h1v1h-1M31 14h1v1h-1M31 26h1v1h-1M31 30h1v2h-1M31 33h1v1h-1M31 42h1v1h-1M31 46h1v1h-1M31 51h1v1h-1M31 66h1v1h-1M31 71h1v1h-1M31 74h1v1h-1M31 76h1v1h-1M31 94h1v1h-1M32 8h1v1h-1M32 12h1v1h-1M32 21h1v3h-1M32 26h1v1h-1M32 31h1v1h-1M32 41h1v2h-1M32 55h1v1h-1M32 65h1v1h-1M32 88h1v1h-1M33 14h1v1h-1M33 21h1v2h-1M33 36h1v1h-1M33 47h1v2h-1M33 69h1v1h-1M33 75h1v2h-1M33 82h1v1h-1M33 86h1v1h-1M33 91h1v1h-1M34 59h1v1h-1M34 64h1v1h-1M34 78h1v1h-1M34 82h1v1h-1M35 70h1v1h-1M35 81h1v2h-1M35 90h1v1h-1M36 82h1v1h-1M36 84h1v1h-1M36 92h1v1h-1M37 62h1v1h-1M37 67h1v1h-1M37 81h1v1h-1M37 87h1v1h-1M38 61h1v1h-1M38 67h1v1h-1M38 74h1v1h-1M38 76h1v1h-1M38 78h1v1h-1M38 83h1v1h-1M38 94h1v1h-1M39 65h1v1h-1M39 69h1v1h-1M39 71h1v1h-1M39 75h1v1h-1M39 81h1v2h-1M39 88h1v2h-1M39 91h1v1h-1M40 59h1v1h-1M40 65h1v1h-1M40 70h1v1h-1M40 82h1v1h-1M41 76h1v1h-1M41 84h1v1h-1M41 86h1v1h-1M42 62h1v1h-1M42 64h1v1h-1M42 80h1v1h-1M42 89h1v1h-1M43 69h1v1h-1M43 83h1v1h-1M43 89h1v3h-1M43 93h1v1h-1M44 70h1v1h-1M44 73h1v1h-1M44 88h1v2h-1M44 91h1v1h-1M45 71h1v1h-1M45 76h1v1h-1M45 80h1v1h-1M45 89h1v1h-1M46 65h1v1h-1M46 67h1v1h-1M46 71h1v1h-1M46 83h1v1h-1M47 87h1v1h-1M48 63h1v1h-1M48 71h1v1h-1M48 77h1v1h-1M48 79h1v1h-1M48 81h1v2h-1M48 91h1v1h-1M48 93h1v2h-1"/>
<path fill="#0095fb" d="M0 26h1v2h-1M0 34h1v1h-1M0 36h1v1h-1M0 43h1v3h-1M0 49h1v1h-1M0 61h1v1h-1M1 31h1v1h-1M1 35h1v1h-1M1 38h1v1h-1M1 46h1v1h-1M1 58h1v1h-1M2 29h1v1h-1M2 38h1v1h-1M2 52h1v1h-1M2 56h1v1h-1M2 59h1v1h-1M3 28h1v2h-1M3 31h1v1h-1M3 33h1v1h-1M3 36h1v1h-1M3 53h1v1h-1M4 27h1v1h-1M4 33h1v1h-1M4 36h1v1h-1M4 41h1v1h-1M4 44h1v1h-1M5 33h1v1h-1M5 44h1v1h-1M6 27h1v1h-1M6 33h1v1h-1M6 37h1v1h-1M7 35h1v1h-1M7 53h1v2h-1M8 27h1v1h-1M8 30h1v1h-1M8 35h1v1h-1M8 38h1v1h-1M8 52h1v1h-1M9 27h1v1h-1M9 30h1v1h-1M9 33h1v1h-1M9 35h1v1h-1M9 42h1v2h-1M9 58h1v1h-1M10 48h1v1h-1M10 54h1v1h-1M11 28h1v2h-1M11 39h1v1h-1M11 41h1v1h-1M12 24h1v1h-1M12 33h1v3h-1M12 47h1v1h-1M12 49h1v1h-1M12 53h1v2h-1M13 26h1v1h-1M13 37h1v1h-1M13 40h1v1h-1M13 59h1v1h-1M13 61h1v2h-1M14 29h1v1h-1M14 34h1v1h-1M14 39h1v4h-1M14 47h1v2h-1M15 33h1v1h-1M15 47h1v1h-1M15 57h1v1h-1M15 59h1v1h-1M16 36h1v1h-1M16 45h1v1h-1M16 48h1v1h-1M16 59h1v1h-1M17 27h1v1h-1M17 38h1v1h-1M17 41h1v2h-1M17 46h1v1h-1M17 50h1v1h-1M17 58h1v1h-1M18 26h1v1h-1M18 49h1v1h-1M18 54h1v1h-1M18 59h1v1h-1M19 26h1v1h-1M19 28h1v1h-1M19 32h1v1h-1M19 52h1v2h-1M19 60h1v1h-1M20 26h1v1h-1M20 33h1v1h-1M20 50h1v1h-1M20 53h1v1h-1M20 59h1v1h-1M21 24h1v1h-1M21 26h1v1h-1M21 44h1v2h-1M21 48h1v1h-1M21 58h1v2h-1M22 30h1v1h-1M22 34h1v1h-1M22 36h1v1h-1M22 46h1v1h-1M22 53h1v1h-1M22 55h1v1h-1M22 61h1v1h-1M23 24h1v1h-1M23 29h1v1h-1M23 32h1v1h-1M23 35h1v1h-1M23 46h1v1h-1M23 51h1v1h-1M24 27h1v1h-1M24 32h1v1h-1M24 40h1v1h-1M24 43h1v1h-1M24 47h1v1h-1M24 57h1v1h-1M24 59h1v1h-1M24 62h1v2h-1M25 28h1v1h-1M25 51h1v1h-1M25 58h1v1h-1M25 63h1v1h-1M26 21h1v1h-1M26 27h1v1h-1M26 46h1v1h-1M26 48h1v1h-1M26 54h1v1h-1M26 56h1v1h-1M26 58h1v1h-1M26 62h1v1h-1M26 65h1v1h-1M27 13h1v1h-1M27 16h1v1h-1M27 23h1v1h-1M27 28h1v1h-1M27 31h1v1h-1M27 35h1v2h-1M27 38h1v1h-1M27 44h1v1h-1M27 47h1v1h-1M27 67h1v1h-1M27 71h1v1h-1M27 86h1v1h-1M27 88h1v1h-1M27 92h1v1h-1M27 95h1v1h-1M28 0h1v1h-1M28 4h1v1h-1M28 10h1v1h-1M28 14h1v1h-1M28 30h1v1h-1M28 41h1v1h-1M28 43h1v1h-1M28 48h1v1h-1M28 54h1v1h-1M28 60h1v2h-1M28 66h1v1h-1M28 74h1v1h-1M28 79h1v1h-1M28 81h1v1h-1M28 89h1v2h-1M29 0h1v1h-1M29 6h1v1h-1M29 8h1v1h-1M29 13h1v2h-1M29 22h1v1h-1M29 42h1v2h-1M29 50h1v2h-1M29 57h1v1h-1M29 63h1v1h-1M29 71h1v1h-1M29 75h1v3h-1M29 80h1v2h-1M29 83h1v1h-1M29 85h1v1h-1M29 93h1v1h-1M30 10h1v1h-1M30 17h1v1h-1M30 24h1v1h-1M30 28h1v1h-1M30 38h1v1h-1M30 41h1v1h-1M30 43h1v1h-1M30 50h1v1h-1M30 68h1v1h-1M30 75h1v1h-1M31 0h1v1h-1M31 6h1v1h-1M31 11h1v1h-1M31 16h1v1h-1M31 36h1v1h-1M31 56h1v1h-1M31 62h1v1h-1M31 67h1v1h-1M31 75h1v1h-1M31 82h1v1h-1M31 86h1v1h-1M32 1h1v1h-1M32 4h1v1h-1M32 16h1v1h-1M32 24h1v1h-1M32 27h1v1h-1M32 32h1v1h-1M32 38h1v1h-1M32 59h1v1h-1M32 63h1v1h-1M32 73h1v2h-1M32 79h1v2h-1M32 86h1v1h-1M32 89h1v1h-1M32 94h1v1h-1M33 12h1v2h-1M33 15h1v2h-1M33 18h1v1h-1M33 29h1v1h-1M33 32h1v1h-1M33 34h1v1h-1M33 41h1v1h-1M33 43h1v1h-1M33 52h1v1h-1M33 62h1v1h-1M33 67h1v1h-1M33 77h1v1h-1M33 81h1v1h-1M33 93h1v1h-1M34 54h1v1h-1M34 63h1v1h-1M34 69h1v2h-1M34 74h1v1h-1M34 79h1v1h-1M34 84h1v2h-1M34 91h1v1h-1M35 48h1v1h-1M35 63h1v1h-1M35 75h1v1h-1M35 77h1v1h-1M35 84h1v1h-1M35 89h1v1h-1M36 59h1v1h-1M36 83h1v1h-1M36 88h1v3h-1M37 70h1v1h-1M37 72h1v1h-1M37 74h1v1h-1M38 62h1v2h-1M38 70h1v1h-1M38 77h1v1h-1M38 79h1v1h-1M38 81h1v2h-1M38 87h1v1h-1M38 90h1v1h-1M38 92h1v1h-1M38 95h1v1h-1M39 66h1v1h-1M39 73h1v1h-1M39 83h1v1h-1M39 95h1v1h-1M40 60h1v1h-1M40 67h1v1h-1M40 69h1v1h-1M40 72h1v1h-1M40 78h1v1h-1M40 80h1v1h-1M40 87h1v2h-1M41 69h1v1h-1M41 77h1v1h-1M41 85h1v1h-1M41 88h1v1h-1M41 91h1v1h-1M42 69h1v1h-1M42 71h1v1h-1M42 82h1v1h-1M43 61h1v2h-1M43 65h1v1h-1M43 80h1v1h-1M44 75h1v1h-1M44 77h1v1h-1M44 79h1v1h-1M45 60h1v1h-1M45 66h1v1h-1M45 70h1v1h-1M45 88h1v1h-1M45 92h1v1h-1M45 94h1v1h-1M46 61h1v1h-1M46 69h1v2h-1M46 75h1v1h-1M46 86h1v1h-1M46 94h1v1h-1M47 59h1v2h-1M47 83h1v1h-1M47 86h1v1h-1M47 90h1v1h-1M47 93h1v1h-1M48 59h1v1h-1M48 66h1v2h-1M48 70h1v1h-1M48 78h1v1h-1M48 88h1v1h-1"/>
<path fill="#00a2fc" d="M0 38h1v1h-1M0 41h1v1h-1M0 54h1v2h-1M1 27h1v2h-1M1 30h1v1h-1M1 32h1v1h-1M1 41h1v1h-1M1 59h1v1h-1M2 24h1v1h-1M2 31h1v2h-1M2 43h1v2h-1M2 46h1v1h-1M2 50h1v1h-1M2 54h1v1h-1M3 24h1v1h-1M3 30h1v1h-1M3 35h1v1h-1M3 41h1v1h-1M3 57h1v1h-1M3 60h1v1h-1M4 26h1v1h-1M4 29h1v1h-1M4 31h1v2h-1M4 42h1v1h-1M4 45h1v3h-1M4 50h1v1h-1M4 53h1v1h-1M4 56h1v1h-1M4 61h1v2h-1M5 27h1v1h-1M5 31h1v2h-1M5 34h1v3h-1M5 46h1v1h-1M5 51h1v1h-1M5 54h1v1h-1M5 59h1v1h-1M6 31h1v1h-1M6 36h1v1h-1M6 44h1v4h-1M6 50h1v1h-1M6 53h1v1h-1M6 57h1v1h-1M7 32h1v1h-1M7 34h1v1h-1M7 39h1v1h-1M7 43h1v1h-1M7 52h1v1h-1M7 56h1v1h-1M7 60h1v2h-1M8 26h1v1h-1M8 39h1v1h-1M8 42h1v1h-1M8 44h1v2h-1M8 48h1v1h-1M8 54h1v3h-1M8 61h1v1h-1M9 26h1v1h-1M9 34h1v1h-1M9 46h1v1h-1M9 54h1v1h-1M9 56h1v1h-1M9 60h1v2h-1M10 28h1v1h-1M10 44h1v2h-1M10 47h1v1h-1M10 53h1v1h-1M10 56h1v3h-1M10 60h1v1h-1M11 26h1v1h-1M11 32h1v2h-1M11 44h1v1h-1M11 46h1v1h-1M11 48h1v1h-1M11 50h1v1h-1M11 53h1v2h-1M11 59h1v1h-1M12 28h1v1h-1M12 38h1v1h-1M12 43h1v1h-1M12 48h1v1h-1M12 51h1v1h-1M12 58h1v1h-1M13 28h1v2h-1M13 35h1v1h-1M13 41h1v3h-1M13 47h1v1h-1M13 51h1v1h-1M13 55h1v1h-1M14 28h1v1h-1M14 43h1v1h-1M14 51h1v1h-1M14 56h1v1h-1M14 58h1v1h-1M15 30h1v1h-1M15 37h1v1h-1M15 43h1v3h-1M15 54h1v1h-1M15 56h1v1h-1M15 58h1v1h-1M15 62h1v1h-1M16 34h1v2h-1M16 42h1v1h-1M16 44h1v1h-1M17 31h1v2h-1M17 43h1v1h-1M17 45h1v1h-1M17 47h1v2h-1M17 53h1v1h-1M17 57h1v1h-1M17 59h1v1h-1M18 28h1v1h-1M18 31h1v1h-1M18 39h1v2h-1M18 56h1v1h-1M18 58h1v1h-1M18 63h1v1h-1M19 24h1v1h-1M19 27h1v1h-1M19 34h1v1h-1M19 38h1v2h-1M19 41h1v1h-1M19 43h1v1h-1M19 45h1v1h-1M19 47h1v1h-1M19 54h1v1h-1M19 58h1v1h-1M20 35h1v1h-1M20 46h1v2h-1M20 52h1v1h-1M20 58h1v1h-1M21 31h1v1h-1M21 46h1v1h-1M21 50h1v2h-1M21 55h1v1h-1M21 62h1v1h-1M22 31h1v1h-1M22 39h1v1h-1M22 44h1v1h-1M22 52h1v1h-1M22 54h1v1h-1M22 56h1v1h-1M23 41h1v1h-1M23 52h1v2h-1M23 56h1v3h-1M23 63h1v1h-1M24 37h1v1h-1M24 41h1v2h-1M24 45h1v1h-1M24 49h1v1h-1M24 55h1v1h-1M24 58h1v1h-1M25 26h1v1h-1M25 29h1v2h-1M25 35h1v2h-1M25 39h1v1h-1M25 42h1v1h-1M25 60h1v2h-1M26 22h1v1h-1M26 25h1v2h-1M26 31h1v1h-1M26 33h1v1h-1M26 35h1v1h-1M26 82h1v1h-1M27 15h1v1h-1M27 18h1v1h-1M27 30h1v1h-1M27 40h1v1h-1M27 42h1v1h-1M27 54h1v1h-1M27 60h1v1h-1M27 70h1v1h-1M27 75h1v1h-1M27 84h1v1h-1M27 99h1v1h-1M28 1h1v1h-1M28 12h1v1h-1M28 21h1v1h-1M28 25h1v1h-1M28 32h1v1h-1M28 35h1v1h-1M28 44h1v1h-1M28 47h1v1h-1M28 58h1v1h-1M28 65h1v1h-1M28 69h1v1h-1M28 76h1v1h-1M28 82h1v1h-1M28 91h1v1h-1M29 2h1v1h-1M29 4h1v1h-1M29 25h1v1h-1M29 28h1v1h-1M29 34h1v1h-1M29 36h1v1h-1M29 41h1v1h-1M29 45h1v2h-1M29 54h1v1h-1M29 64h1v1h-1M29 82h1v1h-1M29 86h1v1h-1M29 90h1v1h-1M30 0h1v1h-1M30 6h1v1h-1M30 11h1v1h-1M30 13h1v1h-1M30 15h1v1h-1M30 18h1v1h-1M30 31h1v1h-1M30 42h1v1h-1M30 57h1v2h-1M30 60h1v1h-1M30 73h1v2h-1M30 80h1v1h-1M30 92h1v1h-1M30 95h1v1h-1M31 4h1v2h-1M31 15h1v1h-1M31 21h1v1h-1M31 24h1v1h-1M31 28h1v1h-1M31 32h1v1h-1M31 34h1v1h-1M31 43h1v1h-1M31 48h1v1h-1M31 53h1v1h-1M31 57h1v1h-1M31 59h1v1h-1M31 61h1v1h-1M31 64h1v1h-1M31 73h1v1h-1M31 77h1v1h-1M31 79h1v2h-1M31 88h1v1h-1M32 7h1v1h-1M32 14h1v1h-1M32 20h1v1h-1M32 28h1v1h-1M32 39h1v1h-1M32 43h1v1h-1M32 46h1v1h-1M32 51h1v1h-1M32 57h1v1h-1M32 69h1v1h-1M32 72h1v1h-1M32 75h1v1h-1M32 85h1v1h-1M32 93h1v1h-1M33 2h1v1h-1M33 4h1v2h-1M33 7h1v1h-1M33 11h1v1h-1M33 33h1v1h-1M33 35h1v1h-1M33 38h1v1h-1M33 51h1v1h-1M33 54h1v1h-1M33 78h1v2h-1M33 84h1v1h-1M33 89h1v2h-1M34 49h1v2h-1M34 52h1v1h-1M34 60h1v2h-1M34 68h1v1h-1M34 76h1v1h-1M34 87h1v2h-1M34 90h1v1h-1M35 50h1v1h-1M35 53h1v2h-1M35 59h1v1h-1M35 66h1v1h-1M35 72h1v1h-1M35 78h1v1h-1M35 86h1v1h-1M35 88h1v1h-1M35 91h1v1h-1M36 63h1v1h-1M36 67h1v1h-1M36 71h1v1h-1M36 73h1v1h-1M36 76h1v1h-1M36 85h1v3h-1M36 91h1v1h-1M36 95h1v1h-1M37 69h1v1h-1M37 76h1v1h-1M37 83h1v1h-1M37 91h1v3h-1M38 66h1v1h-1M38 86h1v1h-1M39 68h1v1h-1M39 74h1v1h-1M39 79h1v1h-1M39 85h1v1h-1M40 58h1v1h-1M40 63h1v1h-1M40 75h1v1h-1M40 84h1v1h-1M40 90h1v1h-1M40 92h1v2h-1M41 65h1v1h-1M41 67h1v1h-1M41 72h1v2h-1M41 79h1v1h-1M41 81h1v2h-1M41 87h1v1h-1M41 92h1v1h-1M42 59h1v1h-1M42 61h1v1h-1M42 70h1v1h-1M42 79h1v1h-1M42 84h1v1h-1M42 86h1v2h-1M42 91h1v1h-1M43 63h1v1h-1M43 68h1v1h-1M43 73h1v2h-1M43 79h1v1h-1M43 87h1v1h-1M44 66h1v1h-1M44 78h1v1h-1M44 84h1v1h-1M44 86h1v1h-1M44 90h1v1h-1M44 94h1v1h-1M45 59h1v1h-1M45 69h1v1h-1M45 73h1v1h-1M45 93h1v1h-1M46 79h1v1h-1M46 82h1v1h-1M46 88h1v1h-1M46 95h1v1h-1M47 66h1v2h-1M47 69h1v1h-1M47 72h1v2h-1M47 78h1v1h-1M47 88h1v1h-1M47 91h1v2h-1M48 62h1v1h-1M48 65h1v1h-1M48 69h1v1h-1M48 84h1v1h-1M48 90h1v1h-1"/>
<path fill="#00affe" d="M0 29h1v2h-1M0 35h1v1h-1M0 37h1v1h-1M0 40h1v1h-1M0 42h1v1h-1M0 46h1v1h-1M0 51h1v1h-1M1 52h1v2h-1M1 55h1v1h-1M1 60h1v1h-1M1 62h1v1h-1M2 40h1v1h-1M2 57h1v2h-1M3 46h1v2h-1M3 49h1v1h-1M3 55h1v2h-1M3 62h1v1h-1M4 24h1v1h-1M4 30h1v1h-1M4 38h1v1h-1M4 40h1v1h-1M4 43h1v1h-1M4 49h1v1h-1M4 59h1v1h-1M5 39h1v1h-1M5 47h1v1h-1M5 49h1v1h-1M5 56h1v1h-1M5 58h1v1h-1M5 62h1v1h-1M6 25h1v1h-1M6 30h1v1h-1M6 32h1v1h-1M6 39h1v1h-1M6 43h1v1h-1M6 49h1v1h-1M6 52h1v1h-1M7 26h1v1h-1M7 28h1v2h-1M7 31h1v1h-1M7 42h1v1h-1M7 47h1v1h-1M7 49h1v1h-1M7 58h1v2h-1M8 32h1v1h-1M8 40h1v1h-1M8 57h1v2h-1M9 24h1v1h-1M9 28h1v1h-1M9 38h1v2h-1M9 41h1v1h-1M9 62h1v1h-1M10 27h1v1h-1M10 34h1v1h-1M10 37h1v2h-1M10 62h1v1h-1M11 24h1v1h-1M11 30h1v1h-1M11 49h1v1h-1M11 55h1v3h-1M11 63h1v1h-1M12 30h1v1h-1M12 37h1v1h-1M12 52h1v1h-1M12 59h1v3h-1M13 24h1v1h-1M13 27h1v1h-1M13 39h1v1h-1M13 46h1v1h-1M13 60h1v1h-1M13 63h1v1h-1M14 32h1v1h-1M14 38h1v1h-1M14 54h1v2h-1M14 57h1v1h-1M14 59h1v1h-1M14 61h1v1h-1M15 24h1v2h-1M15 35h1v2h-1M15 51h1v1h-1M16 27h1v1h-1M16 39h1v3h-1M16 49h1v1h-1M16 60h1v2h-1M17 24h1v1h-1M17 28h1v1h-1M17 44h1v1h-1M17 52h1v1h-1M17 60h1v1h-1M18 24h1v1h-1M18 27h1v1h-1M18 42h1v1h-1M18 61h1v1h-1M19 25h1v1h-1M19 40h1v1h-1M19 57h1v1h-1M20 38h1v1h-1M20 41h1v1h-1M20 43h1v1h-1M20 45h1v1h-1M20 51h1v1h-1M20 56h1v1h-1M21 25h1v1h-1M21 35h1v1h-1M21 49h1v1h-1M22 24h1v2h-1M22 35h1v1h-1M22 38h1v1h-1M23 39h1v1h-1M23 49h1v1h-1M23 59h1v1h-1M23 62h1v1h-1M24 30h1v2h-1M24 35h1v2h-1M24 38h1v2h-1M24 48h1v1h-1M24 50h1v2h-1M25 32h1v1h-1M25 34h1v1h-1M25 40h1v1h-1M25 43h1v1h-1M25 48h1v1h-1M25 54h1v1h-1M25 62h1v1h-1M26 30h1v1h-1M26 38h1v1h-1M26 42h1v1h-1M26 57h1v1h-1M26 61h1v1h-1M26 63h1v1h-1M26 81h1v1h-1M26 96h1v1h-1M27 8h1v1h-1M27 10h1v1h-1M27 12h1v1h-1M27 17h1v1h-1M27 24h1v1h-1M27 45h1v1h-1M27 49h1v2h-1M27 57h1v1h-1M27 64h1v1h-1M27 73h1v1h-1M27 76h1v1h-1M27 83h1v1h-1M27 90h1v2h-1M27 93h1v1h-1M27 98h1v1h-1M28 2h1v1h-1M28 13h1v1h-1M28 18h1v3h-1M28 51h1v1h-1M28 62h1v2h-1M28 72h1v1h-1M28 78h1v1h-1M28 85h1v1h-1M29 7h1v1h-1M29 18h1v1h-1M29 20h1v1h-1M29 29h1v2h-1M29 60h1v1h-1M29 66h1v1h-1M29 72h1v1h-1M29 79h1v1h-1M30 3h1v1h-1M30 16h1v1h-1M30 30h1v1h-1M30 47h1v2h-1M30 52h1v1h-1M30 56h1v1h-1M30 61h1v2h-1M30 64h1v1h-1M30 66h1v1h-1M30 76h1v1h-1M30 79h1v1h-1M30 82h1v1h-1M31 9h1v1h-1M31 12h1v2h-1M31 25h1v1h-1M31 29h1v1h-1M31 38h1v2h-1M31 47h1v1h-1M31 49h1v2h-1M31 54h1v1h-1M31 60h1v1h-1M31 63h1v1h-1M31 84h1v1h-1M31 87h1v1h-1M31 90h1v4h-1M32 0h1v1h-1M32 11h1v1h-1M32 15h1v1h-1M32 19h1v1h-1M32 29h1v1h-1M32 35h1v1h-1M32 40h1v1h-1M32 45h1v1h-1M32 48h1v1h-1M32 50h1v1h-1M32 58h1v1h-1M32 64h1v1h-1M32 66h1v2h-1M32 71h1v1h-1M32 84h1v1h-1M32 92h1v1h-1M33 20h1v1h-1M33 28h1v1h-1M33 31h1v1h-1M33 45h1v1h-1M33 53h1v1h-1M33 56h1v2h-1M33 61h1v1h-1M33 80h1v1h-1M33 85h1v1h-1M33 87h1v1h-1M33 95h1v1h-1M34 45h1v1h-1M34 51h1v1h-1M34 53h1v1h-1M34 57h1v2h-1M34 81h1v1h-1M34 94h1v1h-1M35 49h1v1h-1M35 51h1v1h-1M35 61h1v1h-1M35 64h1v2h-1M35 67h1v1h-1M35 69h1v1h-1M35 71h1v1h-1M35 73h1v2h-1M35 76h1v1h-1M35 79h1v1h-1M35 92h1v2h-1M35 95h1v1h-1M36 62h1v1h-1M36 65h1v1h-1M36 68h1v1h-1M36 70h1v1h-1M36 78h1v1h-1M36 81h1v1h-1M37 59h1v1h-1M37 65h1v1h-1M37 71h1v1h-1M37 84h1v1h-1M37 89h1v1h-1M38 64h1v1h-1M38 75h1v1h-1M38 88h1v1h-1M39 63h1v2h-1M39 72h1v1h-1M39 76h1v2h-1M39 90h1v1h-1M39 92h1v1h-1M40 62h1v1h-1M41 59h1v1h-1M41 61h1v1h-1M41 66h1v1h-1M41 71h1v1h-1M41 75h1v1h-1M41 78h1v1h-1M41 80h1v1h-1M41 95h1v1h-1M42 66h1v1h-1M42 68h1v1h-1M42 74h1v1h-1M42 76h1v1h-1M42 78h1v1h-1M42 81h1v1h-1M42 83h1v1h-1M42 88h1v1h-1M43 59h1v1h-1M43 72h1v1h-1M43 75h1v1h-1M43 78h1v1h-1M43 88h1v1h-1M43 94h1v1h-1M44 60h1v3h-1M44 71h1v1h-1M44 74h1v1h-1M44 80h1v1h-1M44 87h1v1h-1M45 58h1v1h-1M45 61h1v3h-1M45 68h1v1h-1M45 74h1v2h-1M45 85h1v1h-1M45 91h1v1h-1M46 63h1v1h-1M46 73h1v2h-1M46 77h1v1h-1M46 87h1v1h-1M47 58h1v1h-1M47 62h1v1h-1M47 68h1v1h-1M47 74h1v1h-1M47 81h1v1h-1M48 68h1v1h-1M48 72h1v2h-1M48 85h1v1h-1M48 89h1v1h-1M48 95h1v1h-1"/>
<path fill="#00bcff" d="M0 48h1v1h-1M0 50h1v1h-1M0 58h1v1h-1M0 60h1v1h-1M1 37h1v1h-1M1 40h1v1h-1M1 45h1v1h-1M1 51h1v1h-1M1 63h1v1h-1M2 27h1v1h-1M2 33h1v1h-1M2 41h1v1h-1M2 49h1v1h-1M2 60h1v1h-1M3 27h1v1h-1M4 34h1v2h-1M4 39h1v1h-1M4 51h1v1h-1M4 60h1v1h-1M5 24h1v1h-1M5 38h1v1h-1M5 41h1v1h-1M5 43h1v1h-1M5 53h1v1h-1M5 55h1v1h-1M5 57h1v1h-1M6 28h1v2h-1M6 35h1v1h-1M6 56h1v1h-1M6 59h1v2h-1M6 62h1v1h-1M7 27h1v1h-1M7 30h1v1h-1M7 45h1v1h-1M7 51h1v1h-1M7 57h1v1h-1M7 62h1v1h-1M8 46h1v1h-1M8 49h1v1h-1M9 25h1v1h-1M9 29h1v1h-1M9 36h1v1h-1M9 51h1v1h-1M9 57h1v1h-1M9 59h1v1h-1M10 26h1v1h-1M10 29h1v2h-1M10 36h1v1h-1M11 35h1v1h-1M11 38h1v1h-1M11 42h1v2h-1M11 60h1v1h-1M12 26h1v1h-1M12 40h1v1h-1M12 55h1v1h-1M12 57h1v1h-1M12 62h1v1h-1M13 31h1v1h-1M13 33h1v1h-1M13 45h1v1h-1M14 35h1v1h-1M14 37h1v1h-1M14 49h1v1h-1M14 62h1v1h-1M15 48h1v2h-1M15 53h1v1h-1M15 60h1v1h-1M16 24h1v1h-1M16 26h1v1h-1M16 28h1v1h-1M16 37h1v1h-1M16 43h1v1h-1M16 56h1v3h-1M17 34h1v1h-1M17 40h1v1h-1M17 49h1v1h-1M18 33h1v1h-1M18 38h1v1h-1M18 43h1v1h-1M19 37h1v1h-1M19 48h1v1h-1M19 51h1v1h-1M19 56h1v1h-1M20 24h1v1h-1M20 29h1v1h-1M20 40h1v1h-1M21 29h1v2h-1M21 37h1v1h-1M21 40h1v2h-1M21 43h1v1h-1M21 57h1v1h-1M21 63h1v1h-1M22 32h1v1h-1M22 45h1v1h-1M22 51h1v1h-1M23 27h1v2h-1M23 33h1v2h-1M23 37h1v1h-1M23 43h1v1h-1M24 33h1v1h-1M24 53h1v2h-1M24 56h1v1h-1M24 64h1v1h-1M25 46h1v1h-1M25 64h1v1h-1M26 24h1v1h-1M26 29h1v1h-1M26 43h1v1h-1M26 45h1v1h-1M26 49h1v1h-1M26 53h1v1h-1M26 67h1v1h-1M26 69h1v1h-1M26 78h1v1h-1M27 7h1v1h-1M27 20h1v1h-1M27 39h1v1h-1M27 48h1v1h-1M27 51h1v1h-1M27 63h1v1h-1M27 65h1v1h-1M27 100h1v1h-1M28 3h1v1h-1M28 6h1v1h-1M28 15h1v2h-1M28 27h1v1h-1M28 29h1v1h-1M28 57h1v1h-1M28 68h1v1h-1M28 73h1v1h-1M28 84h1v1h-1M28 87h1v1h-1M28 93h1v2h-1M28 96h1v1h-1M29 3h1v1h-1M29 5h1v1h-1M29 12h1v1h-1M29 15h1v2h-1M29 23h1v1h-1M29 33h1v1h-1M29 39h1v1h-1M29 49h1v1h-1M29 65h1v1h-1M29 84h1v1h-1M29 96h1v1h-1M30 5h1v1h-1M30 23h1v1h-1M30 25h1v1h-1M30 29h1v1h-1M30 32h1v1h-1M30 37h1v1h-1M30 44h1v1h-1M30 51h1v1h-1M30 63h1v1h-1M30 65h1v1h-1M30 78h1v1h-1M30 91h1v1h-1M30 93h1v1h-1M31 3h1v1h-1M31 18h1v1h-1M31 20h1v1h-1M31 41h1v1h-1M31 52h1v1h-1M31 58h1v1h-1M31 68h1v2h-1M31 95h1v1h-1M32 2h1v1h-1M32 9h1v1h-1M32 13h1v1h-1M32 25h1v1h-1M32 30h1v1h-1M32 49h1v1h-1M32 60h1v1h-1M32 76h1v1h-1M32 78h1v1h-1M32 91h1v1h-1M32 95h1v1h-1M33 0h1v1h-1M33 8h1v2h-1M33 23h1v1h-1M33 37h1v1h-1M33 44h1v1h-1M33 64h1v2h-1M33 71h1v2h-1M34 46h1v1h-1M34 62h1v1h-1M34 65h1v1h-1M34 75h1v1h-1M34 95h1v1h-1M35 56h1v2h-1M35 62h1v1h-1M35 68h1v1h-1M35 80h1v1h-1M36 61h1v1h-1M36 64h1v1h-1M36 72h1v1h-1M36 80h1v1h-1M37 58h1v1h-1M37 64h1v1h-1M37 68h1v1h-1M37 75h1v1h-1M37 79h1v1h-1M37 90h1v1h-1M38 65h1v1h-1M38 69h1v1h-1M38 71h1v3h-1M39 58h1v1h-1M39 61h1v2h-1M39 67h1v1h-1M40 64h1v1h-1M40 85h1v1h-1M41 60h1v1h-1M41 62h1v1h-1M42 60h1v1h-1M42 63h1v1h-1M42 72h1v2h-1M42 75h1v1h-1M42 85h1v1h-1M42 90h1v1h-1M43 60h1v1h-1M43 82h1v1h-1M43 85h1v1h-1M43 92h1v1h-1M43 95h1v1h-1M44 58h1v2h-1M44 65h1v1h-1M44 69h1v1h-1M44 72h1v1h-1M44 83h1v1h-1M44 95h1v1h-1M45 65h1v1h-1M45 72h1v1h-1M45 78h1v1h-1M45 82h1v1h-1M45 84h1v1h-1M45 86h1v2h-1M46 62h1v1h-1M46 66h1v1h-1M46 76h1v1h-1M46 80h1v2h-1M46 85h1v1h-1M46 91h1v2h-1M47 63h1v2h-1M47 79h1v2h-1M47 89h1v1h-1M47 95h1v1h-1M48 60h1v2h-1M48 64h1v1h-1M48 75h1v1h-1M48 86h1v2h-1"/>
<path fill="#00c8fe" d="M0 39h1v1h-1M1 25h1v1h-1M1 39h1v1h-1M1 49h1v1h-1M1 56h1v2h-1M2 23h1v1h-1M2 25h1v1h-1M2 30h1v1h-1M2 36h1v1h-1M2 47h1v1h-1M2 51h1v1h-1M2 53h1v1h-1M3 23h1v1h-1M3 25h1v1h-1M3 32h1v1h-1M3 40h1v1h-1M3 45h1v1h-1M3 48h1v1h-1M3 58h1v1h-1M4 28h1v1h-1M4 37h1v1h-1M5 25h1v1h-1M5 37h1v1h-1M5 61h1v1h-1M5 63h1v1h-1M6 24h1v1h-1M6 58h1v1h-1M7 48h1v1h-1M7 55h1v1h-1M8 24h1v2h-1M8 33h1v1h-1M9 37h1v1h-1M9 40h1v1h-1M9 55h1v1h-1M9 63h1v1h-1M10 25h1v1h-1M10 32h1v2h-1M10 43h1v1h-1M10 55h1v1h-1M11 23h1v1h-1M11 25h1v1h-1M11 31h1v1h-1M11 58h1v1h-1M12 25h1v1h-1M12 41h1v1h-1M13 25h1v1h-1M13 32h1v1h-1M13 50h1v1h-1M13 56h1v1h-1M14 30h1v1h-1M14 45h1v1h-1M14 52h1v1h-1M15 27h1v2h-1M15 34h1v1h-1M15 39h1v2h-1M15 61h1v1h-1M15 63h1v1h-1M16 46h1v1h-1M16 55h1v1h-1M16 63h1v1h-1M17 39h1v1h-1M17 55h1v1h-1M17 62h1v1h-1M18 32h1v1h-1M18 37h1v1h-1M18 45h1v1h-1M18 50h1v1h-1M18 55h1v1h-1M19 29h1v1h-1M19 44h1v1h-1M19 49h1v1h-1M19 62h1v1h-1M20 28h1v1h-1M20 55h1v1h-1M20 57h1v1h-1M21 23h1v1h-1M21 32h1v1h-1M21 39h1v1h-1M22 23h1v1h-1M22 28h1v1h-1M22 37h1v1h-1M22 49h1v1h-1M22 59h1v1h-1M22 62h1v1h-1M23 23h1v1h-1M23 47h1v1h-1M23 55h1v1h-1M23 60h1v2h-1M23 64h1v1h-1M24 24h1v2h-1M24 29h1v1h-1M24 60h1v1h-1M24 65h1v1h-1M25 49h1v1h-1M25 56h1v1h-1M26 20h1v1h-1M26 40h1v1h-1M26 60h1v1h-1M26 75h1v1h-1M26 77h1v1h-1M26 83h1v1h-1M26 86h1v1h-1M26 89h1v1h-1M26 94h1v2h-1M27 9h1v1h-1M27 37h1v1h-1M27 46h1v1h-1M27 61h1v1h-1M27 72h1v1h-1M28 5h1v1h-1M28 39h1v1h-1M28 45h1v1h-1M28 49h1v1h-1M28 55h1v2h-1M28 75h1v1h-1M28 80h1v1h-1M28 92h1v1h-1M28 97h1v1h-1M29 9h1v1h-1M29 19h1v1h-1M29 53h1v1h-1M29 74h1v1h-1M29 78h1v1h-1M30 35h1v1h-1M30 45h1v2h-1M30 55h1v1h-1M30 84h1v1h-1M30 88h1v1h-1M30 90h1v1h-1M31 40h1v1h-1M31 78h1v1h-1M32 3h1v1h-1M32 5h1v1h-1M32 10h1v1h-1M33 10h1v1h-1M33 19h1v1h-1M33 27h1v1h-1M33 30h1v1h-1M33 39h1v1h-1M33 49h1v1h-1M33 58h1v1h-1M33 60h1v1h-1M33 73h1v2h-1M33 92h1v1h-1M33 94h1v1h-1M34 55h1v1h-1M34 72h1v1h-1M34 93h1v1h-1M35 47h1v1h-1M35 55h1v1h-1M35 58h1v1h-1M36 54h1v2h-1M36 57h1v1h-1M36 66h1v1h-1M36 75h1v1h-1M36 79h1v1h-1M37 60h1v2h-1M37 63h1v1h-1M37 80h1v1h-1M37 86h1v1h-1M37 94h1v2h-1M38 58h1v1h-1M38 60h1v1h-1M38 68h1v1h-1M38 85h1v1h-1M38 91h1v1h-1M38 96h1v1h-1M39 59h1v2h-1M39 84h1v1h-1M39 87h1v1h-1M40 71h1v1h-1M40 95h1v1h-1M41 58h1v1h-1M41 63h1v1h-1M41 68h1v1h-1M41 90h1v1h-1M42 92h1v2h-1M43 64h1v1h-1M43 76h1v1h-1M44 63h1v2h-1M44 93h1v1h-1M45 90h1v1h-1M46 60h1v1h-1M46 72h1v1h-1M46 90h1v1h-1M46 93h1v1h-1M47 71h1v1h-1M47 76h1v1h-1M47 85h1v1h-1M48 58h1v1h-1M48 80h1v1h-1"/>
<path fill="#00d4fd" d="M0 24h1v1h-1M0 33h1v1h-1M0 57h1v1h-1M0 63h1v1h-1M1 24h1v1h-1M1 54h1v1h-1M2 35h1v1h-1M2 61h1v1h-1M2 63h1v1h-1M3 39h1v1h-1M4 23h1v1h-1M4 55h1v1h-1M4 63h1v1h-1M6 51h1v1h-1M6 55h1v1h-1M6 63h1v1h-1M7 24h1v1h-1M7 33h1v1h-1M8 59h1v1h-1M8 62h1v2h-1M9 23h1v1h-1M10 24h1v1h-1M10 39h1v1h-1M10 50h1v1h-1M10 63h1v1h-1M11 36h1v2h-1M11 40h1v1h-1M12 23h1v1h-1M14 24h1v1h-1M14 63h1v1h-1M15 23h1v1h-1M15 32h1v1h-1M15 46h1v1h-1M15 55h1v1h-1M16 25h1v1h-1M16 29h1v1h-1M17 23h1v1h-1M17 25h1v1h-1M17 29h1v2h-1M17 35h1v1h-1M17 37h1v1h-1M18 25h1v1h-1M19 33h1v1h-1M19 55h1v1h-1M19 59h1v1h-1M20 25h1v1h-1M20 30h1v1h-1M20 32h1v1h-1M20 37h1v1h-1M22 41h1v1h-1M22 47h1v1h-1M22 63h1v1h-1M23 45h1v1h-1M26 19h1v1h-1M26 32h1v1h-1M26 39h1v1h-1M26 55h1v1h-1M26 68h1v1h-1M26 73h1v2h-1M26 76h1v1h-1M26 84h1v2h-1M26 88h1v1h-1M26 98h1v1h-1M27 26h1v1h-1M27 32h1v1h-1M27 43h1v1h-1M27 68h1v1h-1M27 80h1v1h-1M27 97h1v1h-1M28 88h1v1h-1M29 10h1v1h-1M29 38h1v1h-1M29 91h1v1h-1M29 97h1v1h-1M30 9h1v1h-1M30 49h1v1h-1M30 87h1v1h-1M31 2h1v1h-1M31 22h1v1h-1M31 35h1v1h-1M31 37h1v1h-1M31 65h1v1h-1M32 56h1v1h-1M32 61h1v1h-1M32 68h1v1h-1M33 1h1v1h-1M33 3h1v1h-1M33 40h1v1h-1M33 55h1v1h-1M33 59h1v1h-1M34 56h1v1h-1M34 73h1v1h-1M34 80h1v1h-1M34 92h1v1h-1M35 46h1v1h-1M36 60h1v1h-1M36 74h1v1h-1M37 73h1v1h-1M37 85h1v1h-1M38 80h1v1h-1M38 93h1v1h-1M39 57h1v1h-1M39 93h1v1h-1M40 57h1v1h-1M40 61h1v1h-1M42 95h1v1h-1M43 84h1v1h-1M43 86h1v1h-1M44 76h1v1h-1M44 85h1v1h-1M44 92h1v1h-1M45 64h1v1h-1M45 95h1v1h-1M47 57h1v1h-1"/>
<path fill="#00e0fc" d="M0 25h1v1h-1M0 56h1v1h-1M2 39h1v1h-1M2 64h1v1h-1M3 37h1v1h-1M3 63h1v1h-1M5 23h1v1h-1M7 25h1v1h-1M7 63h1v1h-1M8 51h1v1h-1M9 45h1v1h-1M9 64h1v1h-1M10 61h1v1h-1M11 64h1v1h-1M12 39h1v1h-1M12 63h1v1h-1M13 23h1v1h-1M13 64h1v1h-1M16 32h1v2h-1M16 64h1v1h-1M17 51h1v1h-1M17 63h1v1h-1M18 23h1v1h-1M18 64h1v1h-1M19 23h1v1h-1M19 31h1v1h-1M19 61h1v1h-1M19 63h1v1h-1M20 60h1v1h-1M20 62h1v2h-1M21 64h1v1h-1M22 57h1v1h-1M23 30h1v1h-1M23 40h1v1h-1M24 23h1v1h-1M25 25h1v1h-1M25 65h1v2h-1M26 18h1v1h-1M26 37h1v1h-1M26 70h1v2h-1M26 79h1v2h-1M26 87h1v1h-1M26 91h1v2h-1M26 97h1v1h-1M26 100h1v2h-1M27 19h1v1h-1M27 25h1v1h-1M27 29h1v1h-1M27 56h1v1h-1M27 101h1v1h-1M28 40h1v1h-1M29 55h1v1h-1M29 68h1v1h-1M30 96h1v1h-1M31 55h1v1h-1M31 96h1v1h-1M32 6h1v1h-1M32 37h1v1h-1M32 96h1v1h-1M33 6h1v1h-1M33 25h1v1h-1M33 42h1v1h-1M33 63h1v1h-1M34 39h1v6h-1M34 66h1v1h-1M34 96h1v1h-1M35 60h1v1h-1M35 96h1v1h-1M36 58h1v1h-1M36 96h1v1h-1M37 57h1v1h-1M37 78h1v1h-1M38 57h1v1h-1M39 96h1v1h-1M40 79h1v1h-1M41 57h1v1h-1M41 64h1v1h-1M42 57h1v2h-1M43 58h1v1h-1M44 68h1v1h-1M45 57h1v1h-1M46 57h1v2h-1M46 68h1v1h-1M46 96h1v1h-1M47 65h1v1h-1M47 96h1v1h-1M48 57h1v1h-1"/>
<path fill="#00ecfb" d="M0 23h1v1h-1M0 64h1v1h-1M1 23h1v1h-1M1 64h1v1h-1M2 37h1v1h-1M3 51h1v1h-1M6 40h1v1h-1M7 40h1v1h-1M8 23h1v1h-1M10 40h1v1h-1M12 32h1v1h-1M13 30h1v1h-1M14 25h1v1h-1M15 64h1v1h-1M16 23h1v1h-1M16 51h1v1h-1M17 61h1v1h-1M20 23h1v1h-1M21 56h1v1h-1M21 60h1v1h-1M23 65h1v1h-1M25 27h1v1h-1M26 17h1v1h-1M26 90h1v1h-1M26 102h1v1h-1M27 6h1v1h-1M27 55h1v1h-1M27 58h1v1h-1M27 102h1v1h-1M28 9h1v1h-1M28 98h1v1h-1M29 98h1v1h-1M30 2h1v1h-1M30 40h1v1h-1M31 19h1v1h-1M31 72h1v1h-1M33 96h1v1h-1M34 12h1v27h-1M35 45h1v1h-1M36 53h1v1h-1M36 93h1v1h-1M40 56h1v1h-1M40 68h1v1h-1M40 96h1v1h-1M41 96h1v1h-1M42 96h1v1h-1M43 96h1v1h-1M44 57h1v1h-1M44 96h1v1h-1M45 96h1v1h-1M48 96h1v1h-1"/>
<path fill="#00f2f0" d="M2 22h1v1h-1M3 22h1v1h-1M4 64h1v1h-1M5 28h1v1h-1M5 64h1v1h-1M6 64h1v1h-1M7 23h1v1h-1M8 64h1v1h-1M12 64h1v1h-1M18 51h1v1h-1M20 64h1v1h-1M21 22h1v1h-1M21 65h1v1h-1M22 22h1v1h-1M22 64h1v1h-1M23 22h1v1h-1M24 22h1v1h-1M24 66h1v2h-1M25 24h1v1h-1M25 67h1v1h-1M26 72h1v1h-1M26 93h1v1h-1M26 99h1v1h-1M26 103h1v1h-1M27 5h1v1h-1M27 103h1v2h-1M28 99h1v2h-1M29 99h1v3h-1M30 72h1v1h-1M30 97h1v1h-1M33 68h1v1h-1M34 0h1v12h-1M37 96h1v1h-1M38 97h1v1h-1M41 56h1v1h-1M43 57h1v1h-1"/>
<path fill="#00f3dc" d="M3 64h1v1h-1M4 22h1v1h-1M6 23h1v1h-1M7 64h1v1h-1M9 22h1v1h-1M10 23h1v1h-1M10 64h1v1h-1M11 22h1v1h-1M12 22h1v1h-1M12 46h1v1h-1M13 65h1v1h-1M15 22h1v1h-1M16 65h1v1h-1M17 64h1v1h-1M18 65h1v1h-1M25 22h1v2h-1M25 68h1v1h-1M26 104h1v2h-1M27 4h1v1h-1M27 105h1v2h-1M28 101h1v3h-1M29 102h1v2h-1M31 97h1v1h-1M34 97h1v1h-1M35 44h1v1h-1M36 97h1v1h-1M37 56h1v1h-1M39 56h1v1h-1M39 97h1v1h-1M40 73h1v1h-1M40 97h1v1h-1M41 97h1v1h-1M45 56h1v1h-1M46 97h1v1h-1M47 56h1v1h-1M47 97h1v1h-1"/>
<path fill="#00f4c8" d="M0 65h1v1h-1M1 65h1v1h-1M2 65h1v1h-1M5 22h1v1h-1M9 65h1v1h-1M11 65h1v1h-1M14 23h1v1h-1M14 64h1v1h-1M17 22h1v1h-1M18 22h1v1h-1M19 22h1v1h-1M19 64h1v1h-1M23 66h1v1h-1M24 68h1v1h-1M26 16h1v1h-1M26 106h1v1h-1M27 2h1v2h-1M27 107h1v2h-1M28 104h1v1h-1M28 106h1v1h-1M29 104h1v3h-1M30 98h1v1h-1M32 97h1v1h-1M33 97h1v1h-1M35 43h1v1h-1M35 97h1v1h-1M36 52h1v1h-1M38 56h1v1h-1M38 98h1v1h-1M42 97h1v1h-1M43 97h1v1h-1M44 97h1v1h-1M46 56h1v1h-1M48 97h1v1h-1"/>
<path fill="#00f4b3" d="M8 22h1v1h-1M12 65h1v1h-1M13 22h1v1h-1M15 65h1v1h-1M24 21h1v1h-1M25 21h1v1h-1M25 69h1v2h-1M26 15h1v1h-1M26 107h1v1h-1M27 109h1v3h-1M28 105h1v1h-1M28 107h1v1h-1M29 107h1v1h-1M30 99h1v1h-1M37 97h1v1h-1M42 56h1v1h-1M44 56h1v1h-1M45 97h1v1h-1M48 56h1v1h-1"/>
<path fill="#00f59e" d="M0 22h1v1h-1M1 22h1v1h-1M4 21h1v1h-1M4 65h1v1h-1M5 65h1v1h-1M6 65h1v1h-1M8 65h1v1h-1M10 65h1v1h-1M14 65h1v1h-1M15 21h1v1h-1M16 22h1v1h-1M18 66h1v1h-1M20 22h1v1h-1M20 65h1v1h-1M22 65h1v1h-1M25 71h1v1h-1M26 108h1v2h-1M27 1h1v1h-1M27 112h1v3h-1M28 108h1v3h-1M29 108h1v3h-1M30 100h1v1h-1M31 98h1v1h-1M32 98h1v1h-1M34 98h1v1h-1M35 42h1v1h-1M35 98h1v1h-1M39 98h1v1h-1M40 55h1v1h-1M40 98h1v1h-1M42 98h1v1h-1M43 98h1v1h-1M44 98h1v1h-1M46 98h1v1h-1M47 98h1v1h-1"/>
<path fill="#02f681" d="M0 66h1v1h-1M1 66h1v1h-1M2 21h1v1h-1M2 66h1v1h-1M3 21h1v1h-1M3 65h1v1h-1M6 22h1v1h-1M7 22h1v1h-1M7 65h1v1h-1M9 21h1v1h-1M9 66h1v1h-1M10 22h1v1h-1M11 66h1v1h-1M12 21h1v1h-1M13 66h1v1h-1M14 22h1v1h-1M15 66h1v1h-1M16 66h1v1h-1M17 65h1v1h-1M19 21h1v1h-1M19 65h1v1h-1M21 21h1v1h-1M21 66h1v1h-1M22 21h1v1h-1M23 21h1v1h-1M23 67h1v1h-1M24 20h1v1h-1M24 69h1v2h-1M25 20h1v1h-1M25 72h1v1h-1M26 13h1v2h-1M26 110h1v1h-1M27 0h1v1h-1M27 115h1v1h-1M27 117h1v1h-1M27 119h1v1h-1M28 111h1v3h-1M28 115h1v1h-1M29 111h1v3h-1M30 101h1v2h-1M33 98h1v2h-1M35 41h1v1h-1M36 51h1v1h-1M36 98h1v1h-1M37 55h1v1h-1M37 98h1v1h-1M38 99h1v1h-1M39 55h1v1h-1M39 99h1v1h-1M41 55h1v1h-1M41 98h1v1h-1M43 56h1v1h-1M45 55h1v1h-1M45 98h1v1h-1M47 55h1v1h-1M48 98h1v1h-1"/>
<path fill="#05f663" d="M0 21h1v1h-1M4 66h1v1h-1M5 21h1v1h-1M5 66h1v1h-1M6 66h1v1h-1M7 66h1v1h-1M8 66h1v1h-1M10 66h1v1h-1M11 20h1v2h-1M12 66h1v1h-1M13 21h1v1h-1M13 67h1v1h-1M14 66h1v1h-1M17 21h1v1h-1M18 21h1v1h-1M18 67h1v1h-1M19 66h1v1h-1M20 66h1v1h-1M21 20h1v1h-1M21 67h1v1h-1M22 66h1v1h-1M24 71h1v1h-1M25 19h1v1h-1M25 73h1v3h-1M26 12h1v1h-1M26 111h1v2h-1M27 116h1v1h-1M27 118h1v1h-1M28 114h1v1h-1M28 116h1v1h-1M28 118h1v1h-1M29 114h1v5h-1M30 103h1v1h-1M31 99h1v1h-1M32 99h1v1h-1M34 99h1v1h-1M35 40h1v1h-1M35 99h1v1h-1M36 50h1v1h-1M36 99h1v1h-1M38 55h1v1h-1M38 100h1v1h-1M40 99h1v1h-1M41 99h1v1h-1M42 99h1v1h-1M43 99h1v1h-1M44 99h1v1h-1M46 55h1v1h-1M46 99h1v1h-1M47 99h1v1h-1M48 55h1v1h-1M48 99h1v1h-1"/>
<path fill="#07f746" d="M0 67h1v1h-1M1 21h1v1h-1M1 67h1v1h-1M2 20h1v1h-1M2 67h1v1h-1M3 20h1v1h-1M3 66h1v1h-1M4 20h1v1h-1M6 21h1v1h-1M7 21h1v1h-1M8 21h1v1h-1M9 20h1v1h-1M9 67h1v1h-1M11 67h1v1h-1M15 67h1v1h-1M16 21h1v1h-1M16 67h1v1h-1M17 66h1v1h-1M20 21h1v1h-1M23 20h1v1h-1M24 18h1v2h-1M24 72h1v1h-1M25 16h1v3h-1M25 76h1v1h-1M26 113h1v2h-1M28 117h1v1h-1M28 119h1v1h-1M29 119h1v1h-1M30 104h1v1h-1M35 39h1v1h-1M36 49h1v1h-1M36 100h1v1h-1M37 99h1v1h-1M39 100h1v1h-1M40 54h1v1h-1M41 100h1v1h-1M42 55h1v1h-1M44 55h1v1h-1M45 99h1v1h-1M46 100h1v1h-1M47 100h1v1h-1"/>
<path fill="#09f828" d="M0 68h1v1h-1M1 68h1v1h-1M2 68h1v1h-1M4 67h1v1h-1M5 67h1v1h-1M6 67h1v1h-1M8 67h1v1h-1M10 21h1v1h-1M10 67h1v1h-1M12 20h1v1h-1M12 67h1v1h-1M13 68h1v1h-1M14 21h1v1h-1M14 67h1v1h-1M15 20h1v1h-1M16 20h1v1h-1M16 68h1v1h-1M17 20h1v1h-1M17 67h1v1h-1M18 20h1v1h-1M18 69h1v1h-1M19 20h1v1h-1M19 67h1v1h-1M20 67h1v1h-1M22 20h1v1h-1M23 68h1v1h-1M24 73h1v1h-1M25 15h1v1h-1M25 77h1v3h-1M26 10h1v2h-1M26 115h1v1h-1M30 105h1v1h-1M31 100h1v1h-1M32 100h1v1h-1M33 100h1v1h-1M34 100h1v1h-1M35 38h1v1h-1M35 100h1v1h-1M36 103h1v1h-1M37 100h1v1h-1M39 54h1v1h-1M39 101h1v1h-1M40 100h1v1h-1M41 54h1v1h-1M41 101h1v1h-1M42 101h1v1h-1M43 55h1v1h-1M43 100h1v1h-1M44 100h1v1h-1M45 54h1v1h-1M45 100h1v1h-1M46 101h1v1h-1M47 54h1v1h-1"/>
<path fill="#11f81a" d="M0 20h1v1h-1M0 69h1v2h-1M1 20h1v1h-1M2 19h1v1h-1M2 69h1v1h-1M3 67h1v2h-1M4 69h1v1h-1M5 20h1v1h-1M5 68h1v1h-1M6 20h1v1h-1M6 68h1v2h-1M7 20h1v1h-1M7 67h1v1h-1M8 20h1v1h-1M8 68h1v1h-1M9 68h1v1h-1M10 68h1v1h-1M11 19h1v1h-1M11 68h1v2h-1M12 68h1v1h-1M13 20h1v1h-1M13 69h1v1h-1M14 68h1v2h-1M15 68h1v2h-1M16 69h1v1h-1M17 19h1v1h-1M17 68h1v1h-1M18 68h1v1h-1M19 68h1v1h-1M20 20h1v1h-1M20 68h1v1h-1M21 19h1v1h-1M21 68h1v2h-1M22 67h1v2h-1M23 69h1v2h-1M24 17h1v1h-1M24 74h1v2h-1M24 78h1v1h-1M25 12h1v3h-1M25 80h1v6h-1M26 9h1v1h-1M26 116h1v4h-1M30 106h1v6h-1M31 103h1v1h-1M32 101h1v2h-1M33 101h1v3h-1M34 101h1v2h-1M35 36h1v2h-1M35 101h1v2h-1M35 104h1v1h-1M36 48h1v1h-1M36 101h1v2h-1M37 54h1v1h-1M37 101h1v2h-1M38 54h1v1h-1M38 101h1v2h-1M39 102h1v2h-1M40 53h1v1h-1M40 101h1v3h-1M41 102h1v1h-1M41 104h1v1h-1M42 100h1v1h-1M42 102h1v1h-1M43 101h1v2h-1M44 54h1v1h-1M44 101h1v1h-1M44 103h1v1h-1M45 101h1v2h-1M46 54h1v1h-1M46 102h1v1h-1M46 104h1v1h-1M47 101h1v4h-1M48 54h1v1h-1M48 100h1v4h-1"/>
<path fill="#1df713" d="M0 71h1v1h-1M1 19h1v1h-1M1 69h1v4h-1M2 70h1v3h-1M3 19h1v1h-1M3 69h1v1h-1M4 19h1v1h-1M4 68h1v1h-1M4 70h1v2h-1M5 19h1v1h-1M5 69h1v3h-1M6 70h1v1h-1M7 68h1v3h-1M8 69h1v2h-1M9 19h1v1h-1M9 69h1v3h-1M10 20h1v1h-1M10 69h1v2h-1M11 70h1v2h-1M12 19h1v1h-1M12 69h1v2h-1M13 19h1v1h-1M13 70h1v2h-1M14 20h1v1h-1M14 70h1v1h-1M15 18h1v2h-1M15 70h1v2h-1M16 19h1v1h-1M16 70h1v3h-1M17 69h1v2h-1M18 70h1v2h-1M19 19h1v1h-1M19 69h1v2h-1M20 19h1v1h-1M20 69h1v2h-1M21 70h1v2h-1M22 19h1v1h-1M22 69h1v1h-1M22 71h1v1h-1M23 18h1v2h-1M23 71h1v1h-1M23 73h1v1h-1M24 16h1v1h-1M24 76h1v2h-1M24 79h1v3h-1M25 10h1v1h-1M25 86h1v2h-1M25 89h1v1h-1M25 91h1v2h-1M26 6h1v3h-1M30 112h1v1h-1M30 114h1v3h-1M31 101h1v2h-1M31 104h1v2h-1M32 103h1v1h-1M32 106h1v1h-1M33 104h1v1h-1M34 103h1v3h-1M35 33h1v3h-1M35 103h1v1h-1M35 105h1v1h-1M36 47h1v1h-1M36 104h1v3h-1M37 53h1v1h-1M37 103h1v2h-1M38 103h1v4h-1M39 53h1v1h-1M39 105h1v1h-1M40 104h1v3h-1M41 53h1v1h-1M41 103h1v1h-1M41 105h1v1h-1M42 54h1v1h-1M42 103h1v2h-1M43 54h1v1h-1M43 103h1v1h-1M43 105h1v1h-1M44 102h1v1h-1M44 104h1v1h-1M45 53h1v1h-1M45 103h1v1h-1M46 53h1v1h-1M46 103h1v1h-1M46 105h1v1h-1M47 53h1v1h-1M47 105h1v1h-1M48 104h1v1h-1"/>
<path fill="#28f60c" d="M0 19h1v1h-1M0 72h1v1h-1M1 73h1v1h-1M2 18h1v1h-1M3 18h1v1h-1M3 70h1v3h-1M4 18h1v1h-1M4 72h1v1h-1M5 18h1v1h-1M5 73h1v1h-1M6 19h1v1h-1M6 71h1v2h-1M7 19h1v1h-1M7 71h1v1h-1M8 19h1v1h-1M8 71h1v2h-1M9 72h1v1h-1M10 71h1v1h-1M10 73h1v1h-1M11 18h1v1h-1M11 72h1v2h-1M12 18h1v1h-1M12 71h1v2h-1M13 72h1v2h-1M14 71h1v2h-1M15 72h1v1h-1M16 73h1v1h-1M17 18h1v1h-1M17 71h1v2h-1M18 18h1v2h-1M18 72h1v2h-1M19 71h1v1h-1M19 73h1v1h-1M20 72h1v1h-1M21 18h1v1h-1M21 72h1v2h-1M22 18h1v1h-1M22 70h1v1h-1M22 73h1v1h-1M23 72h1v1h-1M23 74h1v1h-1M24 14h1v2h-1M24 82h1v5h-1M25 8h1v2h-1M25 11h1v1h-1M25 88h1v1h-1M25 90h1v1h-1M25 93h1v1h-1M25 95h1v2h-1M30 113h1v1h-1M30 117h1v3h-1M31 106h1v3h-1M32 104h1v2h-1M32 107h1v1h-1M33 105h1v2h-1M33 108h1v1h-1M34 106h1v2h-1M35 31h1v2h-1M35 106h1v3h-1M36 45h1v2h-1M36 107h1v2h-1M37 105h1v2h-1M38 53h1v1h-1M38 107h1v2h-1M39 104h1v1h-1M39 106h1v2h-1M39 109h1v1h-1M40 52h1v1h-1M41 106h1v3h-1M42 53h1v1h-1M42 105h1v2h-1M43 53h1v1h-1M43 104h1v1h-1M43 106h1v2h-1M44 53h1v1h-1M44 105h1v3h-1M45 104h1v4h-1M46 106h1v2h-1M46 109h1v1h-1M47 106h1v3h-1M48 53h1v1h-1M48 105h1v3h-1"/>
<path fill="#33f605" d="M0 18h1v1h-1M0 73h1v2h-1M1 18h1v1h-1M1 74h1v1h-1M2 17h1v1h-1M2 73h1v3h-1M3 17h1v1h-1M3 73h1v1h-1M4 17h1v1h-1M4 73h1v1h-1M5 72h1v1h-1M5 74h1v1h-1M6 73h1v1h-1M7 18h1v1h-1M7 72h1v2h-1M8 73h1v1h-1M9 18h1v1h-1M9 73h1v2h-1M10 18h1v2h-1M10 72h1v1h-1M11 74h1v1h-1M12 73h1v2h-1M13 18h1v1h-1M13 74h1v1h-1M14 18h1v2h-1M14 73h1v1h-1M15 17h1v1h-1M15 73h1v2h-1M16 18h1v1h-1M16 74h1v1h-1M17 73h1v1h-1M18 74h1v2h-1M19 18h1v1h-1M19 72h1v1h-1M19 74h1v1h-1M20 71h1v1h-1M20 73h1v1h-1M21 17h1v1h-1M21 74h1v1h-1M22 17h1v1h-1M22 72h1v1h-1M22 74h1v1h-1M23 75h1v1h-1M24 87h1v2h-1M25 5h1v3h-1M25 94h1v1h-1M25 97h1v2h-1M25 100h1v2h-1M26 2h1v4h-1M31 109h1v1h-1M32 108h1v1h-1M32 110h1v1h-1M33 107h1v1h-1M33 109h1v1h-1M34 108h1v2h-1M35 29h1v1h-1M36 44h1v1h-1M36 109h1v1h-1M37 52h1v1h-1M37 107h1v2h-1M38 109h1v1h-1M39 52h1v1h-1M40 51h1v1h-1M40 107h1v2h-1M40 110h1v1h-1M41 52h1v1h-1M41 109h1v2h-1M42 52h1v1h-1M42 107h1v3h-1M43 108h1v1h-1M44 108h1v2h-1M45 52h1v1h-1M45 108h1v1h-1M46 52h1v1h-1M46 108h1v1h-1M47 52h1v1h-1M47 109h1v1h-1M48 52h1v1h-1M48 108h1v1h-1"/>
<path fill="#41f500" d="M0 17h1v1h-1M0 75h1v2h-1M1 17h1v1h-1M1 75h1v1h-1M3 74h1v2h-1M4 74h1v1h-1M5 75h1v1h-1M6 18h1v1h-1M6 74h1v1h-1M7 74h1v1h-1M8 17h1v2h-1M8 74h1v2h-1M9 75h1v1h-1M10 74h1v3h-1M11 17h1v1h-1M11 75h1v1h-1M12 17h1v1h-1M12 75h1v1h-1M13 17h1v1h-1M13 75h1v1h-1M14 74h1v1h-1M15 75h1v1h-1M16 75h1v1h-1M17 17h1v1h-1M17 74h1v1h-1M18 17h1v1h-1M18 76h1v1h-1M19 17h1v1h-1M20 18h1v1h-1M20 74h1v1h-1M21 75h1v1h-1M22 75h1v1h-1M23 17h1v1h-1M23 76h1v1h-1M24 13h1v1h-1M24 89h1v2h-1M24 92h1v1h-1M25 3h1v2h-1M25 99h1v1h-1M25 102h1v2h-1M26 1h1v1h-1M31 110h1v1h-1M32 109h1v1h-1M32 112h1v1h-1M33 110h1v2h-1M34 110h1v1h-1M35 27h1v2h-1M35 30h1v1h-1M35 109h1v2h-1M36 43h1v1h-1M36 110h1v2h-1M37 51h1v1h-1M37 109h1v2h-1M38 52h1v1h-1M38 110h1v3h-1M39 51h1v1h-1M39 108h1v1h-1M39 110h1v1h-1M40 109h1v1h-1M40 111h1v1h-1M41 51h1v1h-1M42 110h1v1h-1M43 109h1v2h-1M45 51h1v1h-1M45 109h1v2h-1M46 51h1v1h-1M46 110h1v2h-1M47 51h1v1h-1M47 110h1v1h-1M48 109h1v1h-1"/>
<path fill="#57f600" d="M1 76h1v1h-1M2 16h1v1h-1M2 76h1v1h-1M3 16h1v1h-1M3 76h1v1h-1M4 16h1v1h-1M4 75h1v2h-1M5 16h1v2h-1M6 17h1v1h-1M6 75h1v1h-1M7 17h1v1h-1M7 75h1v1h-1M9 16h1v2h-1M9 76h1v1h-1M10 17h1v1h-1M11 16h1v1h-1M11 76h1v2h-1M12 16h1v1h-1M12 76h1v1h-1M13 16h1v1h-1M13 76h1v2h-1M14 17h1v1h-1M14 75h1v2h-1M15 16h1v1h-1M15 76h1v1h-1M16 16h1v2h-1M16 76h1v1h-1M17 16h1v1h-1M17 75h1v1h-1M19 16h1v1h-1M19 75h1v1h-1M20 17h1v1h-1M20 75h1v1h-1M21 16h1v1h-1M21 76h1v1h-1M22 16h1v1h-1M22 76h1v1h-1M23 16h1v1h-1M23 77h1v2h-1M24 11h1v2h-1M24 91h1v1h-1M24 93h1v2h-1M25 0h1v3h-1M25 104h1v4h-1M26 0h1v1h-1M31 111h1v2h-1M32 111h1v1h-1M33 112h1v1h-1M34 111h1v2h-1M35 24h1v3h-1M35 112h1v1h-1M36 41h1v2h-1M37 111h1v2h-1M38 51h1v1h-1M38 113h1v1h-1M39 111h1v2h-1M40 50h1v1h-1M40 112h1v1h-1M41 111h1v2h-1M42 51h1v1h-1M42 111h1v2h-1M43 51h1v2h-1M43 112h1v1h-1M44 51h1v2h-1M44 110h1v1h-1M45 111h1v1h-1M46 112h1v1h-1M47 111h1v2h-1M48 51h1v1h-1M48 110h1v2h-1"/>
<path fill="#6df600" d="M0 16h1v1h-1M0 77h1v1h-1M1 16h1v1h-1M1 77h1v1h-1M2 15h1v1h-1M2 77h1v1h-1M3 15h1v1h-1M3 77h1v1h-1M4 77h1v1h-1M5 76h1v2h-1M6 16h1v1h-1M6 76h1v2h-1M7 16h1v1h-1M7 76h1v1h-1M8 16h1v1h-1M8 76h1v2h-1M9 77h1v2h-1M10 77h1v1h-1M12 77h1v1h-1M14 77h1v1h-1M15 77h1v1h-1M16 77h1v2h-1M17 76h1v2h-1M18 16h1v1h-1M18 77h1v1h-1M19 76h1v2h-1M20 16h1v1h-1M20 76h1v2h-1M21 77h1v2h-1M22 15h1v1h-1M22 77h1v1h-1M23 15h1v1h-1M24 10h1v1h-1M24 95h1v2h-1M25 108h1v3h-1M31 113h1v1h-1M32 113h1v2h-1M33 113h1v1h-1M34 113h1v1h-1M35 111h1v1h-1M35 113h1v2h-1M36 40h1v1h-1M36 112h1v2h-1M37 50h1v1h-1M37 113h1v1h-1M39 50h1v1h-1M39 113h1v1h-1M41 50h1v1h-1M41 113h1v1h-1M42 113h1v1h-1M43 111h1v1h-1M43 113h1v1h-1M44 111h1v3h-1M45 50h1v1h-1M45 112h1v1h-1M47 50h1v1h-1M47 113h1v2h-1M48 112h1v2h-1"/>
<path fill="#83f700" d="M0 78h1v1h-1M1 15h1v1h-1M1 78h1v1h-1M2 78h1v2h-1M3 78h1v1h-1M4 15h1v1h-1M5 15h1v1h-1M6 78h1v1h-1M7 77h1v1h-1M8 15h1v1h-1M8 78h1v1h-1M9 15h1v1h-1M10 16h1v1h-1M11 15h1v1h-1M11 78h1v1h-1M12 15h1v1h-1M12 78h1v1h-1M13 15h1v1h-1M13 78h1v1h-1M14 16h1v1h-1M14 78h1v1h-1M15 15h1v1h-1M15 78h1v1h-1M16 79h1v1h-1M18 15h1v1h-1M18 78h1v1h-1M19 15h1v1h-1M19 78h1v1h-1M20 78h1v1h-1M21 14h1v2h-1M22 78h1v1h-1M23 79h1v1h-1M24 9h1v1h-1M24 97h1v1h-1M24 99h1v1h-1M25 111h1v3h-1M31 114h1v1h-1M33 114h1v1h-1M34 114h1v1h-1M35 20h1v4h-1M36 114h1v2h-1M37 114h1v1h-1M38 50h1v1h-1M38 114h1v2h-1M39 114h1v1h-1M40 113h1v2h-1M41 49h1v1h-1M41 114h1v2h-1M42 50h1v1h-1M42 114h1v1h-1M44 50h1v1h-1M44 114h1v1h-1M45 113h1v1h-1M46 50h1v1h-1M46 113h1v2h-1M47 115h1v1h-1M48 50h1v1h-1M48 115h1v1h-1"/>
<path fill="#99f800" d="M0 15h1v1h-1M0 79h1v1h-1M1 79h1v1h-1M2 14h1v1h-1M3 14h1v1h-1M4 14h1v1h-1M4 78h1v1h-1M5 78h1v1h-1M6 15h1v1h-1M7 15h1v1h-1M7 78h1v1h-1M8 79h1v1h-1M9 79h1v2h-1M10 15h1v1h-1M10 78h1v2h-1M11 14h1v1h-1M11 79h1v1h-1M12 79h1v1h-1M13 79h1v2h-1M14 15h1v1h-1M15 14h1v1h-1M15 79h1v1h-1M16 15h1v1h-1M17 14h1v2h-1M17 78h1v2h-1M18 79h1v1h-1M19 14h1v1h-1M20 15h1v1h-1M21 79h1v1h-1M22 14h1v1h-1M23 14h1v1h-1M23 80h1v1h-1M24 8h1v1h-1M24 98h1v1h-1M25 114h1v4h-1M31 115h1v1h-1M32 115h1v1h-1M33 115h1v1h-1M34 115h1v2h-1M35 19h1v1h-1M35 115h1v1h-1M36 38h1v2h-1M37 49h1v1h-1M37 115h1v1h-1M38 49h1v1h-1M38 116h1v2h-1M39 49h1v1h-1M39 115h1v2h-1M40 49h1v1h-1M40 115h1v1h-1M42 49h1v1h-1M42 115h1v1h-1M43 50h1v1h-1M43 114h1v2h-1M44 115h1v1h-1M45 49h1v1h-1M45 114h1v2h-1M46 49h1v1h-1M46 115h1v1h-1M47 49h1v1h-1M48 49h1v1h-1M48 114h1v1h-1"/>
<path fill="#adf800" d="M0 14h1v1h-1M0 119h1v1h-1M1 14h1v1h-1M1 80h1v1h-1M1 119h1v1h-1M2 80h1v1h-1M2 119h1v1h-1M3 79h1v1h-1M3 119h1v1h-1M4 13h1v1h-1M4 79h1v1h-1M4 119h1v1h-1M5 14h1v1h-1M5 79h1v2h-1M5 119h1v1h-1M6 14h1v1h-1M6 79h1v2h-1M6 119h1v1h-1M7 14h1v1h-1M7 79h1v1h-1M7 119h1v1h-1M8 14h1v1h-1M8 119h1v1h-1M9 14h1v1h-1M9 119h1v1h-1M10 119h1v1h-1M11 119h1v1h-1M12 14h1v1h-1M12 119h1v1h-1M13 14h1v1h-1M13 119h1v1h-1M14 79h1v1h-1M14 119h1v1h-1M15 119h1v1h-1M16 14h1v1h-1M16 80h1v1h-1M16 119h1v1h-1M17 119h1v1h-1M18 14h1v1h-1M18 80h1v1h-1M18 119h1v1h-1M19 79h1v1h-1M19 119h1v1h-1M20 14h1v1h-1M20 79h1v1h-1M20 119h1v1h-1M21 80h1v1h-1M21 119h1v1h-1M22 13h1v1h-1M22 79h1v1h-1M22 119h1v1h-1M23 13h1v1h-1M23 81h1v1h-1M23 119h1v1h-1M24 7h1v1h-1M24 100h1v2h-1M24 119h1v1h-1M25 119h1v1h-1M31 116h1v2h-1M31 119h1v1h-1M32 116h1v2h-1M32 119h1v1h-1M33 116h1v1h-1M33 119h1v1h-1M34 117h1v1h-1M34 119h1v1h-1M35 17h1v2h-1M35 116h1v2h-1M35 119h1v1h-1M36 36h1v1h-1M36 116h1v2h-1M36 119h1v1h-1M37 48h1v1h-1M37 116h1v1h-1M37 119h1v1h-1M38 119h1v1h-1M39 119h1v1h-1M40 48h1v1h-1M40 116h1v2h-1M40 119h1v1h-1M41 48h1v1h-1M41 116h1v1h-1M41 119h1v1h-1M42 116h1v1h-1M42 119h1v1h-1M43 49h1v1h-1M43 116h1v2h-1M43 119h1v1h-1M44 49h1v1h-1M44 116h1v1h-1M44 119h1v1h-1M45 48h1v1h-1M45 119h1v1h-1M46 116h1v2h-1M46 119h1v1h-1M47 116h1v2h-1M47 119h1v1h-1M48 116h1v1h-1M48 119h1v1h-1"/>
<path fill="#bef900" d="M0 13h1v1h-1M0 80h1v2h-1M1 81h1v1h-1M2 13h1v1h-1M2 81h1v1h-1M3 13h1v1h-1M3 80h1v1h-1M4 80h1v1h-1M5 13h1v1h-1M6 13h1v1h-1M6 81h1v1h-1M7 80h1v1h-1M8 80h1v1h-1M9 13h1v1h-1M9 81h1v1h-1M10 14h1v1h-1M10 80h1v1h-1M11 13h1v1h-1M11 80h1v2h-1M12 13h1v1h-1M12 80h1v1h-1M13 13h1v1h-1M13 81h1v1h-1M14 14h1v1h-1M14 80h1v2h-1M15 12h1v2h-1M15 80h1v1h-1M16 13h1v1h-1M16 81h1v1h-1M17 13h1v1h-1M17 80h1v2h-1M18 13h1v1h-1M18 81h1v1h-1M19 13h1v1h-1M19 80h1v1h-1M20 13h1v1h-1M20 80h1v2h-1M21 13h1v1h-1M22 12h1v1h-1M22 80h1v1h-1M23 82h1v1h-1M24 5h1v2h-1M24 102h1v2h-1M33 117h1v1h-1M35 16h1v1h-1M36 37h1v1h-1M37 117h1v1h-1M38 48h1v1h-1M39 48h1v1h-1M39 117h1v1h-1M40 47h1v1h-1M41 47h1v1h-1M41 117h1v1h-1M42 48h1v1h-1M42 117h1v1h-1M44 117h1v1h-1M45 116h1v2h-1M46 48h1v1h-1M47 48h1v1h-1M48 48h1v1h-1M48 117h1v1h-1"/>
<path fill="#cffa00" d="M0 82h1v1h-1M1 13h1v1h-1M1 82h1v2h-1M2 12h1v1h-1M2 82h1v2h-1M3 12h1v1h-1M3 81h1v2h-1M4 12h1v1h-1M4 81h1v2h-1M5 12h1v1h-1M5 81h1v2h-1M7 13h1v1h-1M7 81h1v2h-1M8 13h1v1h-1M8 81h1v3h-1M9 12h1v1h-1M9 82h1v1h-1M10 13h1v1h-1M10 81h1v2h-1M11 12h1v1h-1M11 82h1v1h-1M12 12h1v1h-1M12 81h1v1h-1M13 82h1v1h-1M14 13h1v1h-1M14 82h1v1h-1M15 81h1v2h-1M16 82h1v1h-1M18 12h1v1h-1M18 82h1v2h-1M19 12h1v1h-1M19 81h1v2h-1M20 12h1v1h-1M20 82h1v1h-1M21 11h1v2h-1M21 81h1v3h-1M22 81h1v1h-1M23 12h1v1h-1M23 83h1v1h-1M24 4h1v1h-1M24 104h1v4h-1M35 13h1v3h-1M36 34h1v2h-1M38 47h1v1h-1M42 47h1v1h-1M43 48h1v1h-1M44 47h1v2h-1M45 47h1v1h-1M47 47h1v1h-1"/>
<path fill="#e0fb00" d="M0 12h1v1h-1M0 83h1v2h-1M1 12h1v1h-1M2 11h1v1h-1M2 84h1v2h-1M3 11h1v1h-1M3 83h1v1h-1M4 11h1v1h-1M4 83h1v1h-1M5 83h1v1h-1M5 86h1v1h-1M6 12h1v1h-1M6 82h1v2h-1M7 12h1v1h-1M7 84h1v1h-1M8 12h1v1h-1M9 11h1v1h-1M9 83h1v2h-1M10 12h1v1h-1M10 83h1v1h-1M11 11h1v1h-1M11 83h1v2h-1M12 11h1v1h-1M12 82h1v3h-1M13 12h1v1h-1M13 83h1v3h-1M14 12h1v1h-1M14 83h1v2h-1M15 11h1v1h-1M15 83h1v3h-1M16 12h1v1h-1M16 83h1v2h-1M17 12h1v1h-1M17 82h1v2h-1M18 84h1v1h-1M18 87h1v1h-1M19 83h1v1h-1M19 85h1v1h-1M20 83h1v1h-1M21 84h1v2h-1M22 11h1v1h-1M22 82h1v1h-1M23 84h1v3h-1M24 2h1v2h-1M24 108h1v4h-1M25 118h1v1h-1M35 11h1v2h-1M36 32h1v2h-1M37 46h1v2h-1M39 46h1v2h-1M40 46h1v1h-1M43 47h1v1h-1M45 46h1v1h-1M46 47h1v1h-1M48 46h1v2h-1"/>
<path fill="#f1fb00" d="M0 11h1v1h-1M0 85h1v3h-1M1 11h1v1h-1M1 84h1v3h-1M2 86h1v3h-1M3 10h1v1h-1M3 84h1v2h-1M4 10h1v1h-1M4 84h1v3h-1M5 11h1v1h-1M5 84h1v2h-1M5 87h1v1h-1M5 89h1v1h-1M6 11h1v1h-1M6 84h1v2h-1M7 11h1v1h-1M7 83h1v1h-1M7 85h1v1h-1M8 11h1v1h-1M8 84h1v2h-1M8 87h1v2h-1M9 85h1v2h-1M10 84h1v3h-1M11 85h1v1h-1M11 87h1v1h-1M12 85h1v2h-1M13 11h1v1h-1M13 86h1v1h-1M14 85h1v1h-1M14 87h1v1h-1M15 86h1v1h-1M16 11h1v1h-1M16 85h1v4h-1M17 84h1v3h-1M18 11h1v1h-1M18 85h1v2h-1M19 10h1v2h-1M19 84h1v1h-1M19 86h1v1h-1M20 84h1v4h-1M21 86h1v3h-1M22 10h1v1h-1M22 83h1v2h-1M22 86h1v3h-1M23 10h1v2h-1M23 87h1v2h-1M24 1h1v1h-1M24 112h1v5h-1M35 8h1v1h-1M35 10h1v1h-1M38 46h1v1h-1M41 46h1v1h-1M44 46h1v1h-1M47 46h1v1h-1M47 118h1v1h-1"/>
<path fill="#fffa00" d="M0 0h1v1h-1M0 88h1v2h-1M0 91h1v1h-1M1 0h1v1h-1M1 87h1v5h-1M2 0h1v1h-1M2 10h1v1h-1M2 89h1v1h-1M2 91h1v2h-1M3 0h1v1h-1M3 86h1v3h-1M4 0h1v1h-1M4 87h1v6h-1M5 10h1v1h-1M5 88h1v1h-1M5 90h1v1h-1M6 0h1v1h-1M6 86h1v4h-1M7 0h1v1h-1M7 86h1v1h-1M7 88h1v2h-1M7 91h1v1h-1M8 10h1v1h-1M8 86h1v1h-1M8 89h1v1h-1M8 91h1v1h-1M9 10h1v1h-1M9 87h1v5h-1M10 11h1v1h-1M10 87h1v2h-1M10 90h1v1h-1M11 0h1v1h-1M11 10h1v1h-1M11 86h1v1h-1M11 88h1v6h-1M12 9h1v2h-1M12 87h1v6h-1M13 10h1v1h-1M13 87h1v3h-1M13 91h1v2h-1M14 11h1v1h-1M14 86h1v1h-1M14 88h1v2h-1M15 10h1v1h-1M15 87h1v2h-1M15 90h1v2h-1M16 89h1v3h-1M16 93h1v1h-1M17 11h1v1h-1M17 87h1v5h-1M18 88h1v2h-1M18 91h1v2h-1M19 87h1v5h-1M20 0h1v1h-1M20 10h1v2h-1M20 88h1v3h-1M21 0h1v1h-1M21 10h1v1h-1M21 89h1v2h-1M22 0h1v1h-1M22 85h1v1h-1M22 89h1v3h-1M23 0h1v1h-1M23 9h1v1h-1M23 89h1v4h-1M24 0h1v1h-1M24 117h1v1h-1M31 118h1v1h-1M32 118h1v1h-1M34 118h1v1h-1M35 0h1v1h-1M35 7h1v1h-1M35 9h1v1h-1M36 31h1v1h-1M36 118h1v1h-1M37 45h1v1h-1M38 45h1v1h-1M38 118h1v1h-1M39 45h1v1h-1M39 118h1v1h-1M40 45h1v1h-1M40 118h1v1h-1M41 45h1v1h-1M41 118h1v1h-1M42 46h1v1h-1M43 46h1v1h-1M43 118h1v1h-1M44 118h1v1h-1M45 45h1v1h-1M45 118h1v1h-1M46 45h1v2h-1M46 118h1v1h-1M47 45h1v1h-1M48 45h1v1h-1"/>
<path fill="#fff000" d="M0 9h1v2h-1M0 90h1v1h-1M0 92h1v2h-1M1 9h1v2h-1M1 92h1v3h-1M2 8h1v2h-1M2 90h1v1h-1M2 93h1v2h-1M3 89h1v6h-1M4 9h1v1h-1M4 93h1v1h-1M5 0h1v1h-1M5 9h1v1h-1M5 91h1v3h-1M6 9h1v2h-1M6 90h1v4h-1M7 9h1v2h-1M7 87h1v1h-1M7 90h1v1h-1M7 92h1v2h-1M8 0h1v1h-1M8 9h1v1h-1M8 90h1v1h-1M8 92h1v2h-1M9 0h1v1h-1M9 9h1v1h-1M9 92h1v3h-1M10 0h1v1h-1M10 10h1v1h-1M10 89h1v1h-1M10 91h1v4h-1M11 9h1v1h-1M11 94h1v1h-1M12 0h1v1h-1M12 8h1v1h-1M12 93h1v1h-1M13 0h1v1h-1M13 9h1v1h-1M13 90h1v1h-1M13 93h1v2h-1M14 0h1v1h-1M14 10h1v1h-1M14 90h1v4h-1M15 0h1v1h-1M15 8h1v2h-1M15 89h1v1h-1M15 92h1v2h-1M16 0h1v1h-1M16 10h1v1h-1M16 92h1v1h-1M16 94h1v1h-1M17 0h1v1h-1M17 9h1v2h-1M17 92h1v1h-1M18 0h1v1h-1M18 10h1v1h-1M18 90h1v1h-1M18 93h1v1h-1M19 0h1v1h-1M19 92h1v2h-1M20 91h1v2h-1M20 94h1v1h-1M21 9h1v1h-1M21 91h1v4h-1M22 9h1v1h-1M22 92h1v2h-1M23 8h1v1h-1M23 93h1v2h-1M33 118h1v1h-1M35 4h1v3h-1M35 118h1v1h-1M36 29h1v2h-1M37 44h1v1h-1M37 118h1v1h-1M38 44h1v1h-1M40 43h1v2h-1M42 44h1v2h-1M42 118h1v1h-1M43 45h1v1h-1M44 44h1v2h-1M45 44h1v1h-1M47 44h1v1h-1M48 118h1v1h-1"/>
<path fill="#ffe500" d="M0 8h1v1h-1M0 94h1v2h-1M1 8h1v1h-1M1 95h1v1h-1M2 95h1v1h-1M3 8h1v2h-1M4 8h1v1h-1M5 8h1v1h-1M5 94h1v1h-1M6 8h1v1h-1M6 94h1v1h-1M7 8h1v1h-1M7 94h1v1h-1M8 8h1v1h-1M8 94h1v1h-1M9 8h1v1h-1M9 95h1v1h-1M11 8h1v1h-1M12 94h1v1h-1M13 8h1v1h-1M13 95h1v1h-1M14 9h1v1h-1M14 94h1v1h-1M15 94h1v2h-1M16 8h1v2h-1M16 95h1v1h-1M17 7h1v2h-1M17 93h1v2h-1M18 8h1v2h-1M18 94h1v2h-1M19 7h1v3h-1M19 94h1v1h-1M20 8h1v2h-1M20 93h1v1h-1M21 7h1v2h-1M21 95h1v1h-1M22 7h1v2h-1M22 94h1v1h-1M23 95h1v2h-1M35 1h1v3h-1M36 27h1v2h-1M37 43h1v1h-1M38 43h1v1h-1M39 43h1v2h-1M41 43h1v2h-1M42 43h1v1h-1M43 44h1v1h-1M46 43h1v2h-1M48 44h1v1h-1"/>
<path fill="#ffda00" d="M1 7h1v1h-1M2 7h1v1h-1M2 96h1v1h-1M3 7h1v1h-1M3 95h1v1h-1M4 7h1v1h-1M4 94h1v1h-1M5 7h1v1h-1M6 95h1v1h-1M7 7h1v1h-1M8 7h1v1h-1M8 95h1v1h-1M9 6h1v2h-1M10 8h1v2h-1M10 95h1v1h-1M11 7h1v1h-1M11 95h1v1h-1M12 7h1v1h-1M12 95h1v1h-1M13 7h1v1h-1M13 96h1v1h-1M14 8h1v1h-1M15 6h1v2h-1M16 7h1v1h-1M17 95h1v1h-1M18 7h1v1h-1M18 96h1v1h-1M19 6h1v1h-1M20 6h1v2h-1M20 95h1v1h-1M21 6h1v1h-1M21 96h1v1h-1M22 6h1v1h-1M22 95h1v1h-1M23 7h1v1h-1M36 0h1v1h-1M36 23h1v4h-1M37 42h1v1h-1M38 42h1v1h-1M39 42h1v1h-1M40 42h1v1h-1M41 42h1v1h-1M43 43h1v1h-1M44 43h1v1h-1M45 42h1v2h-1M47 43h1v1h-1M48 43h1v1h-1"/>
<path fill="#ffd000" d="M0 6h1v2h-1M0 96h1v1h-1M1 6h1v1h-1M1 96h1v1h-1M2 5h1v2h-1M3 6h1v1h-1M4 5h1v2h-1M4 95h1v1h-1M5 5h1v2h-1M5 95h1v1h-1M6 7h1v1h-1M7 6h1v1h-1M7 95h1v1h-1M8 6h1v1h-1M9 96h1v1h-1M10 7h1v1h-1M11 6h1v1h-1M11 96h1v1h-1M12 5h1v2h-1M13 6h1v1h-1M14 6h1v1h-1M14 95h1v1h-1M15 5h1v1h-1M16 96h1v1h-1M17 6h1v1h-1M18 6h1v1h-1M19 95h1v1h-1M23 5h1v2h-1M23 97h1v1h-1M24 118h1v1h-1M37 41h1v1h-1M40 41h1v1h-1M41 41h1v1h-1M42 42h1v1h-1M43 42h1v1h-1M44 42h1v1h-1M45 41h1v1h-1M46 41h1v2h-1M47 41h1v2h-1M48 41h1v2h-1"/>
<path fill="#ffc400" d="M0 5h1v1h-1M0 97h1v1h-1M0 118h1v1h-1M1 5h1v1h-1M1 118h1v1h-1M2 4h1v1h-1M2 97h1v1h-1M2 118h1v1h-1M3 5h1v1h-1M3 96h1v1h-1M3 118h1v1h-1M4 96h1v1h-1M4 118h1v1h-1M5 96h1v1h-1M5 118h1v1h-1M6 4h1v3h-1M6 96h1v1h-1M6 118h1v1h-1M7 5h1v1h-1M7 118h1v1h-1M8 5h1v1h-1M8 96h1v2h-1M8 118h1v1h-1M9 5h1v1h-1M9 118h1v1h-1M10 6h1v1h-1M10 96h1v1h-1M10 118h1v1h-1M11 5h1v1h-1M11 118h1v1h-1M12 4h1v1h-1M12 96h1v1h-1M12 118h1v1h-1M13 5h1v1h-1M13 97h1v1h-1M13 118h1v1h-1M14 7h1v1h-1M14 96h1v1h-1M14 118h1v1h-1M15 96h1v1h-1M15 118h1v1h-1M16 5h1v2h-1M16 118h1v1h-1M17 5h1v1h-1M17 118h1v1h-1M18 5h1v1h-1M18 97h1v1h-1M18 118h1v1h-1M19 4h1v2h-1M19 96h1v1h-1M19 118h1v1h-1M20 96h1v1h-1M20 118h1v1h-1M21 3h1v3h-1M21 97h1v1h-1M21 118h1v1h-1M22 4h1v2h-1M22 96h1v1h-1M22 118h1v1h-1M23 118h1v1h-1M36 19h1v4h-1M38 41h1v1h-1M39 40h1v2h-1M40 39h1v2h-1M41 40h1v1h-1M42 41h1v1h-1M43 41h1v1h-1M44 40h1v2h-1M45 40h1v1h-1M46 40h1v1h-1M47 40h1v1h-1M48 40h1v1h-1"/>
<path fill="#ffb700" d="M0 4h1v1h-1M0 98h1v1h-1M1 3h1v2h-1M1 97h1v1h-1M2 2h1v2h-1M2 98h1v1h-1M3 3h1v2h-1M4 2h1v3h-1M4 97h1v1h-1M5 4h1v1h-1M6 2h1v1h-1M6 97h1v1h-1M7 4h1v1h-1M7 96h1v1h-1M8 3h1v2h-1M9 3h1v2h-1M9 97h1v1h-1M10 4h1v2h-1M10 97h1v1h-1M11 2h1v3h-1M11 97h1v1h-1M12 2h1v2h-1M12 97h1v1h-1M13 3h1v2h-1M13 98h1v1h-1M14 4h1v2h-1M15 3h1v2h-1M15 97h1v1h-1M16 3h1v2h-1M16 97h1v1h-1M17 4h1v1h-1M17 96h1v2h-1M18 3h1v2h-1M18 98h1v1h-1M19 3h1v1h-1M19 97h1v1h-1M20 2h1v4h-1M20 97h1v1h-1M21 2h1v1h-1M22 2h1v1h-1M22 97h1v1h-1M23 3h1v2h-1M23 98h1v1h-1M36 16h1v3h-1M37 38h1v3h-1M38 39h1v2h-1M39 39h1v1h-1M41 39h1v1h-1M42 38h1v3h-1M43 40h1v1h-1M44 38h1v2h-1M45 39h1v1h-1M46 39h1v1h-1M47 38h1v2h-1M48 38h1v1h-1"/>
<path fill="#ffab00" d="M0 2h1v2h-1M1 2h1v1h-1M1 98h1v1h-1M1 100h1v1h-1M2 99h1v1h-1M3 1h1v2h-1M3 97h1v2h-1M4 1h1v1h-1M5 2h1v2h-1M5 97h1v2h-1M6 3h1v1h-1M6 98h1v2h-1M7 3h1v1h-1M7 97h1v1h-1M8 1h1v2h-1M8 98h1v1h-1M9 1h1v2h-1M9 98h1v2h-1M10 2h1v2h-1M10 98h1v1h-1M11 1h1v1h-1M11 98h1v2h-1M12 98h1v1h-1M13 1h1v2h-1M13 99h1v1h-1M14 2h1v2h-1M14 97h1v2h-1M15 1h1v2h-1M15 98h1v2h-1M16 2h1v1h-1M16 98h1v3h-1M17 2h1v2h-1M17 98h1v1h-1M18 2h1v1h-1M18 99h1v1h-1M19 2h1v1h-1M19 98h1v1h-1M19 100h1v1h-1M20 1h1v1h-1M20 98h1v2h-1M21 1h1v1h-1M21 98h1v2h-1M21 101h1v1h-1M22 1h1v1h-1M22 3h1v1h-1M22 98h1v1h-1M22 101h1v2h-1M23 2h1v1h-1M23 99h1v1h-1M23 101h1v1h-1M36 15h1v1h-1M38 38h1v1h-1M39 38h1v1h-1M40 37h1v2h-1M41 37h1v2h-1M42 37h1v1h-1M43 37h1v3h-1M45 38h1v1h-1M46 38h1v1h-1M47 37h1v1h-1M48 39h1v1h-1"/>
<path fill="#ff9e00" d="M0 1h1v1h-1M0 99h1v2h-1M0 102h1v2h-1M1 1h1v1h-1M1 99h1v1h-1M1 101h1v3h-1M1 105h1v2h-1M2 1h1v1h-1M2 100h1v7h-1M3 99h1v4h-1M3 104h1v2h-1M4 98h1v5h-1M4 105h1v1h-1M5 1h1v1h-1M5 99h1v2h-1M5 103h1v1h-1M6 1h1v1h-1M6 101h1v3h-1M7 1h1v2h-1M7 98h1v4h-1M7 103h1v2h-1M7 106h1v1h-1M8 99h1v6h-1M8 106h1v1h-1M9 100h1v4h-1M9 105h1v3h-1M9 109h1v2h-1M10 1h1v1h-1M10 99h1v4h-1M10 104h1v1h-1M11 100h1v5h-1M12 1h1v1h-1M12 99h1v1h-1M12 101h1v3h-1M13 100h1v5h-1M14 1h1v1h-1M14 99h1v1h-1M14 101h1v2h-1M15 100h1v7h-1M16 1h1v1h-1M16 101h1v4h-1M16 107h1v1h-1M17 1h1v1h-1M17 99h1v5h-1M18 1h1v1h-1M18 100h1v4h-1M18 105h1v1h-1M19 1h1v1h-1M19 99h1v1h-1M19 102h1v2h-1M19 105h1v2h-1M20 100h1v2h-1M20 103h1v1h-1M20 105h1v1h-1M21 100h1v1h-1M21 102h1v3h-1M21 106h1v1h-1M22 99h1v2h-1M22 103h1v2h-1M23 1h1v1h-1M23 100h1v1h-1M23 102h1v2h-1M23 107h1v2h-1M36 11h1v4h-1M37 35h1v3h-1M38 35h1v3h-1M39 37h1v1h-1M40 34h1v3h-1M41 35h1v2h-1M42 36h1v1h-1M44 37h1v1h-1M45 36h1v2h-1M46 36h1v2h-1M47 35h1v2h-1M48 36h1v2h-1"/>
<path fill="#ff9201" d="M0 101h1v1h-1M0 104h1v6h-1M0 112h1v4h-1M0 117h1v1h-1M1 104h1v1h-1M1 107h1v6h-1M1 114h1v1h-1M1 116h1v1h-1M2 108h1v2h-1M2 111h1v2h-1M2 115h1v2h-1M3 103h1v1h-1M3 106h1v3h-1M3 110h1v3h-1M3 114h1v1h-1M3 116h1v1h-1M4 103h1v2h-1M4 106h1v7h-1M4 114h1v1h-1M5 101h1v2h-1M5 104h1v8h-1M5 113h1v2h-1M5 116h1v1h-1M6 100h1v1h-1M6 104h1v12h-1M7 102h1v1h-1M7 105h1v1h-1M7 107h1v7h-1M7 115h1v1h-1M8 105h1v1h-1M8 107h1v1h-1M8 109h1v6h-1M8 117h1v1h-1M9 104h1v1h-1M9 108h1v1h-1M9 112h1v3h-1M10 103h1v1h-1M10 105h1v8h-1M10 114h1v2h-1M11 105h1v7h-1M11 113h1v3h-1M12 100h1v1h-1M12 104h1v6h-1M12 111h1v2h-1M12 115h1v1h-1M12 117h1v1h-1M13 105h1v10h-1M13 116h1v1h-1M14 100h1v1h-1M14 103h1v3h-1M14 107h1v9h-1M14 117h1v1h-1M15 107h1v3h-1M15 111h1v2h-1M15 114h1v1h-1M16 105h1v2h-1M16 109h1v4h-1M16 115h1v2h-1M17 104h1v4h-1M17 109h1v4h-1M18 104h1v1h-1M18 106h1v4h-1M18 111h1v2h-1M18 115h1v2h-1M19 101h1v1h-1M19 108h1v5h-1M20 102h1v1h-1M20 104h1v1h-1M20 106h1v4h-1M20 111h1v2h-1M21 105h1v1h-1M21 107h1v3h-1M21 111h1v1h-1M21 113h1v1h-1M21 115h1v2h-1M22 105h1v8h-1M22 114h1v1h-1M22 116h1v1h-1M23 104h1v3h-1M23 109h1v3h-1M23 113h1v5h-1M36 9h1v2h-1M37 34h1v1h-1M39 34h1v3h-1M41 34h1v1h-1M42 0h1v1h-1M42 34h1v2h-1M43 35h1v2h-1M44 35h1v2h-1M45 34h1v2h-1M46 34h1v2h-1M48 34h1v2h-1"/>
<path fill="#ff8504" d="M0 110h1v2h-1M0 116h1v1h-1M1 113h1v1h-1M1 115h1v1h-1M1 117h1v1h-1M2 107h1v1h-1M2 110h1v1h-1M2 113h1v2h-1M2 117h1v1h-1M3 109h1v1h-1M3 113h1v1h-1M3 115h1v1h-1M3 117h1v1h-1M4 113h1v1h-1M4 115h1v3h-1M5 112h1v1h-1M5 115h1v1h-1M5 117h1v1h-1M6 116h1v2h-1M7 114h1v1h-1M7 116h1v2h-1M8 108h1v1h-1M8 115h1v2h-1M9 111h1v1h-1M9 115h1v3h-1M10 113h1v1h-1M10 116h1v2h-1M11 112h1v1h-1M11 116h1v2h-1M12 110h1v1h-1M12 113h1v2h-1M12 116h1v1h-1M13 115h1v1h-1M13 117h1v1h-1M14 106h1v1h-1M14 116h1v1h-1M15 110h1v1h-1M15 113h1v1h-1M15 115h1v3h-1M16 108h1v1h-1M16 113h1v2h-1M16 117h1v1h-1M17 108h1v1h-1M17 113h1v5h-1M18 110h1v1h-1M18 113h1v2h-1M18 117h1v1h-1M19 104h1v1h-1M19 107h1v1h-1M19 113h1v5h-1M20 110h1v1h-1M20 113h1v5h-1M21 110h1v1h-1M21 112h1v1h-1M21 114h1v1h-1M21 117h1v1h-1M22 113h1v1h-1M22 115h1v1h-1M22 117h1v1h-1M23 112h1v1h-1M36 4h1v1h-1M36 6h1v3h-1M37 0h1v1h-1M37 33h1v1h-1M38 0h1v1h-1M38 32h1v1h-1M38 34h1v1h-1M39 0h1v1h-1M39 32h1v2h-1M40 31h1v3h-1M41 0h1v1h-1M41 31h1v3h-1M42 33h1v1h-1M43 0h1v1h-1M43 33h1v2h-1M44 32h1v3h-1M45 0h1v1h-1M45 33h1v1h-1M47 32h1v3h-1M48 0h1v1h-1M48 32h1v2h-1"/>
<path fill="#ff7807" d="M36 1h1v3h-1M36 5h1v1h-1M37 30h1v3h-1M38 31h1v1h-1M38 33h1v1h-1M39 30h1v2h-1M40 0h1v1h-1M40 29h1v2h-1M41 29h1v2h-1M42 30h1v3h-1M43 31h1v2h-1M44 0h1v1h-1M44 31h1v1h-1M45 31h1v2h-1M46 0h1v1h-1M46 30h1v4h-1M47 0h1v1h-1M47 30h1v2h-1M48 30h1v2h-1"/>
<path fill="#ff6b0a" d="M37 28h1v2h-1M38 28h1v3h-1M39 29h1v1h-1M40 28h1v1h-1M42 29h1v1h-1M43 29h1v2h-1M44 29h1v2h-1M45 26h1v1h-1M45 28h1v3h-1M46 28h1v2h-1M47 28h1v2h-1M48 29h1v1h-1"/>
<path fill="#ff5e0d" d="M37 26h1v2h-1M38 27h1v1h-1M39 24h1v2h-1M39 27h1v2h-1M40 26h1v2h-1M41 25h1v2h-1M41 28h1v1h-1M42 26h1v3h-1M43 27h1v2h-1M44 27h1v2h-1M45 27h1v1h-1M46 27h1v1h-1M47 26h1v2h-1M48 26h1v3h-1"/>
<path fill="#fe520f" d="M37 23h1v3h-1M38 23h1v4h-1M39 26h1v1h-1M40 22h1v1h-1M40 24h1v1h-1M41 24h1v1h-1M41 27h1v1h-1M42 23h1v3h-1M43 24h1v3h-1M44 23h1v4h-1M45 24h1v2h-1M46 24h1v3h-1M47 23h1v3h-1M48 25h1v1h-1"/>
<path fill="#fc4a11" d="M37 19h1v1h-1M37 21h1v2h-1M38 20h1v1h-1M39 18h1v1h-1M39 23h1v1h-1M40 20h1v2h-1M40 23h1v1h-1M40 25h1v1h-1M41 16h1v1h-1M41 20h1v4h-1M42 22h1v1h-1M43 15h1v1h-1M43 20h1v4h-1M44 21h1v2h-1M45 20h1v4h-1M46 16h1v1h-1M46 18h1v1h-1M46 20h1v4h-1M47 20h1v3h-1M48 21h1v1h-1M48 23h1v2h-1"/>
<path fill="#fa4113" d="M37 11h1v1h-1M37 13h1v6h-1M37 20h1v1h-1M38 9h1v1h-1M38 13h1v7h-1M38 21h1v2h-1M39 14h1v4h-1M39 19h1v4h-1M40 13h1v7h-1M41 12h1v2h-1M41 15h1v1h-1M41 17h1v3h-1M42 13h1v9h-1M43 13h1v2h-1M43 16h1v4h-1M44 14h1v7h-1M45 11h1v2h-1M45 14h1v5h-1M46 12h1v2h-1M46 15h1v1h-1M46 17h1v1h-1M46 19h1v1h-1M47 11h1v1h-1M47 14h1v1h-1M47 16h1v4h-1M48 9h1v1h-1M48 13h1v8h-1M48 22h1v1h-1"/>
<path fill="#f73814" d="M37 3h1v4h-1M37 8h1v3h-1M37 12h1v1h-1M38 2h1v1h-1M38 6h1v1h-1M38 8h1v1h-1M38 10h1v3h-1M39 4h1v2h-1M39 7h1v3h-1M39 11h1v3h-1M40 5h1v8h-1M41 5h1v1h-1M41 7h1v4h-1M41 14h1v1h-1M42 5h1v8h-1M43 7h1v1h-1M43 9h1v1h-1M43 11h1v2h-1M44 5h1v1h-1M44 8h1v6h-1M45 1h1v1h-1M45 4h1v4h-1M45 9h1v2h-1M45 13h1v1h-1M45 19h1v1h-1M46 5h1v2h-1M46 8h1v4h-1M46 14h1v1h-1M47 5h1v1h-1M47 7h1v4h-1M47 12h1v2h-1M47 15h1v1h-1M48 3h1v1h-1M48 7h1v2h-1M48 11h1v2h-1"/>
<path fill="#f52f16" d="M37 1h1v2h-1M37 7h1v1h-1M38 1h1v1h-1M38 3h1v3h-1M38 7h1v1h-1M39 1h1v3h-1M39 6h1v1h-1M39 10h1v1h-1M40 1h1v4h-1M41 1h1v4h-1M41 6h1v1h-1M41 11h1v1h-1M42 1h1v4h-1M43 1h1v6h-1M43 8h1v1h-1M43 10h1v1h-1M44 1h1v4h-1M44 6h1v2h-1M45 2h1v2h-1M45 8h1v1h-1M46 1h1v4h-1M46 7h1v1h-1M47 1h1v4h-1M47 6h1v1h-1M48 1h1v2h-1M48 4h1v3h-1M48 10h1v1h-1"/>
</g>
<g fill="#ff0a0a"><circle cx="1075.3" cy="109.7" r="3.5"/><circle cx="1084.3" cy="109.5" r="3.5"/><circle cx="1093.3" cy="107.3" r="3.5"/><circle cx="1102.3" cy="107.7" r="3.5"/><circle cx="1111.3" cy="107.4" r="3.5"/><circle cx="1120.3" cy="108.8" r="3.5"/><circle cx="1129.3" cy="110.5" r="3.5"/><circle cx="1138.3" cy="110.4" r="3.5"/><circle cx="1147.3" cy="109.5" r="3.5"/><circle cx="1156.3" cy="108.3" r="3.5"/><circle cx="1165.4" cy="111.0" r="3.5"/><circle cx="1174.4" cy="107.9" r="3.5"/><circle cx="1183.4" cy="108.0" r="3.5"/><circle cx="1192.4" cy="109.0" r="3.5"/><circle cx="1201.4" cy="111.0" r="3.5"/><circle cx="1210.4" cy="107.9" r="3.5"/><circle cx="1219.4" cy="109.4" r="3.5"/><circle cx="1228.4" cy="108.4" r="3.5"/><circle cx="1237.4" cy="108.8" r="3.5"/><circle cx="1246.4" cy="108.2" r="3.5"/><circle cx="1255.4" cy="109.4" r="3.5"/><circle cx="1264.4" cy="107.3" r="3.5"/><circle cx="1273.4" cy="107.3" r="3.5"/><circle cx="1282.4" cy="107.4" r="3.5"/><circle cx="1291.4" cy="108.6" r="3.5"/><circle cx="1390.5" cy="177.2" r="3.5"/><circle cx="1399.5" cy="200.4" r="3.5"/><circle cx="1408.5" cy="210.9" r="3.5"/><circle cx="1417.5" cy="210.7" r="3.5"/><circle cx="1426.5" cy="210.3" r="3.5"/><circle cx="1435.5" cy="210.6" r="3.5"/><circle cx="1444.5" cy="210.4" r="3.5"/><circle cx="1453.5" cy="210.7" r="3.5"/><circle cx="1462.5" cy="210.2" r="3.5"/><circle cx="1471.5" cy="209.1" r="3.5"/><circle cx="1480.5" cy="209.2" r="3.5"/><circle cx="1489.5" cy="208.5" r="3.5"/><circle cx="1498.5" cy="210.5" r="3.5"/><circle cx="1507.5" cy="211.6" r="3.5"/></g>
<g fill="#000"><circle cx="1075.3" cy="231.7" r="3.5"/><circle cx="1084.3" cy="231.5" r="3.5"/><circle cx="1093.3" cy="231.9" r="3.5"/><circle cx="1102.3" cy="229.4" r="3.5"/><circle cx="1111.3" cy="229.8" r="3.5"/><circle cx="1120.3" cy="229.8" r="3.5"/><circle cx="1129.3" cy="229.7" r="3.5"/><circle cx="1138.3" cy="229.0" r="3.5"/><circle cx="1147.3" cy="230.2" r="3.5"/><circle cx="1156.3" cy="231.7" r="3.5"/><circle cx="1165.4" cy="230.0" r="3.5"/><circle cx="1174.4" cy="231.9" r="3.5"/><circle cx="1183.4" cy="230.5" r="3.5"/><circle cx="1192.4" cy="232.3" r="3.5"/><circle cx="1201.4" cy="229.6" r="3.5"/><circle cx="1210.4" cy="231.0" r="3.5"/><circle cx="1219.4" cy="231.9" r="3.5"/><circle cx="1228.4" cy="229.3" r="3.5"/><circle cx="1237.4" cy="232.6" r="3.5"/><circle cx="1246.4" cy="229.3" r="3.5"/><circle cx="1255.4" cy="230.0" r="3.5"/><circle cx="1264.4" cy="232.4" r="3.5"/><circle cx="1273.4" cy="229.9" r="3.5"/><circle cx="1282.4" cy="234.4" r="3.5"/><circle cx="1291.4" cy="236.4" r="3.5"/><circle cx="1354.5" cy="324.8" r="3.5"/><circle cx="1363.5" cy="326.3" r="3.5"/><circle cx="1372.5" cy="327.0" r="3.5"/><circle cx="1381.5" cy="325.8" r="3.5"/><circle cx="1390.5" cy="322.6" r="3.5"/><circle cx="1399.5" cy="324.6" r="3.5"/><circle cx="1408.5" cy="323.9" r="3.5"/><circle cx="1417.5" cy="327.9" r="3.5"/><circle cx="1426.5" cy="325.0" r="3.5"/><circle cx="1435.5" cy="324.0" r="3.5"/><circle cx="1444.5" cy="323.1" r="3.5"/><circle cx="1453.5" cy="323.7" r="3.5"/><circle cx="1462.5" cy="327.9" r="3.5"/><circle cx="1471.5" cy="322.3" r="3.5"/><circle cx="1480.5" cy="328.1" r="3.5"/><circle cx="1489.5" cy="323.6" r="3.5"/><circle cx="1498.5" cy="325.4" r="3.5"/><circle cx="1507.5" cy="322.7" r="3.5"/></g>
<g transform="translate(1534.90 40.00) scale(16.9500 2.9608)" shape-rendering="crispEdges">
<path fill="#1753ed" d="M1 78h1v1h-1M2 69h1v1h-1M2 83h1v1h-1M4 61h1v1h-1"/>
<path fill="#125ef0" d="M1 85h1v1h-1M1 88h1v1h-1M4 77h1v1h-1M6 83h1v1h-1M7 85h1v1h-1"/>
<path fill="#0d69f3" d="M0 86h1v1h-1M1 61h1v1h-1M1 69h1v1h-1M3 74h1v1h-1M4 92h1v1h-1M6 62h1v1h-1M6 77h1v1h-1M7 83h1v1h-1M8 89h1v1h-1M10 91h1v1h-1M11 85h1v1h-1M11 88h1v1h-1M12 83h1v1h-1"/>
<path fill="#0973f5" d="M0 61h1v1h-1M0 77h1v1h-1M0 91h1v1h-1M1 81h1v1h-1M2 92h1v1h-1M3 66h1v1h-1M3 78h1v1h-1M3 83h1v1h-1M3 91h1v1h-1M5 74h1v1h-1M5 90h1v1h-1M6 67h1v1h-1M7 73h1v1h-1M8 92h1v1h-1M10 87h1v1h-1M11 83h1v1h-1M11 87h1v1h-1M12 65h1v1h-1M12 68h1v1h-1M12 74h1v1h-1M12 88h1v1h-1M12 91h1v2h-1"/>
<path fill="#057ef7" d="M1 76h1v1h-1M1 89h1v1h-1M2 64h1v1h-1M3 63h1v1h-1M3 68h1v1h-1M3 75h1v1h-1M3 88h1v1h-1M4 64h1v1h-1M4 78h1v2h-1M4 83h1v1h-1M4 90h1v1h-1M5 61h1v1h-1M5 63h1v1h-1M5 75h1v2h-1M5 78h1v1h-1M5 91h1v1h-1M6 64h1v1h-1M6 78h1v1h-1M6 85h1v1h-1M6 92h1v1h-1M7 62h1v1h-1M7 75h1v1h-1M8 64h1v1h-1M8 77h1v1h-1M8 83h1v1h-1M9 64h1v1h-1M9 76h1v1h-1M9 91h1v1h-1M10 78h1v1h-1M10 83h1v1h-1M10 92h1v1h-1M11 61h1v1h-1M11 79h1v1h-1M11 91h1v1h-1M12 61h1v1h-1M12 64h1v1h-1M12 67h1v1h-1M12 75h1v1h-1M12 78h1v1h-1M12 81h1v1h-1"/>
<path fill="#0188f9" d="M0 59h1v1h-1M0 62h1v1h-1M0 74h1v2h-1M0 84h1v1h-1M0 88h1v1h-1M0 90h1v1h-1M1 67h1v1h-1M1 77h1v1h-1M1 79h1v1h-1M1 87h1v1h-1M1 91h1v1h-1M2 59h1v1h-1M2 63h1v1h-1M2 68h1v1h-1M2 71h1v1h-1M2 80h1v1h-1M2 88h1v1h-1M2 91h1v1h-1M3 90h1v1h-1M4 68h1v3h-1M4 75h1v2h-1M4 87h1v3h-1M4 91h1v1h-1M5 67h1v1h-1M5 83h1v1h-1M6 79h1v1h-1M6 88h1v2h-1M7 89h1v1h-1M8 67h1v1h-1M8 69h1v1h-1M8 73h1v1h-1M8 80h1v1h-1M8 84h1v1h-1M8 87h1v1h-1M9 61h1v1h-1M9 63h1v1h-1M9 69h1v1h-1M9 79h1v1h-1M9 90h1v1h-1M10 64h1v1h-1M10 67h1v1h-1M10 79h1v1h-1M10 85h1v1h-1M11 69h1v1h-1M11 76h1v2h-1M11 84h1v1h-1M11 89h1v1h-1M12 66h1v1h-1M12 85h1v1h-1M12 87h1v1h-1"/>
<path fill="#0095fb" d="M0 63h1v1h-1M0 70h1v1h-1M0 78h1v1h-1M0 80h1v2h-1M1 73h1v2h-1M1 83h1v1h-1M2 74h1v1h-1M2 78h1v1h-1M2 81h1v1h-1M2 84h1v2h-1M2 89h1v1h-1M3 61h1v1h-1M3 64h1v1h-1M3 70h1v1h-1M3 72h1v1h-1M3 84h1v1h-1M3 89h1v1h-1M4 72h1v1h-1M4 84h1v2h-1M5 62h1v1h-1M5 64h1v1h-1M5 70h1v1h-1M5 72h1v1h-1M5 77h1v1h-1M5 80h1v1h-1M5 84h1v1h-1M6 66h1v1h-1M6 69h1v1h-1M6 73h1v2h-1M6 82h1v1h-1M6 87h1v1h-1M7 68h1v1h-1M7 70h1v1h-1M7 79h1v1h-1M7 81h1v1h-1M7 84h1v1h-1M7 93h1v1h-1M8 61h1v1h-1M8 78h1v1h-1M8 91h1v1h-1M9 68h1v1h-1M9 72h1v1h-1M9 75h1v1h-1M9 77h1v1h-1M9 81h1v1h-1M9 83h1v3h-1M9 88h1v1h-1M9 94h1v1h-1M10 61h1v2h-1M10 68h1v1h-1M10 71h1v1h-1M10 76h1v1h-1M11 62h1v2h-1M11 70h1v1h-1M11 73h1v1h-1M11 75h1v1h-1M11 86h1v1h-1M12 76h1v2h-1M12 79h1v1h-1M12 89h1v1h-1M12 93h1v1h-1M12 95h1v1h-1"/>
<path fill="#00a2fc" d="M0 64h1v1h-1M0 68h1v2h-1M0 71h1v1h-1M0 73h1v1h-1M0 76h1v1h-1M0 79h1v1h-1M0 89h1v1h-1M0 92h1v1h-1M1 64h1v2h-1M1 68h1v1h-1M1 92h1v1h-1M2 65h1v1h-1M2 70h1v1h-1M2 76h1v1h-1M2 90h1v1h-1M3 67h1v1h-1M3 69h1v1h-1M3 76h1v1h-1M3 81h1v1h-1M3 92h1v1h-1M4 63h1v1h-1M4 81h1v1h-1M5 68h1v2h-1M5 73h1v1h-1M5 79h1v1h-1M5 87h1v1h-1M5 89h1v1h-1M5 92h1v1h-1M6 63h1v1h-1M6 65h1v1h-1M6 71h1v1h-1M6 81h1v1h-1M6 90h1v1h-1M7 60h1v1h-1M7 66h1v1h-1M7 71h1v2h-1M7 74h1v1h-1M7 77h1v1h-1M7 80h1v1h-1M7 87h1v1h-1M7 91h1v2h-1M8 71h1v1h-1M8 74h1v1h-1M8 76h1v1h-1M8 85h1v1h-1M8 88h1v1h-1M8 90h1v1h-1M8 93h1v1h-1M9 82h1v1h-1M9 92h1v1h-1M10 80h1v2h-1M10 84h1v1h-1M10 88h1v2h-1M11 64h1v2h-1M11 67h1v1h-1M11 72h1v1h-1M11 92h1v1h-1M12 63h1v1h-1M12 70h1v1h-1M12 84h1v1h-1"/>
<path fill="#00affe" d="M0 67h1v1h-1M0 72h1v1h-1M1 60h1v1h-1M1 62h1v1h-1M1 66h1v1h-1M1 70h1v1h-1M1 80h1v1h-1M1 82h1v1h-1M1 90h1v1h-1M1 93h1v1h-1M2 66h1v1h-1M2 75h1v1h-1M2 86h1v1h-1M2 94h1v1h-1M3 62h1v1h-1M3 71h1v1h-1M3 73h1v1h-1M3 77h1v1h-1M3 79h1v2h-1M3 93h1v1h-1M4 62h1v1h-1M4 66h1v2h-1M4 73h1v2h-1M4 80h1v1h-1M4 86h1v1h-1M5 66h1v1h-1M5 82h1v1h-1M5 86h1v1h-1M5 93h1v1h-1M6 68h1v1h-1M6 76h1v1h-1M6 93h1v1h-1M7 61h1v1h-1M7 64h1v2h-1M7 67h1v1h-1M7 69h1v1h-1M7 78h1v1h-1M7 86h1v1h-1M7 94h1v1h-1M8 60h1v1h-1M8 65h1v1h-1M8 79h1v1h-1M8 81h1v2h-1M9 66h1v1h-1M9 70h1v1h-1M9 74h1v1h-1M9 93h1v1h-1M10 66h1v1h-1M10 69h1v1h-1M10 72h1v2h-1M10 75h1v1h-1M10 77h1v1h-1M10 82h1v1h-1M10 90h1v1h-1M10 93h1v1h-1M11 66h1v1h-1M11 74h1v1h-1M11 78h1v1h-1M11 81h1v2h-1M11 90h1v1h-1M12 73h1v1h-1M12 80h1v1h-1M12 90h1v1h-1"/>
<path fill="#00bcff" d="M0 58h1v1h-1M0 66h1v1h-1M0 85h1v1h-1M0 87h1v1h-1M1 58h1v1h-1M1 75h1v1h-1M1 86h1v1h-1M2 58h1v1h-1M2 61h1v2h-1M2 67h1v1h-1M2 77h1v1h-1M2 82h1v1h-1M2 93h1v1h-1M3 82h1v1h-1M3 85h1v3h-1M4 65h1v1h-1M4 82h1v1h-1M5 65h1v1h-1M5 81h1v1h-1M5 85h1v1h-1M6 61h1v1h-1M6 70h1v1h-1M6 72h1v1h-1M6 75h1v1h-1M6 84h1v1h-1M6 86h1v1h-1M6 91h1v1h-1M6 94h1v2h-1M7 76h1v1h-1M7 88h1v1h-1M7 90h1v1h-1M8 63h1v1h-1M8 75h1v1h-1M8 94h1v1h-1M9 67h1v1h-1M9 71h1v1h-1M9 73h1v1h-1M9 86h1v2h-1M9 89h1v1h-1M10 74h1v1h-1M10 86h1v1h-1M11 68h1v1h-1M11 71h1v1h-1M12 62h1v1h-1M12 69h1v1h-1M12 72h1v1h-1M12 94h1v1h-1"/>
<path fill="#00c8fe" d="M0 65h1v1h-1M0 93h1v1h-1M1 59h1v1h-1M1 71h1v1h-1M1 84h1v1h-1M2 60h1v1h-1M2 72h1v2h-1M2 79h1v1h-1M3 65h1v1h-1M4 93h1v1h-1M5 71h1v1h-1M5 88h1v1h-1M7 82h1v1h-1M8 59h1v1h-1M8 66h1v1h-1M8 68h1v1h-1M8 72h1v1h-1M8 86h1v1h-1M9 59h1v1h-1M9 65h1v1h-1M9 78h1v1h-1M9 80h1v1h-1M9 95h1v1h-1M10 63h1v1h-1M10 70h1v1h-1M11 80h1v1h-1M11 93h1v1h-1M12 86h1v1h-1"/>
<path fill="#00d4fd" d="M0 83h1v1h-1M1 72h1v1h-1M2 87h1v1h-1M2 95h1v1h-1M3 59h1v2h-1M4 59h1v1h-1M5 59h1v1h-1M6 59h1v2h-1M6 80h1v1h-1M7 59h1v1h-1M7 63h1v1h-1M9 62h1v1h-1M10 59h1v2h-1M10 94h1v1h-1M11 59h1v1h-1M12 59h1v2h-1M12 71h1v1h-1M12 82h1v1h-1"/>
<path fill="#00e0fc" d="M0 57h1v1h-1M1 57h1v1h-1M1 63h1v1h-1M1 94h1v1h-1M2 57h1v1h-1M3 94h1v1h-1M4 58h1v1h-1M4 60h1v1h-1M4 94h1v1h-1M5 94h1v1h-1M6 96h1v1h-1M8 58h1v1h-1M8 70h1v1h-1M9 58h1v1h-1M9 60h1v1h-1M10 65h1v1h-1"/>
<path fill="#00ecfb" d="M2 96h1v1h-1M7 58h1v1h-1M8 62h1v1h-1M8 95h1v1h-1M9 96h1v1h-1M10 58h1v1h-1M10 95h1v1h-1M11 60h1v1h-1M12 96h1v1h-1"/>
<path fill="#00f2f0" d="M0 94h1v1h-1M1 95h1v1h-1M3 58h1v1h-1M3 95h1v1h-1M4 71h1v1h-1M5 58h1v1h-1M5 60h1v1h-1M6 58h1v1h-1M7 95h1v1h-1M11 94h1v1h-1M12 58h1v1h-1"/>
<path fill="#00f3dc" d="M0 56h1v1h-1M0 60h1v1h-1M0 82h1v1h-1M1 56h1v1h-1M2 56h1v1h-1M4 95h1v1h-1M5 95h1v1h-1M10 96h1v1h-1M11 58h1v1h-1M12 97h1v1h-1"/>
<path fill="#00f4c8" d="M2 97h1v1h-1M6 97h1v1h-1M7 57h1v1h-1M8 57h1v1h-1M8 96h1v1h-1M9 97h1v1h-1"/>
<path fill="#00f4b3" d="M0 95h1v1h-1M1 96h1v1h-1M3 96h1v1h-1M4 57h1v1h-1M4 96h1v1h-1M7 96h1v1h-1M8 97h1v1h-1M11 95h1v1h-1"/>
<path fill="#00f59e" d="M1 55h1v1h-1M3 57h1v1h-1M5 57h1v1h-1M5 96h1v1h-1M9 57h1v1h-1M10 57h1v1h-1M10 97h1v1h-1M12 57h1v1h-1M12 98h1v1h-1"/>
<path fill="#02f681" d="M0 55h1v1h-1M0 96h1v1h-1M1 97h1v1h-1M2 55h1v1h-1M2 98h1v1h-1M4 56h1v1h-1M6 57h1v1h-1M6 98h1v1h-1M7 97h1v1h-1M9 56h1v1h-1M9 98h1v1h-1M11 57h1v1h-1M11 96h1v1h-1"/>
<path fill="#05f663" d="M2 99h1v1h-1M3 56h1v1h-1M3 97h1v1h-1M4 97h1v1h-1M5 56h1v1h-1M5 97h1v1h-1M6 56h1v1h-1M6 99h1v1h-1M7 56h1v1h-1M8 56h1v1h-1M8 98h1v1h-1M10 98h1v1h-1M12 99h1v1h-1"/>
<path fill="#07f746" d="M0 54h1v1h-1M0 97h1v1h-1M1 54h1v1h-1M1 98h1v1h-1M3 98h1v1h-1M4 98h1v1h-1M5 98h1v1h-1M7 98h1v2h-1M9 99h1v1h-1M10 56h1v1h-1M11 56h1v1h-1M11 97h1v1h-1M12 56h1v1h-1M12 100h1v1h-1"/>
<path fill="#09f828" d="M0 98h1v2h-1M2 54h1v1h-1M2 100h1v1h-1M3 99h1v1h-1M4 55h1v1h-1M4 99h1v1h-1M6 55h1v1h-1M6 100h1v1h-1M7 55h1v1h-1M8 55h1v1h-1M8 99h1v1h-1M9 55h1v1h-1M9 100h1v1h-1M10 99h1v1h-1M11 99h1v1h-1M12 55h1v1h-1M12 101h1v1h-1"/>
<path fill="#11f81a" d="M0 53h1v1h-1M1 99h1v3h-1M2 101h1v3h-1M3 100h1v2h-1M4 100h1v1h-1M5 55h1v1h-1M5 99h1v2h-1M6 101h1v1h-1M7 100h1v1h-1M8 100h1v2h-1M9 101h1v2h-1M10 55h1v1h-1M10 100h1v2h-1M11 98h1v1h-1M11 100h1v1h-1M12 103h1v1h-1"/>
<path fill="#1df713" d="M0 100h1v3h-1M1 52h1v2h-1M1 102h1v2h-1M2 52h1v2h-1M2 104h1v2h-1M3 54h1v2h-1M3 102h1v2h-1M4 54h1v1h-1M4 101h1v3h-1M5 54h1v1h-1M5 101h1v3h-1M6 54h1v1h-1M6 102h1v4h-1M7 54h1v1h-1M7 101h1v5h-1M8 54h1v1h-1M8 102h1v2h-1M9 54h1v1h-1M9 103h1v1h-1M10 54h1v1h-1M10 102h1v1h-1M10 104h1v1h-1M11 55h1v1h-1M11 101h1v3h-1M12 54h1v1h-1M12 102h1v1h-1M12 104h1v1h-1"/>
<path fill="#28f60c" d="M0 52h1v1h-1M0 103h1v3h-1M1 51h1v1h-1M1 104h1v2h-1M2 106h1v2h-1M3 104h1v2h-1M4 104h1v2h-1M5 53h1v1h-1M5 104h1v3h-1M6 53h1v1h-1M6 106h1v1h-1M7 53h1v1h-1M7 106h1v1h-1M8 53h1v1h-1M8 104h1v3h-1M9 53h1v1h-1M9 104h1v4h-1M10 103h1v1h-1M10 105h1v2h-1M11 54h1v1h-1M11 104h1v2h-1M12 53h1v1h-1M12 105h1v3h-1"/>
<path fill="#33f605" d="M0 51h1v1h-1M0 106h1v2h-1M1 106h1v1h-1M2 51h1v1h-1M2 108h1v1h-1M3 53h1v1h-1M3 106h1v2h-1M4 53h1v1h-1M4 106h1v2h-1M6 107h1v2h-1M7 107h1v2h-1M8 107h1v2h-1M9 108h1v1h-1M10 52h1v2h-1M10 107h1v1h-1M11 53h1v1h-1M11 106h1v1h-1M12 108h1v2h-1"/>
<path fill="#41f500" d="M0 50h1v1h-1M0 108h1v1h-1M1 50h1v1h-1M1 107h1v2h-1M2 50h1v1h-1M2 109h1v2h-1M3 108h1v1h-1M4 52h1v1h-1M4 108h1v1h-1M5 107h1v2h-1M6 109h1v2h-1M7 52h1v1h-1M8 52h1v1h-1M8 109h1v1h-1M9 52h1v1h-1M9 109h1v1h-1M10 108h1v1h-1M11 107h1v2h-1M12 52h1v1h-1M12 110h1v1h-1M12 112h1v1h-1"/>
<path fill="#57f600" d="M0 109h1v1h-1M1 109h1v1h-1M3 51h1v2h-1M3 109h1v2h-1M4 51h1v1h-1M4 109h1v2h-1M5 52h1v1h-1M5 109h1v1h-1M6 52h1v1h-1M6 111h1v1h-1M7 51h1v1h-1M7 109h1v2h-1M8 51h1v1h-1M8 110h1v1h-1M9 51h1v1h-1M9 110h1v3h-1M10 109h1v2h-1M11 52h1v1h-1M12 111h1v1h-1"/>
<path fill="#6df600" d="M0 49h1v1h-1M0 110h1v2h-1M1 49h1v1h-1M1 110h1v1h-1M2 49h1v1h-1M2 111h1v2h-1M3 112h1v1h-1M4 111h1v1h-1M5 51h1v1h-1M5 110h1v2h-1M6 51h1v1h-1M6 112h1v2h-1M7 50h1v1h-1M7 111h1v1h-1M8 50h1v1h-1M8 111h1v1h-1M10 51h1v1h-1M10 111h1v1h-1M11 109h1v2h-1M12 51h1v1h-1M12 113h1v1h-1"/>
<path fill="#83f700" d="M0 48h1v1h-1M1 111h1v2h-1M2 48h1v1h-1M2 113h1v2h-1M3 50h1v1h-1M3 111h1v1h-1M4 50h1v1h-1M4 112h1v1h-1M5 50h1v1h-1M5 112h1v1h-1M6 50h1v1h-1M6 114h1v2h-1M7 112h1v1h-1M8 49h1v1h-1M8 112h1v2h-1M9 50h1v1h-1M10 50h1v1h-1M10 112h1v1h-1M11 51h1v1h-1M11 111h1v1h-1M12 50h1v1h-1M12 114h1v1h-1"/>
<path fill="#99f800" d="M0 47h1v1h-1M0 112h1v2h-1M1 48h1v1h-1M1 113h1v1h-1M2 47h1v1h-1M2 115h1v1h-1M3 113h1v1h-1M4 49h1v1h-1M4 113h1v1h-1M5 113h1v1h-1M7 49h1v1h-1M7 113h1v2h-1M8 114h1v1h-1M9 49h1v1h-1M9 113h1v3h-1M10 113h1v1h-1M11 50h1v1h-1M11 112h1v2h-1M12 49h1v1h-1M12 115h1v1h-1"/>
<path fill="#adf800" d="M0 114h1v1h-1M0 119h1v1h-1M1 47h1v1h-1M1 114h1v1h-1M1 119h1v1h-1M2 116h1v1h-1M2 119h1v1h-1M3 49h1v1h-1M3 114h1v1h-1M3 119h1v1h-1M4 114h1v2h-1M4 119h1v1h-1M5 49h1v1h-1M5 114h1v1h-1M5 119h1v1h-1M6 49h1v1h-1M6 116h1v1h-1M6 119h1v1h-1M7 48h1v1h-1M7 119h1v1h-1M8 115h1v1h-1M8 119h1v1h-1M9 48h1v1h-1M9 116h1v1h-1M9 119h1v1h-1M10 49h1v1h-1M10 114h1v2h-1M10 119h1v1h-1M11 49h1v1h-1M11 114h1v1h-1M11 119h1v1h-1M12 116h1v1h-1M12 119h1v1h-1"/>
<path fill="#bef900" d="M0 46h1v1h-1M0 115h1v1h-1M1 46h1v1h-1M1 115h1v2h-1M2 117h1v1h-1M3 48h1v1h-1M3 115h1v2h-1M4 47h1v2h-1M4 117h1v1h-1M5 48h1v1h-1M5 115h1v2h-1M6 48h1v1h-1M6 117h1v1h-1M7 115h1v2h-1M8 47h1v2h-1M8 116h1v1h-1M9 117h1v1h-1M10 48h1v1h-1M10 116h1v1h-1M11 48h1v1h-1M11 115h1v1h-1M12 48h1v1h-1M12 117h1v1h-1"/>
<path fill="#cffa00" d="M0 45h1v1h-1M0 116h1v1h-1M1 45h1v1h-1M1 117h1v1h-1M2 46h1v1h-1M3 47h1v1h-1M3 117h1v1h-1M4 116h1v1h-1M5 47h1v1h-1M5 117h1v1h-1M6 47h1v1h-1M7 47h1v1h-1M7 117h1v1h-1M8 117h1v1h-1M9 47h1v1h-1M10 117h1v1h-1M11 47h1v1h-1M11 116h1v1h-1M12 47h1v1h-1"/>
<path fill="#e0fb00" d="M0 117h1v1h-1M2 45h1v1h-1M4 46h1v1h-1M5 46h1v1h-1M6 46h1v1h-1M7 46h1v1h-1M8 46h1v1h-1M9 46h1v1h-1M10 47h1v1h-1M11 117h1v1h-1M12 46h1v1h-1"/>
<path fill="#f1fb00" d="M0 44h1v1h-1M1 44h1v1h-1M2 43h1v2h-1M3 46h1v1h-1M5 45h1v1h-1M7 45h1v1h-1M8 45h1v1h-1M9 45h1v1h-1M10 46h1v1h-1M11 46h1v1h-1"/>
<path fill="#fffa00" d="M3 45h1v1h-1M4 45h1v1h-1M5 44h1v1h-1M6 45h1v1h-1M6 118h1v1h-1M9 44h1v1h-1M10 45h1v1h-1M10 118h1v1h-1M11 45h1v1h-1M12 45h1v1h-1M12 118h1v1h-1"/>
<path fill="#fff000" d="M0 42h1v2h-1M1 42h1v2h-1M2 118h1v1h-1M3 43h1v2h-1M4 43h1v2h-1M4 118h1v1h-1M5 43h1v1h-1M6 43h1v1h-1M7 43h1v2h-1M7 118h1v1h-1M8 44h1v1h-1M8 118h1v1h-1M9 43h1v1h-1M9 118h1v1h-1M10 44h1v1h-1M12 43h1v2h-1"/>
<path fill="#ffe500" d="M0 41h1v1h-1M0 118h1v1h-1M1 41h1v1h-1M1 118h1v1h-1M2 40h1v3h-1M3 42h1v1h-1M3 118h1v1h-1M4 42h1v1h-1M5 42h1v1h-1M5 118h1v1h-1M6 44h1v1h-1M7 42h1v1h-1M8 42h1v2h-1M9 42h1v1h-1M10 42h1v2h-1M11 43h1v2h-1M11 118h1v1h-1M12 42h1v1h-1"/>
<path fill="#ffda00" d="M0 40h1v1h-1M1 40h1v1h-1M4 41h1v1h-1M5 41h1v1h-1M6 41h1v2h-1M8 41h1v1h-1M9 41h1v1h-1M10 41h1v1h-1M11 41h1v1h-1M12 41h1v1h-1"/>
<path fill="#ffd000" d="M0 39h1v1h-1M1 38h1v2h-1M2 39h1v1h-1M3 40h1v2h-1M4 40h1v1h-1M5 39h1v1h-1M6 40h1v1h-1M7 40h1v2h-1M8 40h1v1h-1M9 40h1v1h-1M10 40h1v1h-1M11 42h1v1h-1M12 40h1v1h-1"/>
<path fill="#ffc400" d="M0 37h1v2h-1M1 37h1v1h-1M2 37h1v2h-1M3 39h1v1h-1M4 38h1v2h-1M5 40h1v1h-1M6 38h1v2h-1M7 39h1v1h-1M8 38h1v2h-1M9 39h1v1h-1M10 39h1v1h-1M11 39h1v2h-1M12 39h1v1h-1"/>
<path fill="#ffb700" d="M0 36h1v1h-1M1 35h1v2h-1M2 35h1v2h-1M3 38h1v1h-1M4 35h1v1h-1M4 37h1v1h-1M5 38h1v1h-1M6 37h1v1h-1M7 37h1v2h-1M9 37h1v2h-1M10 37h1v2h-1M11 38h1v1h-1M12 38h1v1h-1"/>
<path fill="#ffab00" d="M0 33h1v3h-1M2 34h1v1h-1M3 34h1v4h-1M4 36h1v1h-1M5 35h1v1h-1M5 37h1v1h-1M6 36h1v1h-1M7 35h1v2h-1M8 34h1v4h-1M9 35h1v2h-1M10 35h1v2h-1M11 34h1v1h-1M11 36h1v2h-1M12 34h1v4h-1"/>
<path fill="#ff9e00" d="M0 32h1v1h-1M1 31h1v4h-1M2 31h1v3h-1M3 33h1v1h-1M4 32h1v1h-1M4 34h1v1h-1M5 34h1v1h-1M5 36h1v1h-1M6 34h1v2h-1M7 34h1v1h-1M8 33h1v1h-1M9 34h1v1h-1M10 32h1v1h-1M10 34h1v1h-1M11 35h1v1h-1M12 33h1v1h-1"/>
<path fill="#ff9201" d="M0 30h1v1h-1M1 29h1v1h-1M2 0h1v1h-1M3 0h1v1h-1M3 32h1v1h-1M4 0h1v1h-1M4 33h1v1h-1M5 0h1v1h-1M5 33h1v1h-1M6 0h1v1h-1M6 31h1v1h-1M6 33h1v1h-1M7 32h1v2h-1M8 32h1v1h-1M9 0h1v1h-1M9 32h1v2h-1M10 31h1v1h-1M10 33h1v1h-1M11 33h1v1h-1M12 0h1v1h-1M12 32h1v1h-1"/>
<path fill="#ff8504" d="M0 0h1v1h-1M0 28h1v2h-1M0 31h1v1h-1M1 0h1v1h-1M1 28h1v1h-1M1 30h1v1h-1M2 28h1v1h-1M2 30h1v1h-1M3 30h1v2h-1M4 31h1v1h-1M5 30h1v3h-1M6 29h1v2h-1M6 32h1v1h-1M7 0h1v1h-1M7 30h1v2h-1M8 0h1v1h-1M8 29h1v3h-1M9 30h1v2h-1M10 0h1v1h-1M10 29h1v2h-1M11 0h1v1h-1M11 29h1v4h-1M12 29h1v3h-1"/>
<path fill="#ff7807" d="M0 25h1v3h-1M1 25h1v3h-1M2 26h1v2h-1M2 29h1v1h-1M3 28h1v2h-1M4 28h1v3h-1M5 27h1v3h-1M6 27h1v2h-1M7 27h1v3h-1M8 27h1v2h-1M9 27h1v3h-1M12 28h1v1h-1"/>
<path fill="#ff6b0a" d="M0 23h1v2h-1M1 23h1v2h-1M2 23h1v3h-1M3 24h1v4h-1M4 25h1v3h-1M5 24h1v3h-1M6 24h1v1h-1M6 26h1v1h-1M7 25h1v2h-1M8 25h1v2h-1M9 22h1v1h-1M9 24h1v3h-1M10 25h1v1h-1M10 27h1v2h-1M11 25h1v4h-1M12 25h1v3h-1"/>
<path fill="#ff5e0d" d="M0 21h1v2h-1M1 18h1v1h-1M1 20h1v1h-1M1 22h1v1h-1M2 18h1v5h-1M3 22h1v2h-1M4 19h1v1h-1M4 22h1v3h-1M5 21h1v3h-1M6 23h1v1h-1M6 25h1v1h-1M7 21h1v4h-1M8 21h1v1h-1M8 23h1v2h-1M9 23h1v1h-1M10 22h1v3h-1M10 26h1v1h-1M11 22h1v3h-1M12 21h1v1h-1M12 23h1v2h-1"/>
<path fill="#fe520f" d="M0 16h1v1h-1M0 18h1v3h-1M1 19h1v1h-1M1 21h1v1h-1M2 17h1v1h-1M3 18h1v1h-1M3 20h1v2h-1M4 17h1v2h-1M4 20h1v2h-1M5 18h1v3h-1M6 20h1v3h-1M7 20h1v1h-1M8 19h1v2h-1M8 22h1v1h-1M9 17h1v5h-1M10 19h1v3h-1M11 17h1v1h-1M11 19h1v1h-1M11 21h1v1h-1M12 19h1v2h-1M12 22h1v1h-1"/>
<path fill="#fc4a11" d="M0 14h1v2h-1M0 17h1v1h-1M1 9h1v1h-1M1 13h1v5h-1M2 14h1v3h-1M3 13h1v1h-1M3 15h1v1h-1M3 17h1v1h-1M3 19h1v1h-1M4 12h1v1h-1M4 15h1v2h-1M5 14h1v3h-1M6 14h1v1h-1M6 16h1v4h-1M7 16h1v4h-1M8 12h1v1h-1M8 16h1v3h-1M9 14h1v1h-1M10 13h1v6h-1M11 11h1v1h-1M11 16h1v1h-1M11 18h1v1h-1M11 20h1v1h-1M12 11h1v1h-1M12 14h1v1h-1M12 16h1v3h-1"/>
<path fill="#fa4113" d="M0 6h1v8h-1M1 4h1v1h-1M1 6h1v1h-1M1 8h1v1h-1M1 10h1v3h-1M2 6h1v3h-1M2 10h1v4h-1M3 3h1v1h-1M3 6h1v1h-1M3 8h1v5h-1M3 14h1v1h-1M3 16h1v1h-1M4 5h1v1h-1M4 10h1v2h-1M4 13h1v2h-1M5 8h1v2h-1M5 11h1v1h-1M5 13h1v1h-1M5 17h1v1h-1M6 8h1v6h-1M6 15h1v1h-1M7 7h1v1h-1M7 10h1v6h-1M8 7h1v3h-1M8 11h1v1h-1M8 13h1v3h-1M9 7h1v7h-1M9 15h1v2h-1M10 6h1v2h-1M10 9h1v4h-1M11 7h1v4h-1M11 12h1v4h-1M12 3h1v1h-1M12 5h1v1h-1M12 9h1v2h-1M12 12h1v2h-1M12 15h1v1h-1"/>
<path fill="#f73814" d="M0 1h1v5h-1M1 1h1v3h-1M1 5h1v1h-1M1 7h1v1h-1M2 1h1v5h-1M2 9h1v1h-1M3 1h1v1h-1M3 4h1v2h-1M3 7h1v1h-1M4 1h1v2h-1M4 4h1v1h-1M4 6h1v4h-1M5 1h1v7h-1M5 10h1v1h-1M5 12h1v1h-1M6 2h1v6h-1M7 1h1v6h-1M7 8h1v2h-1M8 2h1v3h-1M8 6h1v1h-1M8 10h1v1h-1M9 1h1v6h-1M10 1h1v1h-1M10 3h1v3h-1M10 8h1v1h-1M11 1h1v6h-1M12 1h1v2h-1M12 4h1v1h-1M12 6h1v3h-1"/>
<path fill="#f52f16" d="M3 2h1v1h-1M4 3h1v1h-1M6 1h1v1h-1M8 1h1v1h-1M8 5h1v1h-1M10 2h1v1h-1"/>
</g>
<g fill="#ff0a0a"><circle cx="1543.4" cy="206.8" r="3.5"/><circle cx="1560.3" cy="206.8" r="3.5"/><circle cx="1577.3" cy="206.8" r="3.5"/><circle cx="1594.2" cy="211.7" r="3.5"/><circle cx="1611.2" cy="210.7" r="3.5"/><circle cx="1628.1" cy="211.7" r="3.5"/><circle cx="1645.1" cy="211.7" r="3.5"/><circle cx="1662.0" cy="210.7" r="3.5"/><circle cx="1679.0" cy="210.7" r="3.5"/><circle cx="1695.9" cy="210.7" r="3.5"/><circle cx="1712.9" cy="211.7" r="3.5"/><circle cx="1729.8" cy="212.7" r="3.5"/><circle cx="1746.8" cy="211.7" r="3.5"/></g>
<g fill="#000"><circle cx="1543.4" cy="320.3" r="3.5"/><circle cx="1560.3" cy="322.3" r="3.5"/><circle cx="1577.3" cy="326.2" r="3.5"/><circle cx="1594.2" cy="322.3" r="3.5"/><circle cx="1611.2" cy="322.3" r="3.5"/><circle cx="1628.1" cy="321.3" r="3.5"/><circle cx="1645.1" cy="327.2" r="3.5"/><circle cx="1662.0" cy="323.3" r="3.5"/><circle cx="1679.0" cy="324.2" r="3.5"/><circle cx="1695.9" cy="326.2" r="3.5"/><circle cx="1712.9" cy="324.2" r="3.5"/><circle cx="1729.8" cy="320.3" r="3.5"/><circle cx="1746.8" cy="327.2" r="3.5"/></g>
<path d="M826.3 390.4h3.4M1047.1 390.4h-3.4M826.3 365.7h6.5M1047.1 365.7h-6.5M826.3 341.0h3.4M1047.1 341.0h-3.4M826.3 316.4h6.5M1047.1 316.4h-6.5M826.3 291.7h3.4M1047.1 291.7h-3.4M826.3 267.0h6.5M1047.1 267.0h-6.5M826.3 242.3h3.4M1047.1 242.3h-3.4M826.3 217.7h6.5M1047.1 217.7h-6.5M826.3 193.0h3.4M1047.1 193.0h-3.4M826.3 168.3h6.5M1047.1 168.3h-6.5M826.3 143.6h3.4M1047.1 143.6h-3.4M826.3 119.0h6.5M1047.1 119.0h-6.5M826.3 94.3h3.4M1047.1 94.3h-3.4M826.3 69.6h6.5M1047.1 69.6h-6.5M826.3 44.9h3.4M1047.1 44.9h-3.4M1070.8 390.4h3.4M1512.3 390.4h-3.4M1070.8 365.7h6.5M1512.3 365.7h-6.5M1070.8 341.0h3.4M1512.3 341.0h-3.4M1070.8 316.4h6.5M1512.3 316.4h-6.5M1070.8 291.7h3.4M1512.3 291.7h-3.4M1070.8 267.0h6.5M1512.3 267.0h-6.5M1070.8 242.3h3.4M1512.3 242.3h-3.4M1070.8 217.7h6.5M1512.3 217.7h-6.5M1070.8 193.0h3.4M1512.3 193.0h-3.4M1070.8 168.3h6.5M1512.3 168.3h-6.5M1070.8 143.6h3.4M1512.3 143.6h-3.4M1070.8 119.0h6.5M1512.3 119.0h-6.5M1070.8 94.3h3.4M1512.3 94.3h-3.4M1070.8 69.6h6.5M1512.3 69.6h-6.5M1070.8 44.9h3.4M1512.3 44.9h-3.4M1534.7 390.4h3.4M1755.3 390.4h-3.4M1534.7 365.7h6.5M1755.3 365.7h-6.5M1534.7 341.0h3.4M1755.3 341.0h-3.4M1534.7 316.4h6.5M1755.3 316.4h-6.5M1534.7 291.7h3.4M1755.3 291.7h-3.4M1534.7 267.0h6.5M1755.3 267.0h-6.5M1534.7 242.3h3.4M1755.3 242.3h-3.4M1534.7 217.7h6.5M1755.3 217.7h-6.5M1534.7 193.0h3.4M1755.3 193.0h-3.4M1534.7 168.3h6.5M1755.3 168.3h-6.5M1534.7 143.6h3.4M1755.3 143.6h-3.4M1534.7 119.0h6.5M1755.3 119.0h-6.5M1534.7 94.3h3.4M1755.3 94.3h-3.4M1534.7 69.6h6.5M1755.3 69.6h-6.5M1534.7 44.9h3.4M1755.3 44.9h-3.4M866.0 40.0v6M866.0 395.3v-6M954.2 40.0v6M954.2 395.3v-6M1042.4 40.0v6M1042.4 395.3v-6M910.1 40.0v3.2M910.1 395.3v-3.2M998.3 40.0v3.2M998.3 395.3v-3.2M1111.3 40.0v6M1111.3 395.3v-6M1201.4 40.0v6M1201.4 395.3v-6M1291.4 40.0v6M1291.4 395.3v-6M1381.5 40.0v6M1381.5 395.3v-6M1471.5 40.0v6M1471.5 395.3v-6M1156.3 40.0v3.2M1156.3 395.3v-3.2M1246.4 40.0v3.2M1246.4 395.3v-3.2M1336.4 40.0v3.2M1336.4 395.3v-3.2M1426.5 40.0v3.2M1426.5 395.3v-3.2M1543.4 40.0v6M1543.4 395.3v-6M1628.2 40.0v6M1628.2 395.3v-6M1712.9 40.0v6M1712.9 395.3v-6M1585.8 40.0v3.2M1585.8 395.3v-3.2M1670.5 40.0v3.2M1670.5 395.3v-3.2M1755.3 40.0v3.2M1755.3 395.3v-3.2" stroke="#000" stroke-width="1.4" fill="none"/>
<rect x="826.3" y="40" width="220.8" height="355.3" fill="none" stroke="#111" stroke-width="1.5"/>
<rect x="1070.8" y="40" width="441.5" height="355.3" fill="none" stroke="#111" stroke-width="1.5"/>
<rect x="1534.7" y="40" width="220.6" height="355.3" fill="none" stroke="#111" stroke-width="1.5"/>
<text x="873.0" y="421.2" font-size="25.5" text-anchor="middle">-20</text>
<text x="961.2" y="421.2" font-size="25.5" text-anchor="middle">-10</text>
<text x="1043.9" y="421.2" font-size="25.5" text-anchor="middle">0</text>
<text x="1118.3" y="421.2" font-size="25.5" text-anchor="middle">-20</text>
<text x="1208.4" y="421.2" font-size="25.5" text-anchor="middle">-10</text>
<text x="1292.9" y="421.2" font-size="25.5" text-anchor="middle">0</text>
<text x="1383.0" y="421.2" font-size="25.5" text-anchor="middle">10</text>
<text x="1473.0" y="421.2" font-size="25.5" text-anchor="middle">20</text>
<text x="1544.9" y="421.2" font-size="25.5" text-anchor="middle">0</text>
<text x="1629.7" y="421.2" font-size="25.5" text-anchor="middle">10</text>
<text x="1714.4" y="421.2" font-size="25.5" text-anchor="middle">20</text>
<text x="816.6" y="76.4" font-size="25.5" text-anchor="end">1.5</text>
<text x="816.6" y="125.8" font-size="25.5" text-anchor="end">1.0</text>
<text x="816.6" y="175.1" font-size="25.5" text-anchor="end">0.5</text>
<text x="816.6" y="224.5" font-size="25.5" text-anchor="end">0.0</text>
<text x="816.6" y="273.8" font-size="25.5" text-anchor="end">-0.5</text>
<text x="816.6" y="323.2" font-size="25.5" text-anchor="end">-1.0</text>
<text x="816.6" y="372.5" font-size="25.5" text-anchor="end">-1.5</text>
<text transform="translate(767.0 213.0) rotate(-90)" font-size="25.5" text-anchor="middle"><tspan font-style="italic">V</tspan><tspan font-size="16.0" dy="8.0" dx="0.0">b</tspan><tspan dy="-8.0" dx="-3.0"> (V)</tspan></text>
<text x="1268.3" y="445.5" font-size="25.5"><tspan font-style="italic">V</tspan><tspan font-size="16.0" dy="8.0" dx="0.0">g</tspan><tspan dy="-8.0" dx="-3.0"> (V)</tspan></text>
<text x="825.5" y="33.7" font-size="22.0" font-weight="bold">I</text>
<text x="1066.5" y="35.5" font-size="22.0" font-weight="bold">II</text>
<text x="1531.0" y="35.0" font-size="22.0" font-weight="bold">III</text>
<defs>
<linearGradient id="gI" x1="0" x2="1"><stop offset="0" stop-color="#ec4c2c"/><stop offset="0.55" stop-color="#f6a424"/><stop offset="1" stop-color="#fde523"/></linearGradient>
<linearGradient id="gII" x1="0" x2="1"><stop offset="0" stop-color="#fde020"/><stop offset="0.5" stop-color="#f8b423"/><stop offset="1" stop-color="#ec5530"/></linearGradient>
<linearGradient id="gIII" x1="0" x2="1"><stop offset="0" stop-color="#ec4c2c"/><stop offset="0.55" stop-color="#f6a424"/><stop offset="1" stop-color="#fde523"/></linearGradient>
</defs>
<path d="M851 30 L866 13.5 L861 23 L1023 23 L1023 30 Z" fill="url(#gI)"/>
<path d="M1138.9 23 L1427 23 L1421 13.5 L1448 30 L1138.9 30 Z" fill="url(#gII)"/>
<path d="M1560 29.9 L1576.3 12.6 L1571 23 L1727.7 23 L1727.7 30.1 Z" fill="url(#gIII)"/>
<text x="869.0" y="17.2" font-size="21.3">-24V</text>
<text x="979.5" y="17.2" font-size="21.3">0V</text>
<text x="1150.0" y="17.2" font-size="21.3">-24V</text>
<text x="1384.5" y="17.2" font-size="21.3">24V</text>
<text x="1582.5" y="17.5" font-size="21.3">0V</text>
<text x="1675.0" y="18.5" font-size="21.3">24V</text>
<rect x="1080.0" y="42.3" width="150.3" height="47.7" fill="#fff"/><ellipse cx="1104.2" cy="66.3" rx="10.8" ry="21.6" fill="none" stroke="#f03c3c" stroke-width="2.3" stroke-dasharray="5 3.6"/><text x="1104.2" y="57.5" font-size="15.5" font-weight="bold" text-anchor="middle" fill="#222">−</text><text x="1104.2" y="85" font-size="15.5" font-weight="bold" text-anchor="middle" fill="#222">+</text><ellipse cx="1145.2" cy="66.3" rx="10.8" ry="21.6" fill="none" stroke="#f03c3c" stroke-width="2.3" stroke-dasharray="5 3.6"/><text x="1145.2" y="57.5" font-size="15.5" font-weight="bold" text-anchor="middle" fill="#222">−</text><text x="1145.2" y="85" font-size="15.5" font-weight="bold" text-anchor="middle" fill="#222">+</text><ellipse cx="1186.7" cy="66.3" rx="10.8" ry="21.6" fill="none" stroke="#f03c3c" stroke-width="2.3" stroke-dasharray="5 3.6"/><text x="1186.7" y="57.5" font-size="15.5" font-weight="bold" text-anchor="middle" fill="#222">−</text><text x="1186.7" y="85" font-size="15.5" font-weight="bold" text-anchor="middle" fill="#222">+</text><path d="M1207.6 51v21.5" stroke="#ee3a2e" stroke-width="1.6"/><path d="M1200.0 72.4h15.2l-7.6 13.2z" fill="#ee3a2e"/><text x="1216.5" y="72.5" font-size="19" font-style="italic">P</text>
<rect x="1543.2" y="42.3" width="151.0" height="47.7" fill="#fff"/><ellipse cx="1567.5" cy="66.3" rx="10.8" ry="21.6" fill="none" stroke="#f03c3c" stroke-width="2.3" stroke-dasharray="5 3.6"/><text x="1567.5" y="57.5" font-size="15.5" font-weight="bold" text-anchor="middle" fill="#222">+</text><text x="1567.5" y="85" font-size="15.5" font-weight="bold" text-anchor="middle" fill="#222">−</text><ellipse cx="1608.5" cy="66.3" rx="10.8" ry="21.6" fill="none" stroke="#f03c3c" stroke-width="2.3" stroke-dasharray="5 3.6"/><text x="1608.5" y="57.5" font-size="15.5" font-weight="bold" text-anchor="middle" fill="#222">+</text><text x="1608.5" y="85" font-size="15.5" font-weight="bold" text-anchor="middle" fill="#222">−</text><ellipse cx="1649.5" cy="66.3" rx="10.8" ry="21.6" fill="none" stroke="#f03c3c" stroke-width="2.3" stroke-dasharray="5 3.6"/><text x="1649.5" y="57.5" font-size="15.5" font-weight="bold" text-anchor="middle" fill="#222">+</text><text x="1649.5" y="85" font-size="15.5" font-weight="bold" text-anchor="middle" fill="#222">−</text><path d="M1671.4 86v-21.5" stroke="#ee3a2e" stroke-width="1.6"/><path d="M1663.8 64.6h15.2l-7.6 -13.2z" fill="#ee3a2e"/><text x="1680.5" y="72.5" font-size="19" font-style="italic">P</text>
<defs><linearGradient id="cbg" x1="0" y1="0" x2="0" y2="1"><stop offset="0.000" stop-color="#f01919"/><stop offset="0.120" stop-color="#ff5010"/><stop offset="0.180" stop-color="#ff9600"/><stop offset="0.255" stop-color="#fff000"/><stop offset="0.310" stop-color="#c8f200"/><stop offset="0.400" stop-color="#50e400"/><stop offset="0.510" stop-color="#00e40a"/><stop offset="0.600" stop-color="#00e482"/><stop offset="0.700" stop-color="#00f0f0"/><stop offset="0.780" stop-color="#00aaff"/><stop offset="0.870" stop-color="#005af0"/><stop offset="0.950" stop-color="#1e32e6"/><stop offset="1.000" stop-color="#321ed2"/></linearGradient></defs>
<rect x="1765.2" y="130.6" width="22.2" height="176.6" fill="url(#cbg)" stroke="#333" stroke-width="0.8"/>
<text x="1765.5" y="126.7" font-size="21.5">HI</text>
<text x="1765.5" y="327.0" font-size="21.5">LO</text>
<text transform="translate(1793.6 226) rotate(90)" font-size="22" text-anchor="middle">log(dI/dV)</text>
<line x1="291.7" y1="470.3" x2="291.7" y2="864.7" stroke="#999" stroke-width="2.6" stroke-dasharray="7.4 6.9" stroke-dashoffset="6.1"/>
<line x1="549.2" y1="470.3" x2="549.2" y2="864.7" stroke="#999" stroke-width="2.6" stroke-dasharray="7.4 6.9" stroke-dashoffset="6.1"/>
<line x1="1040.6" y1="470.3" x2="1040.6" y2="864.7" stroke="#999" stroke-width="2.6" stroke-dasharray="7.4 6.9" stroke-dashoffset="6.1"/>
<path d="M87.9 592.1 L88.6 593.2 L88.9 594.7 L89.3 595.9 L90.0 597.7 L90.3 598.2 L90.8 600.3 L91.9 600.1 L92.9 602.6 L93.6 603.1 L94.2 603.2 L95.2 604.3 L95.9 605.6 L96.6 606.9 L97.7 608.4 L98.6 609.0 L99.4 609.9 L100.3 610.2 L101.4 612.3 L102.2 612.7 L102.5 613.0 L103.2 613.8 L104.0 615.4 L104.7 616.4 L105.4 618.2 L105.6 618.3 L106.6 619.7 L107.3 620.7 L107.5 622.1 L108.5 622.6 L108.8 623.7 L109.8 625.5 L110.0 625.7 L110.7 626.4 L111.6 627.7 L112.1 629.2 L112.5 630.8 L113.0 631.7 L113.6 632.5 L114.2 633.4 L115.1 635.3 L115.3 636.6 L115.8 636.9 L116.7 638.4 L116.9 640.0 L117.5 640.0 L118.3 641.2 L118.7 641.9 L119.1 643.8 L119.8 645.0 L120.4 645.8 L121.2 647.0 L121.5 648.7 L121.7 648.7 L122.5 650.9 L122.6 651.1 L123.3 653.4 L123.4 654.6 L124.2 655.2 L124.4 655.5 L124.6 658.0 L125.1 658.8 L125.6 660.1 L126.2 660.4 L126.4 662.2 L126.8 662.6 L127.4 664.7 L127.9 665.0 L128.5 666.0 L128.5 667.2 L129.1 668.1 L129.4 669.7 L130.0 670.5 L130.3 672.8 L131.3 673.5 L131.7 674.4 L132.1 674.6 L132.7 677.1 L133.6 678.2 L133.9 678.7 L134.8 679.9 L135.3 681.4 L135.8 681.8 L136.8 683.4 L137.4 684.1 L138.1 685.5 L138.5 686.2 L139.4 687.5 L139.8 688.5 L140.5 689.2 L141.0 690.1 L141.5 691.5 L141.9 692.7 L142.9 694.2 L143.3 694.6 L143.9 696.0 L144.3 697.5 L144.7 698.5 L145.2 699.4 L146.0 699.9 L146.7 701.5 L147.2 703.3 L147.6 702.9 L147.9 705.2 L148.1 705.6 L148.7 707.6 L148.7 709.2 L148.9 710.1 L149.1 711.0 L149.7 713.0 L150.0 713.3 L150.1 714.5 L150.1 716.0 L150.7 717.8 L150.9 719.2 L151.0 719.1 L151.3 720.5 L151.5 722.0 L151.9 723.3 L152.1 725.1 L152.6 725.7 L152.4 726.3 L153.1 727.5 L153.2 729.5 L153.3 731.1 L153.4 731.3 L153.9 732.3 L154.3 733.8 L154.2 734.7 L154.7 736.6 L154.9 738.1 L155.3 739.8 L155.4 739.8 L155.6 741.0 L155.4 742.7 L155.8 743.5 L155.7 745.0 L155.9 746.5 L156.0 748.1 L155.9 749.4 L156.2 749.5 L156.3 751.7 L156.0 752.5 L156.3 754.5 L156.2 755.2 L156.5 756.8 L156.6 757.5 L156.5 758.3 L156.5 760.0 L157.0 796.2 L158.4 749.0 L160.4 750.5 L162.2 770.6 L163.8 816.1 L165.6 745.5 L167.1 793.2 L168.9 768.6 L170.8 819.4 L172.3 775.1 L173.9 802.1 L175.8 760.5 L177.6 809.5 L179.3 773.1 L180.5 809.3 L182.1 773.3 L183.4 806.5 L184.8 795.0 L186.4 763.6 L187.7 821.3 L189.0 791.8 L190.8 773.6 L192.5 825.6 L193.8 761.6 L195.3 807.3 L197.0 767.1 L198.9 814.2 L200.8 757.3 L202.2 800.7 L203.5 796.2 L204.9 753.1 L206.2 807.7 L207.4 769.8 L208.7 754.7 L210.3 816.9 L212.0 767.7 L213.3 795.3 L215.2 815.9 L216.8 792.5 L218.3 763.2 L220.1 796.6 L221.6 768.8 L223.2 823.4 L225.1 773.7 L226.8 834.8 L228.7 775.6 L230.6 818.2 L232.4 758.6 L234.2 803.8 L235.7 770.8 L237.1 812.5 L238.7 769.1 L240.7 806.1 L241.9 809.7 L243.3 772.8 L244.6 794.1 L246.3 831.1 L248.0 793.2 L249.6 776.5 L251.2 795.8 L252.9 742.4 L254.6 804.5 L256.3 765.2 L257.5 795.8 L258.8 776.4 L260.1 806.4 L261.3 804.6 L262.7 800.3 L264.5 832.8 L265.8 768.4 L267.2 824.2 L268.7 770.8 L270.3 794.5 L272.1 809.7 L274.0 772.2 L275.7 812.1 L277.4 776.6 L279.4 766.9 L280.6 793.3 L282.2 755.8 L283.9 801.2 L285.4 765.9 L286.6 811.5 L288.0 757.8 L289.8 806.3 L291.5 760.5 L293.0 772.1 L294.3 796.3 L296.0 753.9 L297.3 816.4 L299.1 775.1 L300.5 829.9 L302.5 745.3 L303.9 803.7 L305.9 767.7 L307.4 798.3 L308.7 751.6 L310.4 801.9 L312.3 776.2 L313.7 765.2 L313.7 763.1 L313.6 763.0 L313.5 760.6 L313.8 760.7 L313.6 759.0 L313.7 758.0 L314.0 755.9 L313.8 755.5 L314.0 754.3 L314.0 752.4 L314.4 751.7 L314.2 750.2 L314.4 749.3 L314.5 747.5 L314.5 746.7 L314.6 745.7 L314.6 744.6 L314.8 743.0 L314.6 741.8 L315.2 740.2 L315.4 738.7 L316.0 738.9 L316.2 736.4 L316.6 735.7 L317.1 735.4 L317.4 733.2 L317.8 732.6 L318.6 730.8 L318.7 730.1 L319.3 729.7 L319.3 727.2 L319.6 726.1 L319.9 725.7 L320.3 723.7 L320.4 722.6 L320.6 722.1 L320.9 720.6 L321.4 719.2 L321.4 718.7 L321.9 716.6 L322.0 716.4 L322.2 714.0 L322.2 713.9 L322.8 711.8 L322.9 710.8 L323.1 710.3 L323.5 707.9 L323.4 707.1 L323.8 706.4 L324.2 704.9 L324.2 702.9 L324.5 701.9 L325.1 701.1 L325.2 700.6 L325.2 698.7 L325.4 697.8 L325.7 696.7 L326.4 695.5 L326.3 693.4 L326.9 692.0 L327.1 691.3 L327.6 690.3 L327.9 688.7 L328.1 687.7 L328.5 685.9 L328.8 684.9 L328.9 684.2 L329.0 683.5 L329.4 681.5 L329.6 680.3 L330.1 679.7 L330.3 678.5 L330.5 676.8 L331.0 676.5 L331.5 674.8 L331.4 673.2 L332.0 671.8 L332.3 671.0 L332.4 670.6 L333.2 668.2 L333.5 667.1 L333.8 666.4 L334.2 664.9 L334.6 664.2 L334.9 662.3 L335.5 661.3 L336.0 660.5 L336.3 659.0 L336.8 657.4 L336.8 656.2 L337.5 656.0 L337.6 654.4 L338.3 653.5 L338.4 651.7 L338.8 650.4 L339.3 649.1 L339.9 648.5 L340.1 647.7 L340.6 646.8 L340.9 644.8 L341.3 643.1 L341.8 643.1 L342.5 642.1 L342.9 640.7 L343.1 639.1 L343.7 638.5 L344.1 636.9 L344.8 636.4 L345.5 635.0 L345.7 634.1 L346.5 632.7 L346.8 631.4 L347.2 630.7 L348.1 629.2 L348.5 628.6 L348.7 627.6 L349.4 625.3 L349.7 624.2 L350.4 623.8 L350.8 623.1 L351.3 621.2 L351.7 620.9 L352.2 619.6 L352.9 618.0 L353.4 616.4 L354.1 616.4 L354.7 614.7 L354.9 614.0 L355.6 613.1 L356.2 611.5 L357.1 609.8 L357.5 608.6 L357.9 607.7 L358.9 607.9 L359.4 605.8 L360.0 605.5 L360.4 604.2 L361.2 602.2 L361.6 601.9 L362.1 600.7 L362.9 599.3 L363.5 598.4 L364.1 597.4 L364.8 595.9 L365.4 595.0 L366.1 594.7 L366.5 593.4 L367.3 592.9 L368.2 592.0 L368.9 591.5 L369.8 590.3 L370.4 588.7 L371.3 588.5 L372.0 586.9 L372.8 586.6 L373.5 584.3 L374.5 584.7 L375.3 583.3 L376.1 581.8 L376.8 580.5 L377.4 580.2 L378.4 579.2 L378.9 578.7 L379.9 577.0 L380.6 576.3 L381.4 574.9 L382.5 575.3 L383.2 574.2 L383.8 573.1 L384.5 572.0 L385.5 571.2 L386.0 570.0 L386.8 568.6 L388.0 566.8 L388.5 566.2 L389.3 564.8 L390.3 565.0 L390.9 563.3 L391.8 561.8 L392.3 562.1 L393.3 560.5" fill="none" stroke="#555555" stroke-width="3.8" stroke-linejoin="round" stroke-linecap="round"/>
<path d="M429.3 581.2 L430.5 582.9 L431.2 582.7 L432.1 584.8 L433.3 584.6 L434.2 585.8 L435.2 586.2 L436.6 588.2 L437.5 588.3 L438.8 589.4 L439.7 587.3 L441.0 586.8 L442.1 586.8 L443.1 584.8 L444.1 585.3 L444.9 583.0 L445.9 582.5 L447.1 581.5 L447.6 580.4 L448.5 580.2 L449.1 578.8 L450.0 577.6 L450.4 576.0 L451.5 575.4 L451.9 574.2 L453.0 574.0 L454.3 572.4 L455.5 570.8 L456.7 570.4 L457.7 570.4 L458.9 569.6 L460.5 569.5 L461.6 570.1 L462.8 570.6 L464.5 570.0 L465.4 571.9 L466.6 572.9 L467.9 572.4 L469.1 573.9 L469.7 575.1 L470.5 576.0 L471.1 577.7 L471.8 578.3 L472.6 578.9 L473.2 580.0 L473.7 581.3 L474.3 583.3 L475.1 584.5 L475.3 585.2 L475.8 586.5 L476.3 586.8 L476.8 589.1 L477.3 590.5 L477.5 590.5 L477.9 592.3 L478.6 593.4 L478.9 595.1 L479.3 596.5 L480.0 597.1 L480.5 597.8 L480.5 599.1 L480.8 600.3 L481.4 601.9 L481.5 603.2 L481.8 604.8 L482.1 605.1 L482.4 607.0 L483.0 608.3 L483.0 609.0 L483.4 609.9 L484.0 610.8 L484.1 613.2 L484.7 613.4 L484.7 615.5 L484.8 616.0 L485.6 617.0 L485.6 618.5 L486.0 619.3 L486.1 622.0 L486.8 622.7 L486.9 623.1 L487.4 624.2 L487.7 626.5 L488.0 626.7 L488.6 628.3 L488.5 629.2 L489.1 629.8 L489.3 632.0 L489.9 633.0 L490.3 633.9 L490.4 635.7 L490.7 636.8 L491.0 637.2 L491.3 638.7 L491.6 639.3 L492.5 640.8 L493.3 641.8 L494.5 643.1 L495.3 643.4 L495.8 644.2 L496.8 645.7 L497.4 646.2 L498.2 647.6 L499.1 649.7 L500.1 649.6 L501.1 649.8 L502.6 650.6 L503.7 651.6 L505.0 650.8 L505.9 651.8 L507.0 653.3 L508.3 653.9 L509.5 653.5 L510.6 654.5 L511.0 655.5 L511.7 656.4 L512.0 658.1 L512.6 658.8 L513.2 660.1 L513.7 661.9 L513.9 662.3 L514.4 664.2 L515.0 664.8 L515.5 665.7 L515.6 667.1 L516.0 667.8 L516.2 669.9 L516.9 671.3 L517.4 671.7 L517.6 673.8 L517.8 674.6 L518.4 676.2 L518.8 676.2 L519.1 677.2 L519.3 678.8 L519.5 679.9 L520.0 681.3 L520.3 682.0 L520.6 683.8 L520.7 685.3 L521.0 685.6 L521.3 687.4 L521.5 688.9 L522.0 690.1 L522.3 690.5 L522.4 692.3 L522.5 693.6 L522.7 695.0 L523.3 696.2 L523.4 697.1 L523.5 698.5 L524.2 700.1 L524.1 701.5 L524.2 702.4 L524.6 704.3 L524.7 704.9 L525.2 706.5 L525.2 707.4 L525.3 708.3 L525.5 710.2 L525.9 710.7 L526.1 711.3 L526.0 713.3 L526.2 714.2 L526.8 715.1 L526.6 716.4 L527.0 717.7 L526.9 719.4 L527.3 720.1 L527.5 721.9 L527.7 723.1 L527.9 724.6 L528.3 725.0 L528.2 727.1 L528.4 728.0 L528.8 729.2 L529.1 730.6 L528.9 731.5 L529.3 732.6 L529.4 733.3 L529.8 734.9 L529.7 735.6 L530.0 736.7 L530.2 737.8 L530.2 738.9 L530.4 741.1 L530.6 741.9 L531.1 743.2 L531.0 745.0 L531.6 744.9 L531.3 746.8 L531.6 747.8 L531.7 748.8 L531.7 750.1 L531.6 752.0 L531.9 753.3 L531.8 753.9 L531.9 755.4 L532.0 756.9 L531.7 757.4 L532.0 758.4 L532.0 760.0 L533.0 791.0 L534.7 732.5 L536.2 803.1 L538.2 767.3 L539.4 788.0 L541.4 743.3 L542.9 797.5 L544.7 769.0 L546.7 803.3 L548.4 769.6 L550.3 796.3 L551.6 771.0 L553.3 790.4 L554.9 750.5 L556.3 748.7 L558.3 797.2 L560.2 741.4 L561.8 800.1 L563.7 806.4 L565.6 748.9 L566.8 797.5 L568.3 770.1 L569.5 772.2 L571.3 789.1 L573.2 756.2 L575.1 808.2 L576.3 802.1 L577.8 756.3 L579.6 804.9 L581.5 769.3 L582.8 794.1 L584.6 769.0 L586.1 823.8 L587.6 733.6 L589.1 763.2 L591.0 825.1 L592.8 754.8 L594.5 801.1 L596.5 767.8 L598.0 794.5 L599.9 796.4 L601.6 749.2 L603.3 807.8 L604.7 755.4 L606.4 800.1 L608.1 764.0 L609.9 768.5 L611.9 834.9 L613.2 753.7 L615.2 801.4 L616.4 813.0 L617.8 766.2 L619.2 755.8 L620.5 814.3 L622.3 762.8 L623.9 811.5 L625.2 746.2 L627.1 764.8 L628.8 794.5 L630.8 766.3 L632.1 809.5 L633.3 764.9 L635.0 799.5 L636.3 749.7 L638.0 755.4 L640.0 797.1 L641.5 747.8 L643.1 794.7 L645.0 757.4 L646.4 799.2 L648.3 766.1 L650.2 807.9 L651.5 755.1 L653.1 800.5 L654.4 768.6 L656.4 787.8 L658.2 755.5 L659.5 793.1 L661.3 768.2 L663.2 790.9 L664.7 771.3 L666.4 821.4 L668.0 814.0 L669.7 766.4 L671.4 787.7 L672.8 793.7 L674.1 765.9 L675.8 788.2 L677.6 744.4 L680.2 760.6 L679.8 758.5 L680.1 757.6 L679.9 756.8 L680.0 755.1 L680.0 753.9 L680.0 751.9 L680.2 751.0 L680.4 749.7 L680.2 748.2 L680.2 747.6 L680.3 746.4 L680.5 744.6 L680.5 743.4 L680.6 742.8 L680.4 741.7 L680.6 741.0 L680.5 738.3 L680.4 738.3 L680.7 736.9 L680.4 735.4 L680.4 733.5 L680.5 733.6 L680.7 732.2 L680.5 730.3 L680.7 728.8 L681.0 728.7 L681.3 726.8 L681.7 726.3 L682.1 724.6 L682.1 724.0 L682.3 721.8 L682.7 720.6 L682.7 719.7 L683.0 718.4 L683.2 717.4 L683.3 716.8 L683.5 715.1 L684.0 713.7 L684.1 712.1 L684.4 711.3 L684.7 709.9 L685.0 709.2 L684.9 707.9 L685.6 706.0 L685.7 706.4 L685.8 704.6 L686.0 703.0 L686.4 702.3 L686.5 700.9 L686.8 700.2 L686.8 697.9 L687.1 697.0 L687.6 696.1 L687.9 694.9 L687.9 694.2 L688.0 693.5 L688.6 691.2 L688.5 690.8 L689.0 689.3 L688.8 688.3 L689.0 686.9 L689.5 686.2 L689.7 683.5 L690.1 683.5 L690.1 681.1 L690.4 680.5 L690.6 680.2 L690.9 677.6 L691.0 676.9 L691.2 675.6 L691.3 674.5 L691.4 673.1 L691.9 671.5 L691.8 671.6 L692.2 669.9 L692.2 668.0 L692.5 668.1 L692.8 666.9 L692.9 664.9 L693.3 664.3 L693.4 663.2 L693.8 660.6 L694.1 660.0 L694.5 659.6 L694.6 658.1 L694.9 657.0 L695.0 655.7 L695.3 654.3 L695.6 652.7 L695.9 651.5 L696.3 650.5 L696.5 649.4 L697.0 647.9 L697.2 646.8 L697.6 645.4 L697.8 644.0 L697.8 643.6 L698.3 641.7 L698.3 641.4 L698.7 640.0 L699.0 638.6 L699.4 638.0 L699.8 635.9 L699.9 634.4 L700.4 633.0 L700.5 633.0 L700.7 631.5 L701.2 630.1 L701.4 628.2 L702.1 628.0 L702.3 625.8 L702.6 624.7 L702.7 624.1 L703.2 622.2 L703.6 621.7 L704.0 621.1 L704.2 619.0 L704.6 618.3 L704.6 617.4 L705.1 615.2 L705.2 613.6 L705.7 612.8 L705.9 611.6 L706.3 610.9 L706.8 609.4 L707.3 608.7 L708.0 607.0 L708.5 607.0 L708.8 605.3 L709.3 604.2 L709.7 603.7 L710.3 601.5 L710.4 601.5 L711.0 600.1 L711.4 598.5 L711.9 597.8 L712.6 596.3 L712.9 594.9 L713.2 594.8 L713.6 593.6 L714.3 591.1 L714.9 590.1 L715.2 588.9 L715.9 588.1 L716.3 586.5 L716.6 585.4 L716.8 585.1 L717.7 584.1 L718.1 583.1 L718.4 580.8 L718.9 579.8 L719.3 579.0 L719.8 577.6 L720.3 576.8 L720.7 575.1 L721.1 574.7 L721.8 573.5 L721.9 572.0 L722.5 571.5 L723.2 570.8 L723.9 569.6 L724.5 568.6 L724.8 566.8 L725.7 566.0 L726.4 564.8 L727.2 562.9 L727.6 563.3 L728.1 560.8 L729.1 561.1 L729.4 558.6 L730.4 558.5 L731.0 557.3 L731.7 556.6 L732.0 554.3 L733.1 554.7 L733.8 552.8 L734.2 551.6 L734.7 551.2 L735.4 549.8 L736.2 548.4 L736.9 547.5 L737.3 547.1 L738.0 544.9 L738.7 544.3 L739.6 543.0 L739.9 542.5 L740.6 541.2 L741.2 540.7 L741.8 538.6 L742.6 537.7 L743.4 537.1 L744.1 535.9 L744.5 535.1 L745.2 533.2 L746.0 533.4 L746.6 531.3 L747.6 531.2 L748.0 528.8 L748.8 528.8 L749.0 527.5 L749.3 525.4 L749.7 524.9 L750.0 523.8 L750.1 522.0 L750.6 520.1 L751.2 518.9 L751.2 518.9 L751.7 517.0" fill="none" stroke="#3a6ea8" stroke-width="3.8" stroke-linejoin="round" stroke-linecap="round"/>
<path d="M836.8 547.9 L836.9 549.2 L837.3 550.1 L838.0 550.5 L838.1 552.6 L838.8 553.9 L839.3 554.7 L839.4 555.5 L839.8 558.0 L840.1 558.1 L841.0 558.9 L841.7 560.2 L842.4 561.8 L843.3 562.9 L844.1 563.9 L845.0 564.2 L845.4 565.2 L846.2 567.4 L847.2 568.0 L847.6 568.8 L848.6 569.7 L849.4 571.8 L850.0 572.3 L851.0 573.1 L851.4 574.9 L852.6 574.4 L853.2 576.1 L853.7 576.7 L854.5 578.7 L855.3 578.5 L855.9 580.8 L856.7 581.7 L857.3 582.0 L857.7 583.2 L858.3 584.2 L859.3 585.4 L859.8 586.9 L860.4 587.5 L861.3 589.0 L861.7 589.9 L862.3 590.7 L863.2 591.6 L863.8 593.6 L864.4 593.6 L864.8 596.0 L865.2 595.7 L866.0 596.9 L866.5 597.8 L867.3 599.1 L867.5 600.8 L868.2 601.6 L868.8 603.3 L869.4 603.5 L869.8 604.7 L870.5 605.9 L871.2 606.9 L871.5 608.1 L872.2 609.5 L872.9 610.1 L873.2 610.9 L873.9 612.3 L874.5 614.4 L874.7 615.7 L875.4 616.1 L875.9 618.1 L876.4 618.5 L876.8 620.2 L877.5 620.6 L877.9 621.5 L878.6 623.6 L879.2 624.9 L879.5 625.8 L880.0 626.9 L880.6 627.0 L881.0 628.4 L881.2 630.5 L881.6 630.9 L882.3 632.5 L882.9 633.8 L883.5 634.5 L883.6 635.6 L884.1 637.2 L884.9 637.3 L885.1 639.0 L885.8 640.6 L886.1 640.4 L886.5 641.4 L886.9 643.7 L887.2 645.1 L887.4 646.4 L887.8 646.8 L888.0 647.8 L888.1 648.6 L888.8 649.9 L889.1 651.9 L889.4 652.7 L889.6 653.5 L889.8 655.2 L890.5 656.9 L890.7 658.0 L891.4 658.1 L891.8 659.8 L892.2 661.2 L892.3 661.6 L892.8 663.1 L892.9 664.8 L893.5 665.3 L894.0 666.1 L894.2 667.8 L894.6 668.6 L894.9 669.3 L895.3 671.2 L895.9 672.6 L895.9 673.4 L896.1 674.7 L896.8 675.3 L896.8 677.4 L897.2 678.3 L897.5 680.1 L897.9 680.2 L898.0 682.6 L898.3 682.4 L898.7 683.4 L898.7 685.4 L899.0 686.8 L899.5 687.4 L899.8 689.1 L900.1 689.9 L900.3 690.6 L900.7 693.2 L901.2 693.0 L901.1 694.6 L901.8 696.2 L901.8 697.4 L902.4 699.1 L902.6 700.2 L903.1 701.4 L903.1 702.8 L903.5 703.0 L904.0 705.0 L905.0 718.5 L906.3 707.1 L907.9 706.3 L909.3 720.7 L910.9 726.6 L912.8 715.8 L914.2 735.3 L915.8 721.8 L917.3 750.3 L919.3 728.6 L920.8 748.7 L922.7 724.9 L924.3 753.3 L926.3 738.6 L927.5 771.0 L928.9 740.3 L930.2 748.5 L932.1 767.8 L933.9 757.1 L935.6 793.2 L937.6 751.1 L939.6 798.7 L941.2 764.0 L942.9 775.1 L944.5 803.6 L946.5 763.6 L947.9 778.9 L949.7 798.5 L951.1 755.4 L952.4 806.7 L954.4 816.6 L956.2 770.2 L957.9 819.1 L959.7 774.5 L961.6 796.0 L963.4 763.1 L965.4 794.5 L967.4 769.1 L968.9 807.9 L970.4 750.8 L972.3 800.0 L974.1 751.0 L976.0 815.8 L978.0 774.1 L979.2 776.8 L980.6 794.6 L982.1 767.5 L983.6 795.2 L985.0 766.8 L986.3 794.1 L987.9 767.8 L989.6 820.7 L991.2 766.0 L992.8 803.7 L994.2 831.1 L995.6 777.5 L997.5 770.2 L999.0 813.1 L1001.0 819.9 L1002.6 806.5 L1004.5 747.0 L1005.8 797.4 L1007.1 747.6 L1008.8 805.9 L1010.3 761.7 L1012.0 805.5 L1013.7 769.1 L1014.9 793.9 L1016.9 773.0 L1018.8 795.2 L1020.0 754.0 L1021.2 798.3 L1023.2 774.3 L1024.9 802.9 L1026.1 805.9 L1027.9 773.7 L1029.9 793.5 L1031.1 767.5 L1032.6 805.4 L1034.3 760.6 L1035.9 808.5 L1037.1 747.1 L1038.6 804.3 L1040.2 763.7 L1041.8 793.5 L1042.8 771.5 L1043.1 771.3 L1043.3 769.9 L1043.6 768.6 L1043.4 767.5 L1043.6 765.2 L1043.6 763.7 L1044.2 763.0 L1044.0 761.2 L1044.5 760.9 L1044.8 758.8 L1044.7 757.9 L1045.0 756.5 L1045.3 756.1 L1045.6 754.1 L1046.0 753.3 L1046.1 752.4 L1046.6 750.9 L1046.8 749.1 L1047.2 748.1 L1047.4 746.6 L1047.9 746.3 L1047.9 745.1 L1048.5 743.2 L1048.5 742.9 L1048.7 741.7 L1049.2 739.4 L1049.2 738.6 L1049.7 738.1 L1049.9 737.1 L1049.9 735.1 L1050.5 734.4 L1050.4 733.6 L1051.0 732.2 L1051.1 730.5 L1051.6 729.8 L1051.7 728.5 L1052.1 727.2 L1052.1 726.2 L1052.1 724.1 L1052.4 722.5 L1052.7 721.2 L1052.8 720.3 L1052.8 719.6 L1053.0 718.2 L1053.4 717.8 L1053.3 715.6 L1053.7 714.1 L1054.0 713.0 L1054.0 712.0 L1053.9 710.2 L1054.1 709.5 L1054.4 709.4 L1054.7 706.7 L1054.9 705.8 L1055.0 705.4 L1055.4 704.5 L1055.4 702.3 L1055.6 701.1 L1056.0 700.2 L1056.2 698.5 L1056.5 698.6 L1056.4 696.9 L1056.6 694.8 L1057.0 693.8 L1057.4 693.3 L1057.6 692.7 L1057.5 690.1 L1057.7 689.5 L1058.3 688.7 L1058.4 687.8 L1058.5 685.4 L1058.9 684.1 L1058.9 682.9 L1059.1 681.8 L1059.5 680.7 L1059.8 680.6 L1059.8 678.2 L1060.2 677.9 L1060.5 676.4 L1060.6 675.6 L1060.8 674.5 L1060.8 673.0 L1061.2 671.2 L1061.1 670.0 L1061.4 668.9 L1061.8 667.5 L1061.8 665.7 L1062.2 665.3 L1062.6 664.2 L1062.5 662.4 L1062.8 661.7 L1062.9 660.7 L1063.3 658.7 L1063.6 657.4 L1064.1 655.8 L1064.1 654.6 L1064.5 653.6 L1064.5 652.8 L1065.0 652.2 L1065.3 650.3 L1065.5 650.1 L1065.7 647.5 L1066.3 647.1 L1066.3 645.4 L1066.9 645.2 L1066.8 643.9 L1067.2 642.3 L1067.7 640.5 L1068.2 639.8 L1068.2 639.4 L1068.5 637.0 L1069.1 636.5 L1069.5 635.9 L1069.5 633.5 L1070.0 633.0 L1070.2 632.5 L1070.5 630.9 L1070.8 630.2 L1071.5 628.5 L1071.6 627.5 L1072.2 626.5 L1072.2 624.8 L1072.7 623.7 L1073.6 623.1 L1073.7 621.4 L1074.2 619.6 L1074.8 619.4 L1075.1 617.7 L1075.7 617.0 L1076.0 614.8 L1076.3 613.8 L1077.1 613.1 L1077.5 611.7 L1077.8 610.3 L1078.5 609.8 L1078.5 608.8 L1079.1 607.4 L1079.6 606.3 L1080.0 605.7 L1080.2 604.0 L1080.5 602.4 L1080.9 601.6 L1081.3 600.0 L1081.9 599.5 L1082.2 598.4 L1082.4 596.9 L1082.7 595.2 L1083.0 594.8 L1083.8 592.9 L1083.9 591.4 L1084.2 591.0 L1085.0 589.0 L1085.1 588.9 L1085.5 587.9 L1086.0 586.1 L1086.3 584.6 L1086.8 583.4 L1087.4 581.9 L1087.7 581.9 L1088.0 579.8 L1088.3 578.4 L1089.0 578.1 L1089.1 576.7 L1089.7 575.3 L1090.0 574.4 L1090.8 574.1 L1091.3 572.9 L1092.1 571.2 L1092.3 570.5 L1092.9 569.0 L1093.4 567.1 L1094.1 566.1 L1095.0 565.6 L1095.5 565.1 L1096.0 563.5 L1096.4 562.6 L1097.1 560.5 L1097.7 559.8 L1098.4 559.2 L1099.2 557.9 L1100.0 557.2 L1100.3 555.0 L1101.0 554.0 L1102.2 553.1 L1102.6 552.3 L1103.4 550.9 L1104.2 549.9 L1105.0 549.6 L1105.3 548.2 L1106.1 547.7 L1106.8 545.7 L1107.9 545.2 L1108.6 543.9 L1109.3 542.5 L1110.0 541.6 L1110.8 540.4 L1111.4 539.5 L1112.3 539.1 L1112.8 538.8 L1114.0 536.8 L1114.4 536.5 L1115.6 534.5 L1116.1 534.0" fill="none" stroke="#c8202a" stroke-width="3.8" stroke-linejoin="round" stroke-linecap="round"/>
<line x1="149.9" y1="658.0" x2="160.3" y2="829.7" stroke="#2bb24a" stroke-width="3" stroke-dasharray="7.5 6.5"/>
<line x1="125.7" y1="788.7" x2="338.2" y2="788.7" stroke="#2bb24a" stroke-width="3" stroke-dasharray="7.5 6.5"/>
<line x1="331.9" y1="650.2" x2="306.7" y2="834.4" stroke="#2bb24a" stroke-width="3" stroke-dasharray="7.5 6.5"/>
<line x1="519.0" y1="658.7" x2="537.1" y2="828.7" stroke="#2bb24a" stroke-width="3" stroke-dasharray="7.5 6.5"/>
<line x1="510.7" y1="781.4" x2="710.9" y2="781.4" stroke="#2bb24a" stroke-width="3" stroke-dasharray="7.5 6.5"/>
<line x1="690.1" y1="645.4" x2="678.8" y2="832.5" stroke="#2bb24a" stroke-width="3" stroke-dasharray="7.5 6.5"/>
<line x1="890.2" y1="647.3" x2="925.3" y2="830.6" stroke="#2bb24a" stroke-width="3" stroke-dasharray="7.5 6.5"/>
<line x1="889.4" y1="785.2" x2="1089.7" y2="785.2" stroke="#2bb24a" stroke-width="3" stroke-dasharray="7.5 6.5"/>
<line x1="1064.0" y1="651.1" x2="1042.5" y2="840.0" stroke="#2bb24a" stroke-width="3" stroke-dasharray="7.5 6.5"/>
<path d="M158.9 681v19" stroke="#f7941d" stroke-width="2.1"/><path d="M147.9 694.5L158.9 700.8L169.9 694.5L158.9 723Z" fill="#f7941d"/>
<path d="M314.6 681v19" stroke="#f7941d" stroke-width="2.1"/><path d="M303.6 694.5L314.6 700.8L325.6 694.5L314.6 723Z" fill="#f7941d"/>
<path d="M531.4 681v19" stroke="#f7941d" stroke-width="2.1"/><path d="M520.4 694.5L531.4 700.8L542.4 694.5L531.4 723Z" fill="#f7941d"/>
<path d="M680.7 681v19" stroke="#f7941d" stroke-width="2.1"/><path d="M669.7 694.5L680.7 700.8L691.7 694.5L680.7 723Z" fill="#f7941d"/>
<path d="M915.9 681v19" stroke="#f7941d" stroke-width="2.1"/><path d="M904.9 694.5L915.9 700.8L926.9 694.5L915.9 723Z" fill="#f7941d"/>
<path d="M1046.2 681v19" stroke="#f7941d" stroke-width="2.1"/><path d="M1035.2 694.5L1046.2 700.8L1057.2 694.5L1046.2 723Z" fill="#f7941d"/>
<path d="M57.6 469.3v7.0M57.6 865.7v-7.0M116.1 469.3v4.0M116.1 865.7v-4.0M174.5 469.3v7.0M174.5 865.7v-7.0M233.0 469.3v4.0M233.0 865.7v-4.0M291.5 469.3v7.0M291.5 865.7v-7.0M349.9 469.3v4.0M349.9 865.7v-4.0M408.4 469.3v7.0M408.4 865.7v-7.0M431.9 469.3v7.0M431.9 865.7v-7.0M490.4 469.3v4.0M490.4 865.7v-4.0M548.9 469.3v7.0M548.9 865.7v-7.0M607.4 469.3v4.0M607.4 865.7v-4.0M665.8 469.3v7.0M665.8 865.7v-7.0M724.3 469.3v4.0M724.3 865.7v-4.0M782.8 469.3v7.0M782.8 865.7v-7.0M806.3 469.3v7.0M806.3 865.7v-7.0M864.8 469.3v4.0M864.8 865.7v-4.0M923.4 469.3v7.0M923.4 865.7v-7.0M981.9 469.3v4.0M981.9 865.7v-4.0M1040.5 469.3v7.0M1040.5 865.7v-7.0M1099.0 469.3v4.0M1099.0 865.7v-4.0M1157.6 469.3v7.0M1157.6 865.7v-7.0M45.4 493.2h2.8M45.4 516.4h6.2M45.4 539.6h2.8M45.4 562.9h6.2M45.4 586.1h2.8M45.4 609.3h6.2M45.4 632.5h2.8M45.4 655.7h6.2M45.4 679.0h2.8M45.4 702.2h6.2M45.4 725.4h2.8M45.4 748.6h6.2M45.4 771.8h2.8M45.4 795.1h6.2M45.4 818.3h2.8M45.4 841.5h6.2" stroke="#555" stroke-width="1.3" fill="none"/>
<rect x="45.4" y="469.3" width="1123.6" height="396.4" fill="none" stroke="#555" stroke-width="1.4"/>
<line x1="420.5" y1="469.3" x2="420.5" y2="865.7" stroke="#222" stroke-width="1.40"/>
<line x1="794.6" y1="469.3" x2="794.6" y2="865.7" stroke="#222" stroke-width="1.40"/>
<text x="39.5" y="895.3" font-size="29.3">-2</text>
<text x="154.5" y="895.3" font-size="29.3">-1</text>
<text x="283.8" y="895.3" font-size="29.3">0</text>
<text x="392.5" y="895.3" font-size="29.3">1</text>
<text x="423.0" y="895.3" font-size="29.3">-1</text>
<text x="540.4" y="895.3" font-size="29.3">0</text>
<text x="654.8" y="895.3" font-size="29.3">1</text>
<text x="769.9" y="895.3" font-size="29.3">2</text>
<text x="801.5" y="895.3" font-size="29.3">-2</text>
<text x="901.4" y="895.3" font-size="29.3">-1</text>
<text x="1031.7" y="895.3" font-size="29.3">0</text>
<text x="1145.2" y="895.3" font-size="29.3">1</text>
<text x="195.4" y="920.0" font-size="28.0"><tspan font-style="italic">V</tspan><tspan font-size="17.0" dy="9.5" dx="-1.5">b</tspan><tspan dy="-9.5" dx="0.5"> (V)</tspan></text>
<text x="575.4" y="918.0" font-size="28.0"><tspan font-style="italic">V</tspan><tspan font-size="17.0" dy="9.5" dx="-1.5">b</tspan><tspan dy="-9.5" dx="0.5"> (V)</tspan></text>
<text x="950.1" y="920.0" font-size="28.0"><tspan font-style="italic">V</tspan><tspan font-size="17.0" dy="9.5" dx="-1.5">b</tspan><tspan dy="-9.5" dx="0.5"> (V)</tspan></text>
<text transform="translate(35 674.4) rotate(-90)" font-size="27.5" text-anchor="middle">log (dI/dV) (a.u.)</text>
<line x1="64.9" y1="498.8" x2="99.2" y2="498.8" stroke="#555" stroke-width="4.00"/>
<text x="111.5" y="509.6" font-size="28.0">0 V</text>
<line x1="439.2" y1="499.1" x2="477.5" y2="499.1" stroke="#3a6ea8" stroke-width="4.00"/>
<text x="488.5" y="509.6" font-size="28.0">down state</text>
<line x1="808.2" y1="499.1" x2="846.0" y2="499.1" stroke="#c8202a" stroke-width="4.00"/>
<text x="852.0" y="509.6" font-size="28.0">up state</text>
<text x="89.4" y="780.0" font-size="24.0">VBM</text>
<text x="325.6" y="780.0" font-size="24.0">CBM</text>
<text x="463.4" y="780.0" font-size="24.0">VBM</text>
<text x="693.9" y="780.0" font-size="24.0">CBM</text>
<text x="846.0" y="780.0" font-size="24.0">VBM</text>
<text x="1061.3" y="780.0" font-size="24.0">CBM</text>
<text x="326.5" y="841.5" font-size="27.8">n-type</text>
<text x="705.0" y="841.5" font-size="27.8">p-type</text>
<text x="1076.0" y="841.5" font-size="27.8">n-type</text>
<text x="297.2" y="565.4" font-size="29.0">E</text>
<text x="316.1" y="574.7" font-size="16.5" stroke="#000" stroke-width="0.5">f</text>
<text x="554.7" y="565.4" font-size="29.0">E</text>
<text x="573.6" y="574.7" font-size="16.5" stroke="#000" stroke-width="0.5">f</text>
<text x="1046.1" y="565.4" font-size="29.0">E</text>
<text x="1065.0" y="574.7" font-size="16.5" stroke="#000" stroke-width="0.5">f</text>
<line x1="1284.7" y1="675.7" x2="1796.0" y2="675.7" stroke="#a0a0a0" stroke-width="2.4" stroke-dasharray="8 7"/>
<line x1="1448.0" y1="554.6" x2="1502.5" y2="650.1" stroke="#d7141c" stroke-width="3.3" stroke-dasharray="7 5.5"/>
<line x1="1592.8" y1="563.6" x2="1642.7" y2="654.5" stroke="#d7141c" stroke-width="3.3" stroke-dasharray="7 5.5"/>
<line x1="1387.5" y1="695.7" x2="1442.7" y2="804.5" stroke="#000" stroke-width="3.3" stroke-dasharray="7 5.5"/>
<line x1="1545.3" y1="702.8" x2="1591.7" y2="790.2" stroke="#000" stroke-width="3.3" stroke-dasharray="7 5.5"/>
<g fill="none" stroke="#d7141c" stroke-width="1.2"><circle cx="1333.2" cy="544.9" r="4.4"/><circle cx="1341.8" cy="546.2" r="4.4"/><circle cx="1350.3" cy="544.8" r="4.4"/><circle cx="1358.9" cy="545.2" r="4.4"/><circle cx="1367.5" cy="548.3" r="4.4"/><circle cx="1376.1" cy="547.9" r="4.4"/><circle cx="1384.7" cy="548.9" r="4.4"/><circle cx="1393.2" cy="549.0" r="4.4"/><circle cx="1401.8" cy="549.5" r="4.4"/><circle cx="1410.4" cy="548.2" r="4.4"/><circle cx="1419.0" cy="546.7" r="4.4"/><circle cx="1427.6" cy="549.8" r="4.4"/><circle cx="1436.1" cy="546.3" r="4.4"/><circle cx="1444.7" cy="548.0" r="4.4"/><circle cx="1453.3" cy="548.2" r="4.4"/><circle cx="1461.9" cy="545.6" r="4.4"/><circle cx="1470.5" cy="547.3" r="4.4"/><circle cx="1479.0" cy="548.2" r="4.4"/><circle cx="1487.6" cy="547.3" r="4.4"/><circle cx="1496.2" cy="647.1" r="4.4"/><circle cx="1504.8" cy="651.4" r="4.4"/><circle cx="1513.4" cy="651.8" r="4.4"/><circle cx="1521.9" cy="651.8" r="4.4"/><circle cx="1530.5" cy="651.8" r="4.4"/><circle cx="1539.1" cy="656.4" r="4.4"/><circle cx="1556.3" cy="662.4" r="4.4"/><circle cx="1573.4" cy="662.4" r="4.4"/><circle cx="1590.6" cy="667.6" r="4.4"/><circle cx="1607.7" cy="666.5" r="4.4"/><circle cx="1624.9" cy="667.6" r="4.4"/><circle cx="1642.1" cy="668.8" r="4.4"/><circle cx="1659.2" cy="667.2" r="4.4"/><circle cx="1676.4" cy="670.2" r="4.4"/><circle cx="1693.5" cy="666.0" r="4.4"/><circle cx="1710.7" cy="670.4" r="4.4"/><circle cx="1727.9" cy="667.0" r="4.4"/><circle cx="1745.0" cy="666.6" r="4.4"/></g>
<g fill="#d7141c"><circle cx="1333.2" cy="545.8" r="4.4"/><circle cx="1341.8" cy="545.2" r="4.4"/><circle cx="1350.3" cy="545.0" r="4.4"/><circle cx="1358.9" cy="544.3" r="4.4"/><circle cx="1367.5" cy="545.2" r="4.4"/><circle cx="1376.1" cy="544.4" r="4.4"/><circle cx="1384.7" cy="548.5" r="4.4"/><circle cx="1393.2" cy="546.5" r="4.4"/><circle cx="1401.8" cy="544.3" r="4.4"/><circle cx="1410.4" cy="545.7" r="4.4"/><circle cx="1419.0" cy="544.5" r="4.4"/><circle cx="1427.6" cy="548.1" r="4.4"/><circle cx="1436.1" cy="546.5" r="4.4"/><circle cx="1444.7" cy="547.5" r="4.4"/><circle cx="1453.3" cy="546.1" r="4.4"/><circle cx="1461.9" cy="546.0" r="4.4"/><circle cx="1470.5" cy="548.6" r="4.4"/><circle cx="1479.0" cy="547.6" r="4.4"/><circle cx="1487.6" cy="547.4" r="4.4"/><circle cx="1496.2" cy="544.4" r="4.4"/><circle cx="1504.8" cy="545.1" r="4.4"/><circle cx="1513.4" cy="547.9" r="4.4"/><circle cx="1521.9" cy="545.0" r="4.4"/><circle cx="1530.5" cy="548.0" r="4.4"/><circle cx="1539.1" cy="545.8" r="4.4"/><circle cx="1633.5" cy="626.0" r="4.4"/><circle cx="1642.1" cy="653.8" r="4.4"/><circle cx="1650.6" cy="669.3" r="4.4"/><circle cx="1659.2" cy="669.9" r="4.4"/><circle cx="1667.8" cy="665.4" r="4.4"/><circle cx="1676.4" cy="668.8" r="4.4"/><circle cx="1685.0" cy="668.8" r="4.4"/><circle cx="1693.5" cy="664.8" r="4.4"/><circle cx="1702.1" cy="665.4" r="4.4"/><circle cx="1710.7" cy="668.4" r="4.4"/><circle cx="1719.3" cy="664.9" r="4.4"/><circle cx="1727.9" cy="667.1" r="4.4"/><circle cx="1736.4" cy="666.4" r="4.4"/><circle cx="1745.0" cy="668.9" r="4.4"/></g>
<g fill="none" stroke="#000" stroke-width="1.2"><circle cx="1333.2" cy="689.4" r="4.4"/><circle cx="1341.8" cy="691.5" r="4.4"/><circle cx="1350.3" cy="691.7" r="4.4"/><circle cx="1358.9" cy="693.9" r="4.4"/><circle cx="1367.5" cy="688.9" r="4.4"/><circle cx="1376.1" cy="694.0" r="4.4"/><circle cx="1384.7" cy="691.3" r="4.4"/><circle cx="1393.2" cy="689.3" r="4.4"/><circle cx="1401.8" cy="693.4" r="4.4"/><circle cx="1410.4" cy="690.0" r="4.4"/><circle cx="1419.0" cy="688.7" r="4.4"/><circle cx="1427.6" cy="690.5" r="4.4"/><circle cx="1436.1" cy="804.8" r="4.4"/><circle cx="1444.7" cy="804.1" r="4.4"/><circle cx="1453.3" cy="802.8" r="4.4"/><circle cx="1461.9" cy="800.6" r="4.4"/><circle cx="1470.5" cy="803.7" r="4.4"/><circle cx="1479.0" cy="802.2" r="4.4"/><circle cx="1487.6" cy="804.1" r="4.4"/><circle cx="1496.2" cy="806.2" r="4.4"/><circle cx="1504.8" cy="807.7" r="4.4"/><circle cx="1513.4" cy="800.0" r="4.4"/><circle cx="1521.9" cy="806.6" r="4.4"/><circle cx="1530.5" cy="802.8" r="4.4"/><circle cx="1539.1" cy="804.8" r="4.4"/><circle cx="1556.3" cy="798.8" r="4.4"/><circle cx="1573.4" cy="804.1" r="4.4"/><circle cx="1590.6" cy="800.0" r="4.4"/><circle cx="1607.7" cy="799.6" r="4.4"/><circle cx="1624.9" cy="804.3" r="4.4"/><circle cx="1642.1" cy="802.0" r="4.4"/><circle cx="1659.2" cy="804.0" r="4.4"/><circle cx="1676.4" cy="799.2" r="4.4"/><circle cx="1693.5" cy="803.0" r="4.4"/><circle cx="1710.7" cy="801.9" r="4.4"/><circle cx="1727.9" cy="798.1" r="4.4"/><circle cx="1745.0" cy="799.2" r="4.4"/></g>
<g fill="#000"><circle cx="1333.2" cy="694.6" r="4.4"/><circle cx="1341.8" cy="689.8" r="4.4"/><circle cx="1350.3" cy="692.4" r="4.4"/><circle cx="1358.9" cy="691.1" r="4.4"/><circle cx="1367.5" cy="694.7" r="4.4"/><circle cx="1376.1" cy="694.5" r="4.4"/><circle cx="1384.7" cy="693.6" r="4.4"/><circle cx="1393.2" cy="688.7" r="4.4"/><circle cx="1401.8" cy="693.5" r="4.4"/><circle cx="1410.4" cy="690.0" r="4.4"/><circle cx="1419.0" cy="688.9" r="4.4"/><circle cx="1427.6" cy="688.8" r="4.4"/><circle cx="1436.1" cy="692.6" r="4.4"/><circle cx="1444.7" cy="692.5" r="4.4"/><circle cx="1453.3" cy="691.4" r="4.4"/><circle cx="1461.9" cy="689.8" r="4.4"/><circle cx="1470.5" cy="694.1" r="4.4"/><circle cx="1479.0" cy="690.0" r="4.4"/><circle cx="1487.6" cy="689.7" r="4.4"/><circle cx="1496.2" cy="689.3" r="4.4"/><circle cx="1504.8" cy="694.5" r="4.4"/><circle cx="1513.4" cy="688.7" r="4.4"/><circle cx="1521.9" cy="694.2" r="4.4"/><circle cx="1530.5" cy="692.6" r="4.4"/><circle cx="1539.1" cy="690.9" r="4.4"/><circle cx="1599.2" cy="798.7" r="4.4"/><circle cx="1607.7" cy="802.7" r="4.4"/><circle cx="1616.3" cy="798.7" r="4.4"/><circle cx="1624.9" cy="801.3" r="4.4"/><circle cx="1633.5" cy="802.9" r="4.4"/><circle cx="1642.1" cy="802.9" r="4.4"/><circle cx="1650.6" cy="803.8" r="4.4"/><circle cx="1659.2" cy="804.5" r="4.4"/><circle cx="1667.8" cy="804.0" r="4.4"/><circle cx="1676.4" cy="800.3" r="4.4"/><circle cx="1685.0" cy="798.2" r="4.4"/><circle cx="1693.5" cy="803.9" r="4.4"/><circle cx="1702.1" cy="804.7" r="4.4"/><circle cx="1710.7" cy="798.2" r="4.4"/><circle cx="1719.3" cy="801.4" r="4.4"/><circle cx="1727.9" cy="802.2" r="4.4"/><circle cx="1736.4" cy="803.4" r="4.4"/><circle cx="1745.0" cy="800.9" r="4.4"/></g>
<line x1="1476.3" y1="635.4" x2="1444.1" y2="580.5" stroke="#d7141c" stroke-width="2.0"/><path d="M1437.5 569.3L1450.7 578.9L1443.2 579.0L1439.5 585.5Z" fill="#d7141c"/>
<line x1="1411.5" y1="779.5" x2="1378.9" y2="724.7" stroke="#d7141c" stroke-width="2.0"/><path d="M1372.3 713.5L1385.5 723.1L1378.0 723.2L1374.4 729.7Z" fill="#d7141c"/>
<line x1="1610.6" y1="561.8" x2="1640.2" y2="618.0" stroke="#3a6ea8" stroke-width="2.0"/><path d="M1646.3 629.5L1633.6 619.3L1641.1 619.5L1645.1 613.2Z" fill="#3a6ea8"/>
<line x1="1563.1" y1="701.9" x2="1592.8" y2="759.1" stroke="#3a6ea8" stroke-width="2.0"/><path d="M1598.8 770.6L1586.1 760.3L1593.6 760.6L1597.7 754.3Z" fill="#3a6ea8"/>
<path d="M1281.7 883.1v-7.8M1324.6 883.1v-4.2M1367.5 883.1v-7.8M1410.4 883.1v-4.2M1453.3 883.1v-7.8M1496.2 883.1v-4.2M1539.1 883.1v-7.8M1582.0 883.1v-4.2M1624.9 883.1v-7.8M1667.8 883.1v-4.2M1710.7 883.1v-7.8M1753.6 883.1v-4.2M1796.5 883.1v-7.8M1281.7 877.8h4.2M1797.0 877.8h-4.2M1281.7 849.0h8.4M1797.0 849.0h-8.4M1281.7 820.1h4.2M1797.0 820.1h-4.2M1281.7 791.2h8.4M1797.0 791.2h-8.4M1281.7 762.3h4.2M1797.0 762.3h-4.2M1281.7 733.5h8.4M1797.0 733.5h-8.4M1281.7 704.6h4.2M1797.0 704.6h-4.2M1281.7 675.7h8.4M1797.0 675.7h-8.4M1281.7 646.8h4.2M1797.0 646.8h-4.2M1281.7 618.0h8.4M1797.0 618.0h-8.4M1281.7 589.1h4.2M1797.0 589.1h-4.2M1281.7 560.2h8.4M1797.0 560.2h-8.4M1281.7 531.3h4.2M1797.0 531.3h-4.2M1281.7 502.5h8.4M1797.0 502.5h-8.4M1281.7 473.6h4.2M1797.0 473.6h-4.2" stroke="#333" stroke-width="1.3" fill="none"/>
<rect x="1281.7" y="468.2" width="515.3" height="414.9" fill="none" stroke="#222" stroke-width="1.4"/>
<rect x="1640" y="476.2" width="147.6" height="43.3" fill="#fff" stroke="#222" stroke-width="1.4"/>
<rect x="1640" y="530.5" width="147.6" height="42.5" fill="#fff" stroke="#222" stroke-width="1.4"/>
<circle cx="1655.2" cy="484.2" r="4.4"/><circle cx="1655.2" cy="510.2" r="4.4" fill="#d7141c"/>
<circle cx="1656.2" cy="538.9" r="4.4" fill="none" stroke="#222" stroke-width="1.2"/><circle cx="1656.2" cy="565" r="4.4" fill="none" stroke="#d7141c" stroke-width="1.2"/>
<text x="1668.5" y="507.6" font-size="25.7">forward</text>
<text x="1670.2" y="558.3" font-size="25.7">backward</text>
<text x="1278.2" y="912.8" font-size="29.5" text-anchor="middle">-30</text>
<text x="1364.0" y="912.8" font-size="29.5" text-anchor="middle">-20</text>
<text x="1449.8" y="912.8" font-size="29.5" text-anchor="middle">-10</text>
<text x="1537.1" y="912.8" font-size="29.5" text-anchor="middle">0</text>
<text x="1622.9" y="912.8" font-size="29.5" text-anchor="middle">10</text>
<text x="1708.7" y="912.8" font-size="29.5" text-anchor="middle">20</text>
<text x="1794.5" y="912.8" font-size="29.5" text-anchor="middle">30</text>
<text x="1275.3" y="509.1" font-size="28.5" text-anchor="end">1.5</text>
<text x="1275.3" y="566.8" font-size="28.5" text-anchor="end">1.0</text>
<text x="1275.3" y="624.6" font-size="28.5" text-anchor="end">0.5</text>
<text x="1275.3" y="682.3" font-size="28.5" text-anchor="end">0.0</text>
<text x="1275.3" y="740.1" font-size="28.5" text-anchor="end">-0.5</text>
<text x="1275.3" y="797.8" font-size="28.5" text-anchor="end">-1.0</text>
<text x="1275.3" y="855.6" font-size="28.5" text-anchor="end">-1.5</text>
<text transform="translate(1218.5 672.3) rotate(-90)" font-size="27.0" text-anchor="middle"><tspan font-style="italic">V</tspan><tspan font-size="17.0" dy="8.0" dx="0.0">b</tspan><tspan dy="-8.0" dx="-3.0"> (V)</tspan></text>
<text x="1509.5" y="938.5" font-size="28.5"><tspan font-style="italic">V</tspan><tspan font-size="17.0" dy="9.0" dx="0.0">g</tspan><tspan dy="-9.0" dx="-2.0"> (V)</tspan></text>
<text x="1306.0" y="526.5" font-size="25.7" fill="#d7141c">Conduction Band</text>
<text x="1603.5" y="844.0" font-size="26.6">Valence Band</text>
<text x="1310.4" y="659.8" font-size="25.6">E</text>
<text x="1327.7" y="668.4" font-size="15.0" stroke="#000" stroke-width="0.4">f</text>
<text x="-0.4" y="24.4" font-size="35.5">a</text>
<text x="-0.1" y="466.5" font-size="35.3">b</text>
<text x="745.5" y="22.6" font-size="35.5">c</text>
<text x="1214.3" y="459.4" font-size="35.3">d</text>
</svg>
</body></html>
